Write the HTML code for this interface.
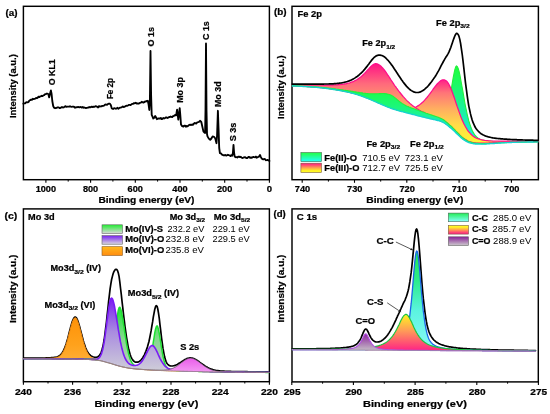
<!DOCTYPE html>
<html><head><meta charset="utf-8"><title>XPS spectra</title>
<style>
html,body{margin:0;padding:0;background:#fff;}
svg{display:block;font-family:"Liberation Sans",Arial,sans-serif;}
text{fill:#000;}
text[font-weight=bold]{stroke:#000;stroke-width:0.22px;}
</style></head>
<body>
<svg width="550" height="414" viewBox="0 0 550 414">
<defs>
<linearGradient id="gbp" x1="0" y1="0" x2="0" y2="1"><stop offset="0" stop-color="#ff1485"/><stop offset="0.25" stop-color="#ff6a7c"/><stop offset="0.5" stop-color="#ffa466"/><stop offset="0.75" stop-color="#ffd44a"/><stop offset="1" stop-color="#fff830"/></linearGradient>
<linearGradient id="gbp2" x1="0" y1="0" x2="0" y2="1"><stop offset="0" stop-color="#ff2088"/><stop offset="0.2" stop-color="#ff7478"/><stop offset="0.45" stop-color="#ffae60"/><stop offset="0.7" stop-color="#ffdc48"/><stop offset="1" stop-color="#fff830"/></linearGradient>
<linearGradient id="gbg" x1="0" y1="0" x2="0" y2="1"><stop offset="0" stop-color="#1cff3c"/><stop offset="0.45" stop-color="#1cf58a"/><stop offset="1" stop-color="#1ce6ee"/></linearGradient>
<linearGradient id="lb1" x1="0" y1="0" x2="0" y2="1"><stop offset="0" stop-color="#22ff44"/><stop offset="1" stop-color="#22ffff"/></linearGradient>
<linearGradient id="lb2" x1="0" y1="0" x2="0" y2="1"><stop offset="0" stop-color="#ff1a80"/><stop offset="0.15" stop-color="#ff3a7a"/><stop offset="0.5" stop-color="#ffa050"/><stop offset="0.8" stop-color="#fff028"/><stop offset="1" stop-color="#ffff20"/></linearGradient>
<linearGradient id="gco" x1="0" y1="0" x2="0" y2="1"><stop offset="0" stop-color="#ff9208"/><stop offset="0.5" stop-color="#ffa21c"/><stop offset="1" stop-color="#ffb648"/></linearGradient>
<linearGradient id="gcg" x1="0" y1="0" x2="0" y2="1"><stop offset="0" stop-color="#1fe636"/><stop offset="0.5" stop-color="#86da8e"/><stop offset="1" stop-color="#c6c6ca"/></linearGradient>
<linearGradient id="gcv" x1="0" y1="0" x2="0" y2="1"><stop offset="0" stop-color="#7a1cf0"/><stop offset="0.45" stop-color="#a98be0"/><stop offset="1" stop-color="#d0d0d8"/></linearGradient>
<linearGradient id="gcs" x1="0" y1="0" x2="0" y2="1"><stop offset="0" stop-color="#ea5cea"/><stop offset="1" stop-color="#f49af4"/></linearGradient>
<linearGradient id="lc1" x1="0" y1="0" x2="0" y2="1"><stop offset="0" stop-color="#22ee33"/><stop offset="1" stop-color="#d8d8d8"/></linearGradient>
<linearGradient id="lc2" x1="0" y1="0" x2="0" y2="1"><stop offset="0" stop-color="#7722ee"/><stop offset="1" stop-color="#d8d8e0"/></linearGradient>
<linearGradient id="lc3" x1="0" y1="0" x2="0" y2="1"><stop offset="0" stop-color="#ffb81c"/><stop offset="1" stop-color="#ff8c10"/></linearGradient>
<linearGradient id="gdc" x1="0" y1="0" x2="0" y2="1"><stop offset="0" stop-color="#1fe652"/><stop offset="0.3" stop-color="#2cec8c"/><stop offset="0.6" stop-color="#5cf4e0"/><stop offset="1" stop-color="#8af8f8"/></linearGradient>
<linearGradient id="gds" x1="0" y1="0" x2="0" y2="1"><stop offset="0" stop-color="#fff420"/><stop offset="0.45" stop-color="#ff9a58"/><stop offset="1" stop-color="#ff1f86"/></linearGradient>
<linearGradient id="gdo" x1="0" y1="0" x2="0" y2="1"><stop offset="0" stop-color="#8a249c"/><stop offset="1" stop-color="#c8c4c8"/></linearGradient>
<linearGradient id="ld1" x1="0" y1="0" x2="0" y2="1"><stop offset="0" stop-color="#22ee55"/><stop offset="1" stop-color="#88ffff"/></linearGradient>
<linearGradient id="ld2" x1="0" y1="0" x2="0" y2="1"><stop offset="0" stop-color="#ffff22"/><stop offset="0.2" stop-color="#fff028"/><stop offset="0.5" stop-color="#ffa050"/><stop offset="0.85" stop-color="#ff3a7a"/><stop offset="1" stop-color="#ff2288"/></linearGradient>
<linearGradient id="ld3" x1="0" y1="0" x2="0" y2="1"><stop offset="0" stop-color="#882299"/><stop offset="1" stop-color="#cccccc"/></linearGradient>
</defs>
<rect x="0" y="0" width="550" height="414" fill="#fff"/>
<rect x="23.4" y="6.3" width="246" height="173.4" fill="none" stroke="#000" stroke-width="1.45"/>
<polyline points="23.4,103.7 24.3,103.4 25.1,103.3 26,102.3 26.8,102.2 27.7,102.4 28.5,102 29.4,100.5 30.2,100.2 31.1,99.6 31.9,99.8 32.8,98.8 33.6,99.1 34.5,98.8 35.3,98.7 36.1,97.9 36.9,98.2 37.7,97.7 38.5,96.6 39.4,97.1 40.2,96.3 41,96.3 41.8,95.8 42.6,96.1 43.4,95.4 44.2,95.2 45.1,94.1 46.1,94.1 47,93.5 48.3,94 49.2,97.4 50.2,93 50.9,90.4 51.6,94 52.3,101 53.2,106 54,107.6 55.1,108.2 56.2,108 57,107.6 57.9,107.3 58.7,107.4 59.5,108.1 60.3,108 61.2,107.4 62,107 62.9,107.5 63.8,107.4 64.7,106.6 65.6,106.2 66.5,106.9 67.4,106.7 68.3,106.6 69.2,106.5 70,106.3 70.9,106.7 71.7,106.8 72.6,106.6 73.4,106.7 74.3,107 75.1,107.7 76,107.2 76.8,107.4 77.7,107 78.5,107 79.3,107.4 80.2,107 81,107.1 81.9,107.6 82.7,107 83.5,107.7 84.4,107.5 85.2,107.8 86,108 86.9,107.9 87.7,107.7 88.5,107.6 89.3,107 90.2,107.4 91,107 91.9,106.7 92.8,107.1 93.7,106.7 94.6,106.8 95.5,106.2 96.4,106.4 97.3,106.8 98.1,107.4 99,106.1 99.8,106.6 100.7,106.4 101.5,106.4 102.3,105.9 103.2,105.9 104,105.6 105,104.7 106,104.5 107,104.9 108,104 108.9,103.6 109.9,103.7 110.8,105 111.8,108.5 113,109 113.9,108.3 114.8,108.2 115.7,108.7 116.6,108.5 117.5,107.8 118.4,108.7 119.3,108 120.2,107.6 121.1,107.6 122,107 122.8,106.4 123.7,107.1 124.5,106.7 125.3,106.3 126.2,105.7 127,105.9 127.9,105.5 128.7,104.9 129.6,104.9 130.5,105.1 131.4,104.4 132.3,103.8 133.2,103.8 134.1,103.1 135,103.3 135.8,102.8 136.7,103.5 137.5,103.5 138.3,103.7 139.2,103.4 140,102.8 140.9,102.7 141.7,101.8 142.6,102.1 143.4,102.6 144.3,102.2 145.1,101.5 146,101.3 146.9,101 147.8,100.8 148.5,104 149.3,110 149.9,100 150.5,50.9 151.1,95 151.7,114.9 152.5,116.7 153.3,118.5 154.4,117.5 155.2,116 156.1,117.5 156.9,119.2 157.9,118.6 159,118.3 160,118.6 160.8,117.9 161.7,119.1 162.5,118.8 163.4,118 164.2,118.5 165,118.2 165.8,117.4 166.6,117.4 167.4,118 168.2,117.6 169,117.2 169.8,117 170.6,116.5 171.4,116.8 172.2,117.1 173,116.1 173.8,116 175,115.1 176.2,115.4 176.7,112 177.1,109.6 177.6,114 178.3,119.7 179,114 179.7,108.2 180.3,115 181,124.5 182,126 183.5,126.5 184.3,125.7 185.1,125.6 185.9,126.8 186.7,126 187.5,126.3 188.3,125.7 189.2,124.9 190.2,124.7 191.1,125.1 192,124.5 192.9,124.8 193.8,123.7 194.7,122.9 195.6,123.3 196.4,123.5 197.2,122.3 198,122.2 199,121.9 200,120.8 201.3,122 202.2,126 203.4,131.4 204.3,132.5 205.1,133 205.5,110 206,43.5 206.5,110 207,134 207.5,136.4 208.8,138.6 210.2,139.8 211.4,138.5 212.6,136.4 214,136.8 215.3,138.5 216.5,143.2 217.1,135 217.9,110.8 218.6,130 219.2,148 219.9,153 220.9,153.3 222,154.6 222.8,155 223.7,155.3 224.5,155.3 225.3,154.9 226.2,155.5 227,155.3 227.9,154.8 228.7,155.2 229.6,155.4 230.5,156.1 231.3,155.1 232.2,155.7 232.9,153 233.5,144.9 234.1,153 234.7,156.5 235.6,157.2 236.5,157.1 237.3,157.5 238.2,156.7 239.1,156.6 240,157.1 240.8,156.8 241.6,157.7 242.4,158 243.3,157.7 244.1,157.4 244.9,157.2 245.7,157.6 246.6,158.1 247.5,158.1 248.3,156.9 249.2,157 250.1,157.9 251,157.4 251.8,157.9 252.6,157.1 253.4,157 254.2,157.2 255.1,157.3 255.9,156.6 256.7,157.7 257.5,157.2 258.4,156.9 259.2,156.4 260,155 260.8,156.8 261.6,158.4 262.8,159.2 264,159.2 264.9,159 265.8,160.3 266.7,160.2 267.6,160 268.5,160.3 269.4,161" fill="none" stroke="#000" stroke-width="1.85" stroke-linejoin="round" stroke-linecap="round"/>
<line x1="45.9" y1="179.8" x2="45.9" y2="182.8" stroke="#000" stroke-width="1.1"/>
<line x1="90.6" y1="179.8" x2="90.6" y2="182.8" stroke="#000" stroke-width="1.1"/>
<line x1="135.3" y1="179.8" x2="135.3" y2="182.8" stroke="#000" stroke-width="1.1"/>
<line x1="180" y1="179.8" x2="180" y2="182.8" stroke="#000" stroke-width="1.1"/>
<line x1="224.7" y1="179.8" x2="224.7" y2="182.8" stroke="#000" stroke-width="1.1"/>
<line x1="269.4" y1="179.8" x2="269.4" y2="182.8" stroke="#000" stroke-width="1.1"/>
<line x1="68.2" y1="179.8" x2="68.2" y2="181.6" stroke="#000" stroke-width="1.0"/>
<line x1="112.9" y1="179.8" x2="112.9" y2="181.6" stroke="#000" stroke-width="1.0"/>
<line x1="157.6" y1="179.8" x2="157.6" y2="181.6" stroke="#000" stroke-width="1.0"/>
<line x1="202.3" y1="179.8" x2="202.3" y2="181.6" stroke="#000" stroke-width="1.0"/>
<line x1="247" y1="179.8" x2="247" y2="181.6" stroke="#000" stroke-width="1.0"/>
<rect x="292" y="6.3" width="246.4" height="173.4" fill="none" stroke="#000" stroke-width="1.45"/>
<polygon points="292.3,85.9 293.1,85.9 293.9,85.9 294.8,86 295.6,86 296.4,86.1 297.2,86.1 298,86.1 298.9,86.2 299.7,86.2 300.5,86.3 301.3,86.3 302.2,86.4 303,86.4 303.8,86.4 304.6,86.5 305.4,86.5 306.3,86.6 307.1,86.6 307.9,86.7 308.7,86.7 309.5,86.8 310.4,86.9 311.2,86.9 312,87 312.8,87 313.6,87.1 314.5,87.2 315.3,87.2 316.1,87.3 316.9,87.4 317.8,87.4 318.6,87.5 319.4,87.6 320.2,87.7 321,87.7 321.9,87.8 322.7,87.9 323.5,88 324.3,88.1 325.1,88.2 326,88.3 326.8,88.4 327.6,88.5 328.4,88.6 329.2,88.7 330.1,88.9 330.9,89 331.7,89.1 332.5,89.2 333.4,89.4 334.2,89.5 335,89.6 335.8,89.8 336.6,89.9 337.5,90 338.3,90.2 339.1,90.3 339.9,90.4 340.7,90.6 341.6,90.7 342.4,90.9 343.2,91.1 344,91.2 344.8,91.4 345.7,91.6 346.5,91.7 347.3,91.9 348.1,92.1 349,92.3 349.8,92.5 350.6,92.7 351.4,92.9 352.2,93.1 353.1,93.3 353.9,93.5 354.7,93.8 355.5,94 356.3,94.2 357.2,94.5 358,94.7 358.8,95 359.6,95.3 360.4,95.6 361.3,95.9 362.1,96.2 362.9,96.5 363.7,96.8 364.6,97.1 365.4,97.4 366.2,97.7 367,98 367.8,98.3 368.7,98.7 369.5,99 370.3,99.3 371.1,99.7 371.9,100 372.8,100.4 373.6,100.7 374.4,101.1 375.2,101.4 376,101.8 376.9,102.2 377.7,102.5 378.5,102.9 379.3,103.2 380.2,103.6 381,104 381.8,104.3 382.6,104.6 383.4,105 384.3,105.3 385.1,105.7 385.9,106 386.7,106.4 387.5,106.7 388.4,107 389.2,107.3 390,107.6 390.8,107.9 391.6,108.2 392.5,108.5 393.3,108.8 394.1,109.1 394.9,109.3 395.8,109.5 396.6,109.8 397.4,110 398.2,110.2 399,110.4 399.9,110.6 400.7,110.8 401.5,111 402.3,111.2 403.1,111.4 404,111.6 404.8,111.8 405.6,112 406.4,112.2 407.2,112.4 408.1,112.6 408.9,112.8 409.7,113 410.5,113.2 411.4,113.4 412.2,113.5 413,113.7 413.8,113.9 414.6,114.1 415.5,114.3 416.3,114.4 417.1,114.6 417.9,114.8 418.7,114.9 419.6,115.1 420.4,115.3 421.2,115.4 422,115.6 422.9,115.7 423.7,115.8 424.5,116 425.3,116.1 426.1,116.2 427,116.4 427.8,116.5 428.6,116.6 429.4,116.7 430.2,116.7 431.1,116.8 431.9,116.8 432.7,116.8 433.5,116.8 434.3,116.8 435.2,116.8 436,116.8 436.8,116.7 437.6,116.6 438.5,116.5 439.3,116.3 440.1,116 440.9,115.7 441.7,115.3 442.6,114.7 443.4,114 444.2,113.1 445,112 445.8,110.5 446.7,108.6 447.5,106.3 448.3,103.5 449.1,100.1 449.9,96.3 450.8,91.9 451.6,87.3 452.4,82.4 453.2,77.6 454.1,73.1 454.9,69.4 455.7,66.9 456.5,65.9 457.3,66.6 458.2,68.4 459,71.1 459.8,74.6 460.6,78.8 461.4,83.3 462.3,88 463.1,92.7 463.9,97.4 464.7,102 465.5,106.3 466.4,110.4 467.2,114.3 468,117.7 468.8,120.9 469.7,123.7 470.5,126.1 471.3,128.3 472.1,130.3 472.9,131.9 473.8,133.4 474.6,134.6 475.4,135.7 476.2,136.5 477,137.2 477.9,137.9 478.7,138.4 479.5,138.9 480.3,139.3 481.1,139.6 482,139.9 482.8,140.2 483.6,140.4 484.4,140.6 485.3,140.7 486.1,140.9 486.9,141 487.7,141.1 488.5,141.1 489.4,141.2 490.2,141.3 491,141.3 491.8,141.4 492.6,141.4 493.5,141.5 494.3,141.5 495.1,141.5 495.9,141.5 496.7,141.5 497.6,141.5 498.4,141.5 499.2,141.5 500,141.5 500.9,141.5 501.7,141.5 502.5,141.5 503.3,141.5 504.1,141.5 505,141.5 505.8,141.5 506.6,141.5 507.4,141.5 508.2,141.5 509.1,141.5 509.9,141.5 510.7,141.5 511.5,141.5 512.3,141.5 513.2,141.5 514,141.5 514.8,141.5 515.6,141.5 516.5,141.5 517.3,141.5 518.1,141.5 518.9,141.5 519.7,141.5 520.6,141.5 521.4,141.5 522.2,141.5 523,141.5 523.8,141.5 524.7,141.5 525.5,141.5 526.3,141.5 527.1,141.5 527.9,141.5 528.8,141.5 529.6,141.5 530.4,141.5 531.2,141.5 532.1,141.5 532.9,141.5 533.7,141.5 534.5,141.5 535.3,141.5 536.2,141.5 537,141.5 537.8,141.5 537.8,141.9 537,141.9 536.2,141.9 535.3,141.9 534.5,141.9 533.7,142 532.9,142 532.1,142 531.2,142 530.4,142 529.6,142 528.8,142 527.9,142 527.1,142.1 526.3,142.1 525.5,142.1 524.7,142.1 523.8,142.1 523,142.1 522.2,142.2 521.4,142.2 520.6,142.2 519.7,142.2 518.9,142.2 518.1,142.2 517.3,142.3 516.5,142.3 515.6,142.3 514.8,142.3 514,142.4 513.2,142.4 512.3,142.4 511.5,142.5 510.7,142.5 509.9,142.5 509.1,142.6 508.2,142.6 507.4,142.6 506.6,142.7 505.8,142.7 505,142.7 504.1,142.8 503.3,142.8 502.5,142.9 501.7,142.9 500.9,143 500,143 499.2,143.1 498.4,143.1 497.6,143.2 496.7,143.3 495.9,143.3 495.1,143.4 494.3,143.5 493.5,143.5 492.6,143.6 491.8,143.6 491,143.7 490.2,143.7 489.4,143.8 488.5,143.8 487.7,143.9 486.9,143.9 486.1,144 485.3,144 484.4,144.1 483.6,144.1 482.8,144.1 482,144.1 481.1,144.1 480.3,144.1 479.5,144.1 478.7,144.1 477.9,144 477,144 476.2,144 475.4,144 474.6,143.9 473.8,143.8 472.9,143.6 472.1,143.4 471.3,143.3 470.5,143 469.7,142.8 468.8,142.6 468,142.2 467.2,141.8 466.4,141.4 465.5,140.9 464.7,140.4 463.9,139.9 463.1,139.4 462.3,138.8 461.4,138.1 460.6,137.4 459.8,136.6 459,135.8 458.2,135 457.3,134.2 456.5,133.5 455.7,132.7 454.9,131.9 454.1,131.1 453.2,130.3 452.4,129.6 451.6,128.8 450.8,128.1 449.9,127.5 449.1,126.8 448.3,126.1 447.5,125.5 446.7,124.8 445.8,124.2 445,123.6 444.2,123 443.4,122.6 442.6,122.1 441.7,121.8 440.9,121.5 440.1,121.2 439.3,120.9 438.5,120.7 437.6,120.5 436.8,120.3 436,120.1 435.2,119.9 434.3,119.7 433.5,119.5 432.7,119.3 431.9,119.2 431.1,119 430.2,118.8 429.4,118.6 428.6,118.4 427.8,118.2 427,118 426.1,117.8 425.3,117.6 424.5,117.4 423.7,117.2 422.9,117 422,116.8 421.2,116.6 420.4,116.4 419.6,116.2 418.7,116 417.9,115.8 417.1,115.6 416.3,115.4 415.5,115.1 414.6,114.9 413.8,114.7 413,114.5 412.2,114.3 411.4,114.1 410.5,113.9 409.7,113.7 408.9,113.5 408.1,113.2 407.2,113 406.4,112.8 405.6,112.6 404.8,112.4 404,112.1 403.1,111.9 402.3,111.7 401.5,111.5 400.7,111.3 399.9,111.1 399,110.8 398.2,110.6 397.4,110.4 396.6,110.2 395.8,109.9 394.9,109.7 394.1,109.4 393.3,109.2 392.5,108.9 391.6,108.6 390.8,108.3 390,108 389.2,107.7 388.4,107.4 387.5,107 386.7,106.7 385.9,106.3 385.1,106 384.3,105.6 383.4,105.3 382.6,104.9 381.8,104.6 381,104.2 380.2,103.9 379.3,103.5 378.5,103.1 377.7,102.8 376.9,102.4 376,102 375.2,101.7 374.4,101.3 373.6,101 372.8,100.6 371.9,100.2 371.1,99.9 370.3,99.5 369.5,99.2 368.7,98.9 367.8,98.5 367,98.2 366.2,97.9 365.4,97.6 364.6,97.2 363.7,96.9 362.9,96.6 362.1,96.3 361.3,96 360.4,95.7 359.6,95.5 358.8,95.2 358,94.9 357.2,94.7 356.3,94.4 355.5,94.2 354.7,93.9 353.9,93.7 353.1,93.5 352.2,93.2 351.4,93 350.6,92.8 349.8,92.6 349,92.4 348.1,92.2 347.3,92 346.5,91.9 345.7,91.7 344.8,91.5 344,91.3 343.2,91.2 342.4,91 341.6,90.9 340.7,90.7 339.9,90.6 339.1,90.4 338.3,90.3 337.5,90.1 336.6,90 335.8,89.9 335,89.7 334.2,89.6 333.4,89.5 332.5,89.3 331.7,89.2 330.9,89.1 330.1,89 329.2,88.8 328.4,88.7 327.6,88.6 326.8,88.5 326,88.4 325.1,88.3 324.3,88.2 323.5,88.1 322.7,88 321.9,87.9 321,87.8 320.2,87.7 319.4,87.7 318.6,87.6 317.8,87.5 316.9,87.4 316.1,87.4 315.3,87.3 314.5,87.2 313.6,87.2 312.8,87.1 312,87 311.2,87 310.4,86.9 309.5,86.9 308.7,86.8 307.9,86.8 307.1,86.7 306.3,86.7 305.4,86.6 304.6,86.6 303.8,86.5 303,86.5 302.2,86.4 301.3,86.4 300.5,86.3 299.7,86.3 298.9,86.2 298,86.2 297.2,86.2 296.4,86.1 295.6,86.1 294.8,86 293.9,86 293.1,86 292.3,85.9" fill="url(#gbg)" stroke="none"/>
<polyline points="292.3,85.9 293.1,85.9 293.9,85.9 294.8,86 295.6,86 296.4,86.1 297.2,86.1 298,86.1 298.9,86.2 299.7,86.2 300.5,86.3 301.3,86.3 302.2,86.4 303,86.4 303.8,86.4 304.6,86.5 305.4,86.5 306.3,86.6 307.1,86.6 307.9,86.7 308.7,86.7 309.5,86.8 310.4,86.9 311.2,86.9 312,87 312.8,87 313.6,87.1 314.5,87.2 315.3,87.2 316.1,87.3 316.9,87.4 317.8,87.4 318.6,87.5 319.4,87.6 320.2,87.7 321,87.7 321.9,87.8 322.7,87.9 323.5,88 324.3,88.1 325.1,88.2 326,88.3 326.8,88.4 327.6,88.5 328.4,88.6 329.2,88.7 330.1,88.9 330.9,89 331.7,89.1 332.5,89.2 333.4,89.4 334.2,89.5 335,89.6 335.8,89.8 336.6,89.9 337.5,90 338.3,90.2 339.1,90.3 339.9,90.4 340.7,90.6 341.6,90.7 342.4,90.9 343.2,91.1 344,91.2 344.8,91.4 345.7,91.6 346.5,91.7 347.3,91.9 348.1,92.1 349,92.3 349.8,92.5 350.6,92.7 351.4,92.9 352.2,93.1 353.1,93.3 353.9,93.5 354.7,93.8 355.5,94 356.3,94.2 357.2,94.5 358,94.7 358.8,95 359.6,95.3 360.4,95.6 361.3,95.9 362.1,96.2 362.9,96.5 363.7,96.8 364.6,97.1 365.4,97.4 366.2,97.7 367,98 367.8,98.3 368.7,98.7 369.5,99 370.3,99.3 371.1,99.7 371.9,100 372.8,100.4 373.6,100.7 374.4,101.1 375.2,101.4 376,101.8 376.9,102.2 377.7,102.5 378.5,102.9 379.3,103.2 380.2,103.6 381,104 381.8,104.3 382.6,104.6 383.4,105 384.3,105.3 385.1,105.7 385.9,106 386.7,106.4 387.5,106.7 388.4,107 389.2,107.3 390,107.6 390.8,107.9 391.6,108.2 392.5,108.5 393.3,108.8 394.1,109.1 394.9,109.3 395.8,109.5 396.6,109.8 397.4,110 398.2,110.2 399,110.4 399.9,110.6 400.7,110.8 401.5,111 402.3,111.2 403.1,111.4 404,111.6 404.8,111.8 405.6,112 406.4,112.2 407.2,112.4 408.1,112.6 408.9,112.8 409.7,113 410.5,113.2 411.4,113.4 412.2,113.5 413,113.7 413.8,113.9 414.6,114.1 415.5,114.3 416.3,114.4 417.1,114.6 417.9,114.8 418.7,114.9 419.6,115.1 420.4,115.3 421.2,115.4 422,115.6 422.9,115.7 423.7,115.8 424.5,116 425.3,116.1 426.1,116.2 427,116.4 427.8,116.5 428.6,116.6 429.4,116.7 430.2,116.7 431.1,116.8 431.9,116.8 432.7,116.8 433.5,116.8 434.3,116.8 435.2,116.8 436,116.8 436.8,116.7 437.6,116.6 438.5,116.5 439.3,116.3 440.1,116 440.9,115.7 441.7,115.3 442.6,114.7 443.4,114 444.2,113.1 445,112 445.8,110.5 446.7,108.6 447.5,106.3 448.3,103.5 449.1,100.1 449.9,96.3 450.8,91.9 451.6,87.3 452.4,82.4 453.2,77.6 454.1,73.1 454.9,69.4 455.7,66.9 456.5,65.9 457.3,66.6 458.2,68.4 459,71.1 459.8,74.6 460.6,78.8 461.4,83.3 462.3,88 463.1,92.7 463.9,97.4 464.7,102 465.5,106.3 466.4,110.4 467.2,114.3 468,117.7 468.8,120.9 469.7,123.7 470.5,126.1 471.3,128.3 472.1,130.3 472.9,131.9 473.8,133.4 474.6,134.6 475.4,135.7 476.2,136.5 477,137.2 477.9,137.9 478.7,138.4 479.5,138.9 480.3,139.3 481.1,139.6 482,139.9 482.8,140.2 483.6,140.4 484.4,140.6 485.3,140.7 486.1,140.9 486.9,141 487.7,141.1 488.5,141.1 489.4,141.2 490.2,141.3 491,141.3 491.8,141.4 492.6,141.4 493.5,141.5 494.3,141.5 495.1,141.5 495.9,141.5 496.7,141.5 497.6,141.5 498.4,141.5 499.2,141.5 500,141.5 500.9,141.5 501.7,141.5 502.5,141.5 503.3,141.5 504.1,141.5 505,141.5 505.8,141.5 506.6,141.5 507.4,141.5 508.2,141.5 509.1,141.5 509.9,141.5 510.7,141.5 511.5,141.5 512.3,141.5 513.2,141.5 514,141.5 514.8,141.5 515.6,141.5 516.5,141.5 517.3,141.5 518.1,141.5 518.9,141.5 519.7,141.5 520.6,141.5 521.4,141.5 522.2,141.5 523,141.5 523.8,141.5 524.7,141.5 525.5,141.5 526.3,141.5 527.1,141.5 527.9,141.5 528.8,141.5 529.6,141.5 530.4,141.5 531.2,141.5 532.1,141.5 532.9,141.5 533.7,141.5 534.5,141.5 535.3,141.5 536.2,141.5 537,141.5 537.8,141.5" fill="none" stroke="#22f03c" stroke-width="1.1" stroke-linejoin="round" stroke-linecap="round"/>
<polygon points="292.3,85.7 293.1,85.8 293.9,85.8 294.8,85.8 295.6,85.9 296.4,85.9 297.2,86 298,86 298.9,86 299.7,86.1 300.5,86.1 301.3,86.2 302.2,86.2 303,86.2 303.8,86.3 304.6,86.3 305.4,86.4 306.3,86.4 307.1,86.5 307.9,86.5 308.7,86.6 309.5,86.6 310.4,86.7 311.2,86.7 312,86.8 312.8,86.9 313.6,86.9 314.5,87 315.3,87 316.1,87.1 316.9,87.2 317.8,87.2 318.6,87.3 319.4,87.4 320.2,87.5 321,87.5 321.9,87.6 322.7,87.7 323.5,87.8 324.3,87.9 325.1,88 326,88.1 326.8,88.2 327.6,88.3 328.4,88.4 329.2,88.5 330.1,88.6 330.9,88.7 331.7,88.9 332.5,89 333.4,89.1 334.2,89.2 335,89.4 335.8,89.5 336.6,89.6 337.5,89.8 338.3,89.9 339.1,90 339.9,90.2 340.7,90.3 341.6,90.5 342.4,90.6 343.2,90.8 344,90.9 344.8,91.1 345.7,91.3 346.5,91.4 347.3,91.6 348.1,91.8 349,92 349.8,92.2 350.6,92.4 351.4,92.6 352.2,92.8 353.1,93 353.9,93.2 354.7,93.4 355.5,93.6 356.3,93.9 357.2,94.1 358,94.4 358.8,94.6 359.6,94.9 360.4,95.2 361.3,95.4 362.1,95.7 362.9,96 363.7,96.3 364.6,96.6 365.4,96.9 366.2,97.2 367,97.5 367.8,97.8 368.7,98.2 369.5,98.5 370.3,98.8 371.1,99.1 371.9,99.5 372.8,99.8 373.6,100.2 374.4,100.5 375.2,100.8 376,101.2 376.9,101.5 377.7,101.9 378.5,102.2 379.3,102.6 380.2,102.9 381,103.2 381.8,103.6 382.6,103.9 383.4,104.2 384.3,104.5 385.1,104.9 385.9,105.2 386.7,105.5 387.5,105.8 388.4,106.1 389.2,106.4 390,106.7 390.8,106.9 391.6,107.2 392.5,107.4 393.3,107.7 394.1,107.9 394.9,108.1 395.8,108.2 396.6,108.4 397.4,108.5 398.2,108.7 399,108.8 399.9,108.9 400.7,109 401.5,109.1 402.3,109.1 403.1,109.2 404,109.2 404.8,109.3 405.6,109.3 406.4,109.3 407.2,109.2 408.1,109.2 408.9,109.1 409.7,109 410.5,108.8 411.4,108.7 412.2,108.4 413,108.2 413.8,107.9 414.6,107.6 415.5,107.2 416.3,106.8 417.1,106.4 417.9,105.9 418.7,105.4 419.6,104.8 420.4,104.1 421.2,103.5 422,102.7 422.9,102 423.7,101.2 424.5,100.3 425.3,99.4 426.1,98.5 427,97.5 427.8,96.5 428.6,95.4 429.4,94.4 430.2,93.3 431.1,92.1 431.9,91 432.7,89.9 433.5,88.7 434.3,87.6 435.2,86.5 436,85.5 436.8,84.5 437.6,83.5 438.5,82.7 439.3,81.9 440.1,81.2 440.9,80.6 441.7,80.2 442.6,79.9 443.4,79.8 444.2,79.9 445,80.2 445.8,80.6 446.7,81.2 447.5,82.1 448.3,83.3 449.1,84.8 449.9,86.4 450.8,88.2 451.6,90.3 452.4,92.5 453.2,94.8 454.1,97.2 454.9,99.6 455.7,102.1 456.5,104.5 457.3,106.9 458.2,109.3 459,111.6 459.8,113.9 460.6,116.1 461.4,118.2 462.3,120.2 463.1,122 463.9,123.7 464.7,125.3 465.5,126.8 466.4,128.3 467.2,129.6 468,130.8 468.8,131.9 469.7,132.8 470.5,133.7 471.3,134.5 472.1,135.3 472.9,136 473.8,136.6 474.6,137.1 475.4,137.6 476.2,138 477,138.3 477.9,138.6 478.7,138.9 479.5,139.2 480.3,139.5 481.1,139.7 482,139.9 482.8,140.1 483.6,140.2 484.4,140.3 485.3,140.5 486.1,140.6 486.9,140.6 487.7,140.7 488.5,140.8 489.4,140.8 490.2,140.9 491,140.9 491.8,141 492.6,141 493.5,141 494.3,141.1 495.1,141.1 495.9,141.1 496.7,141.1 497.6,141.1 498.4,141.1 499.2,141.1 500,141.1 500.9,141.1 501.7,141.1 502.5,141.1 503.3,141.1 504.1,141.1 505,141.1 505.8,141.1 506.6,141.1 507.4,141.1 508.2,141.1 509.1,141.1 509.9,141.1 510.7,141.1 511.5,141.1 512.3,141.1 513.2,141.1 514,141.1 514.8,141.1 515.6,141.1 516.5,141.1 517.3,141.1 518.1,141.1 518.9,141.1 519.7,141.1 520.6,141.1 521.4,141.1 522.2,141.1 523,141.2 523.8,141.2 524.7,141.2 525.5,141.2 526.3,141.2 527.1,141.2 527.9,141.2 528.8,141.2 529.6,141.2 530.4,141.2 531.2,141.2 532.1,141.2 532.9,141.2 533.7,141.2 534.5,141.2 535.3,141.2 536.2,141.2 537,141.2 537.8,141.2 537.8,141.9 537,141.9 536.2,141.9 535.3,141.9 534.5,141.9 533.7,142 532.9,142 532.1,142 531.2,142 530.4,142 529.6,142 528.8,142 527.9,142 527.1,142.1 526.3,142.1 525.5,142.1 524.7,142.1 523.8,142.1 523,142.1 522.2,142.2 521.4,142.2 520.6,142.2 519.7,142.2 518.9,142.2 518.1,142.2 517.3,142.3 516.5,142.3 515.6,142.3 514.8,142.3 514,142.4 513.2,142.4 512.3,142.4 511.5,142.5 510.7,142.5 509.9,142.5 509.1,142.6 508.2,142.6 507.4,142.6 506.6,142.7 505.8,142.7 505,142.7 504.1,142.8 503.3,142.8 502.5,142.9 501.7,142.9 500.9,143 500,143 499.2,143.1 498.4,143.1 497.6,143.2 496.7,143.3 495.9,143.3 495.1,143.4 494.3,143.5 493.5,143.5 492.6,143.6 491.8,143.6 491,143.7 490.2,143.7 489.4,143.8 488.5,143.8 487.7,143.9 486.9,143.9 486.1,144 485.3,144 484.4,144.1 483.6,144.1 482.8,144.1 482,144.1 481.1,144.1 480.3,144.1 479.5,144.1 478.7,144.1 477.9,144 477,144 476.2,144 475.4,144 474.6,143.9 473.8,143.8 472.9,143.6 472.1,143.4 471.3,143.3 470.5,143 469.7,142.8 468.8,142.6 468,142.2 467.2,141.8 466.4,141.4 465.5,140.9 464.7,140.4 463.9,139.9 463.1,139.4 462.3,138.8 461.4,138.1 460.6,137.4 459.8,136.6 459,135.8 458.2,135 457.3,134.2 456.5,133.5 455.7,132.7 454.9,131.9 454.1,131.1 453.2,130.3 452.4,129.6 451.6,128.8 450.8,128.1 449.9,127.5 449.1,126.8 448.3,126.1 447.5,125.5 446.7,124.8 445.8,124.2 445,123.6 444.2,123 443.4,122.6 442.6,122.1 441.7,121.8 440.9,121.5 440.1,121.2 439.3,120.9 438.5,120.7 437.6,120.5 436.8,120.3 436,120.1 435.2,119.9 434.3,119.7 433.5,119.5 432.7,119.3 431.9,119.2 431.1,119 430.2,118.8 429.4,118.6 428.6,118.4 427.8,118.2 427,118 426.1,117.8 425.3,117.6 424.5,117.4 423.7,117.2 422.9,117 422,116.8 421.2,116.6 420.4,116.4 419.6,116.2 418.7,116 417.9,115.8 417.1,115.6 416.3,115.4 415.5,115.1 414.6,114.9 413.8,114.7 413,114.5 412.2,114.3 411.4,114.1 410.5,113.9 409.7,113.7 408.9,113.5 408.1,113.2 407.2,113 406.4,112.8 405.6,112.6 404.8,112.4 404,112.1 403.1,111.9 402.3,111.7 401.5,111.5 400.7,111.3 399.9,111.1 399,110.8 398.2,110.6 397.4,110.4 396.6,110.2 395.8,109.9 394.9,109.7 394.1,109.4 393.3,109.2 392.5,108.9 391.6,108.6 390.8,108.3 390,108 389.2,107.7 388.4,107.4 387.5,107 386.7,106.7 385.9,106.3 385.1,106 384.3,105.6 383.4,105.3 382.6,104.9 381.8,104.6 381,104.2 380.2,103.9 379.3,103.5 378.5,103.1 377.7,102.8 376.9,102.4 376,102 375.2,101.7 374.4,101.3 373.6,101 372.8,100.6 371.9,100.2 371.1,99.9 370.3,99.5 369.5,99.2 368.7,98.9 367.8,98.5 367,98.2 366.2,97.9 365.4,97.6 364.6,97.2 363.7,96.9 362.9,96.6 362.1,96.3 361.3,96 360.4,95.7 359.6,95.5 358.8,95.2 358,94.9 357.2,94.7 356.3,94.4 355.5,94.2 354.7,93.9 353.9,93.7 353.1,93.5 352.2,93.2 351.4,93 350.6,92.8 349.8,92.6 349,92.4 348.1,92.2 347.3,92 346.5,91.9 345.7,91.7 344.8,91.5 344,91.3 343.2,91.2 342.4,91 341.6,90.9 340.7,90.7 339.9,90.6 339.1,90.4 338.3,90.3 337.5,90.1 336.6,90 335.8,89.9 335,89.7 334.2,89.6 333.4,89.5 332.5,89.3 331.7,89.2 330.9,89.1 330.1,89 329.2,88.8 328.4,88.7 327.6,88.6 326.8,88.5 326,88.4 325.1,88.3 324.3,88.2 323.5,88.1 322.7,88 321.9,87.9 321,87.8 320.2,87.7 319.4,87.7 318.6,87.6 317.8,87.5 316.9,87.4 316.1,87.4 315.3,87.3 314.5,87.2 313.6,87.2 312.8,87.1 312,87 311.2,87 310.4,86.9 309.5,86.9 308.7,86.8 307.9,86.8 307.1,86.7 306.3,86.7 305.4,86.6 304.6,86.6 303.8,86.5 303,86.5 302.2,86.4 301.3,86.4 300.5,86.3 299.7,86.3 298.9,86.2 298,86.2 297.2,86.2 296.4,86.1 295.6,86.1 294.8,86 293.9,86 293.1,86 292.3,85.9" fill="url(#gbp2)" stroke="none"/>
<polyline points="292.3,85.7 293.1,85.8 293.9,85.8 294.8,85.8 295.6,85.9 296.4,85.9 297.2,86 298,86 298.9,86 299.7,86.1 300.5,86.1 301.3,86.2 302.2,86.2 303,86.2 303.8,86.3 304.6,86.3 305.4,86.4 306.3,86.4 307.1,86.5 307.9,86.5 308.7,86.6 309.5,86.6 310.4,86.7 311.2,86.7 312,86.8 312.8,86.9 313.6,86.9 314.5,87 315.3,87 316.1,87.1 316.9,87.2 317.8,87.2 318.6,87.3 319.4,87.4 320.2,87.5 321,87.5 321.9,87.6 322.7,87.7 323.5,87.8 324.3,87.9 325.1,88 326,88.1 326.8,88.2 327.6,88.3 328.4,88.4 329.2,88.5 330.1,88.6 330.9,88.7 331.7,88.9 332.5,89 333.4,89.1 334.2,89.2 335,89.4 335.8,89.5 336.6,89.6 337.5,89.8 338.3,89.9 339.1,90 339.9,90.2 340.7,90.3 341.6,90.5 342.4,90.6 343.2,90.8 344,90.9 344.8,91.1 345.7,91.3 346.5,91.4 347.3,91.6 348.1,91.8 349,92 349.8,92.2 350.6,92.4 351.4,92.6 352.2,92.8 353.1,93 353.9,93.2 354.7,93.4 355.5,93.6 356.3,93.9 357.2,94.1 358,94.4 358.8,94.6 359.6,94.9 360.4,95.2 361.3,95.4 362.1,95.7 362.9,96 363.7,96.3 364.6,96.6 365.4,96.9 366.2,97.2 367,97.5 367.8,97.8 368.7,98.2 369.5,98.5 370.3,98.8 371.1,99.1 371.9,99.5 372.8,99.8 373.6,100.2 374.4,100.5 375.2,100.8 376,101.2 376.9,101.5 377.7,101.9 378.5,102.2 379.3,102.6 380.2,102.9 381,103.2 381.8,103.6 382.6,103.9 383.4,104.2 384.3,104.5 385.1,104.9 385.9,105.2 386.7,105.5 387.5,105.8 388.4,106.1 389.2,106.4 390,106.7 390.8,106.9 391.6,107.2 392.5,107.4 393.3,107.7 394.1,107.9 394.9,108.1 395.8,108.2 396.6,108.4 397.4,108.5 398.2,108.7 399,108.8 399.9,108.9 400.7,109 401.5,109.1 402.3,109.1 403.1,109.2 404,109.2 404.8,109.3 405.6,109.3 406.4,109.3 407.2,109.2 408.1,109.2 408.9,109.1 409.7,109 410.5,108.8 411.4,108.7 412.2,108.4 413,108.2 413.8,107.9 414.6,107.6 415.5,107.2 416.3,106.8 417.1,106.4 417.9,105.9 418.7,105.4 419.6,104.8 420.4,104.1 421.2,103.5 422,102.7 422.9,102 423.7,101.2 424.5,100.3 425.3,99.4 426.1,98.5 427,97.5 427.8,96.5 428.6,95.4 429.4,94.4 430.2,93.3 431.1,92.1 431.9,91 432.7,89.9 433.5,88.7 434.3,87.6 435.2,86.5 436,85.5 436.8,84.5 437.6,83.5 438.5,82.7 439.3,81.9 440.1,81.2 440.9,80.6 441.7,80.2 442.6,79.9 443.4,79.8 444.2,79.9 445,80.2 445.8,80.6 446.7,81.2 447.5,82.1 448.3,83.3 449.1,84.8 449.9,86.4 450.8,88.2 451.6,90.3 452.4,92.5 453.2,94.8 454.1,97.2 454.9,99.6 455.7,102.1 456.5,104.5 457.3,106.9 458.2,109.3 459,111.6 459.8,113.9 460.6,116.1 461.4,118.2 462.3,120.2 463.1,122 463.9,123.7 464.7,125.3 465.5,126.8 466.4,128.3 467.2,129.6 468,130.8 468.8,131.9 469.7,132.8 470.5,133.7 471.3,134.5 472.1,135.3 472.9,136 473.8,136.6 474.6,137.1 475.4,137.6 476.2,138 477,138.3 477.9,138.6 478.7,138.9 479.5,139.2 480.3,139.5 481.1,139.7 482,139.9 482.8,140.1 483.6,140.2 484.4,140.3 485.3,140.5 486.1,140.6 486.9,140.6 487.7,140.7 488.5,140.8 489.4,140.8 490.2,140.9 491,140.9 491.8,141 492.6,141 493.5,141 494.3,141.1 495.1,141.1 495.9,141.1 496.7,141.1 497.6,141.1 498.4,141.1 499.2,141.1 500,141.1 500.9,141.1 501.7,141.1 502.5,141.1 503.3,141.1 504.1,141.1 505,141.1 505.8,141.1 506.6,141.1 507.4,141.1 508.2,141.1 509.1,141.1 509.9,141.1 510.7,141.1 511.5,141.1 512.3,141.1 513.2,141.1 514,141.1 514.8,141.1 515.6,141.1 516.5,141.1 517.3,141.1 518.1,141.1 518.9,141.1 519.7,141.1 520.6,141.1 521.4,141.1 522.2,141.1 523,141.2 523.8,141.2 524.7,141.2 525.5,141.2 526.3,141.2 527.1,141.2 527.9,141.2 528.8,141.2 529.6,141.2 530.4,141.2 531.2,141.2 532.1,141.2 532.9,141.2 533.7,141.2 534.5,141.2 535.3,141.2 536.2,141.2 537,141.2 537.8,141.2" fill="none" stroke="#ff0f8a" stroke-width="1.25" stroke-linejoin="round" stroke-linecap="round"/>
<polygon points="292.3,84.6 293.1,84.6 293.9,84.6 294.8,84.6 295.6,84.6 296.4,84.7 297.2,84.7 298,84.7 298.9,84.7 299.7,84.7 300.5,84.7 301.3,84.7 302.2,84.7 303,84.7 303.8,84.8 304.6,84.8 305.4,84.8 306.3,84.8 307.1,84.8 307.9,84.8 308.7,84.8 309.5,84.8 310.4,84.8 311.2,84.8 312,84.9 312.8,84.9 313.6,84.9 314.5,84.9 315.3,84.9 316.1,84.9 316.9,84.9 317.8,84.9 318.6,84.9 319.4,84.9 320.2,84.9 321,84.9 321.9,84.9 322.7,85 323.5,85 324.3,85 325.1,85 326,85 326.8,85 327.6,85 328.4,85 329.2,85 330.1,85 330.9,85 331.7,85 332.5,85 333.4,85 334.2,84.9 335,84.9 335.8,84.9 336.6,84.8 337.5,84.8 338.3,84.7 339.1,84.7 339.9,84.6 340.7,84.5 341.6,84.4 342.4,84.3 343.2,84.2 344,84.1 344.8,83.9 345.7,83.8 346.5,83.6 347.3,83.4 348.1,83.2 349,83 349.8,82.8 350.6,82.5 351.4,82.2 352.2,81.9 353.1,81.6 353.9,81.2 354.7,80.8 355.5,80.4 356.3,80 357.2,79.5 358,78.9 358.8,78.4 359.6,77.8 360.4,77.2 361.3,76.5 362.1,75.8 362.9,75 363.7,74.2 364.6,73.4 365.4,72.5 366.2,71.6 367,70.7 367.8,69.8 368.7,68.9 369.5,68 370.3,67.1 371.1,66.3 371.9,65.6 372.8,64.9 373.6,64.4 374.4,64 375.2,63.7 376,63.7 376.9,63.8 377.7,64.1 378.5,64.5 379.3,65 380.2,65.6 381,66.3 381.8,67.1 382.6,68 383.4,68.9 384.3,70 385.1,71 385.9,72.2 386.7,73.4 387.5,74.6 388.4,75.8 389.2,77 390,78.3 390.8,79.6 391.6,80.8 392.5,82.1 393.3,83.3 394.1,84.6 394.9,85.8 395.8,86.9 396.6,88.1 397.4,89.2 398.2,90.3 399,91.4 399.9,92.5 400.7,93.5 401.5,94.5 402.3,95.5 403.1,96.5 404,97.4 404.8,98.3 405.6,99.2 406.4,100.1 407.2,100.9 408.1,101.7 408.9,102.4 409.7,103.2 410.5,103.9 411.4,104.6 412.2,105.3 413,105.9 413.8,106.5 414.6,107.1 415.5,107.7 416.3,108.2 417.1,108.8 417.9,109.3 418.7,109.8 419.6,110.3 420.4,110.7 421.2,111.2 422,111.6 422.9,112 423.7,112.4 424.5,112.8 425.3,113.2 426.1,113.6 427,113.9 427.8,114.3 428.6,114.6 429.4,115 430.2,115.3 431.1,115.6 431.9,115.8 432.7,116.1 433.5,116.4 434.3,116.7 435.2,116.9 436,117.2 436.8,117.5 437.6,117.8 438.5,118.1 439.3,118.4 440.1,118.7 440.9,119 441.7,119.4 442.6,119.8 443.4,120.3 444.2,120.8 445,121.4 445.8,122.1 446.7,122.8 447.5,123.4 448.3,124.2 449.1,124.9 449.9,125.6 450.8,126.3 451.6,127 452.4,127.8 453.2,128.6 454.1,129.4 454.9,130.2 455.7,131.1 456.5,131.9 457.3,132.7 458.2,133.5 459,134.3 459.8,135.1 460.6,135.9 461.4,136.7 462.3,137.4 463.1,138 463.9,138.5 464.7,139.1 465.5,139.6 466.4,140.1 467.2,140.6 468,141 468.8,141.3 469.7,141.6 470.5,141.9 471.3,142.1 472.1,142.3 472.9,142.5 473.8,142.7 474.6,142.8 475.4,142.9 476.2,143 477,143 477.9,143 478.7,143.1 479.5,143.1 480.3,143.1 481.1,143.1 482,143.2 482.8,143.2 483.6,143.2 484.4,143.1 485.3,143.1 486.1,143.1 486.9,143.1 487.7,143 488.5,143 489.4,142.9 490.2,142.9 491,142.9 491.8,142.8 492.6,142.8 493.5,142.7 494.3,142.7 495.1,142.6 495.9,142.6 496.7,142.5 497.6,142.5 498.4,142.4 499.2,142.4 500,142.3 500.9,142.3 501.7,142.2 502.5,142.2 503.3,142.2 504.1,142.1 505,142.1 505.8,142.1 506.6,142 507.4,142 508.2,142 509.1,141.9 509.9,141.9 510.7,141.9 511.5,141.9 512.3,141.9 513.2,141.8 514,141.8 514.8,141.8 515.6,141.8 516.5,141.7 517.3,141.7 518.1,141.7 518.9,141.7 519.7,141.7 520.6,141.7 521.4,141.7 522.2,141.6 523,141.6 523.8,141.6 524.7,141.6 525.5,141.6 526.3,141.6 527.1,141.6 527.9,141.6 528.8,141.6 529.6,141.6 530.4,141.6 531.2,141.5 532.1,141.5 532.9,141.5 533.7,141.5 534.5,141.5 535.3,141.5 536.2,141.5 537,141.5 537.8,141.5 537.8,141.9 537,141.9 536.2,141.9 535.3,141.9 534.5,141.9 533.7,142 532.9,142 532.1,142 531.2,142 530.4,142 529.6,142 528.8,142 527.9,142 527.1,142.1 526.3,142.1 525.5,142.1 524.7,142.1 523.8,142.1 523,142.1 522.2,142.2 521.4,142.2 520.6,142.2 519.7,142.2 518.9,142.2 518.1,142.2 517.3,142.3 516.5,142.3 515.6,142.3 514.8,142.3 514,142.4 513.2,142.4 512.3,142.4 511.5,142.5 510.7,142.5 509.9,142.5 509.1,142.6 508.2,142.6 507.4,142.6 506.6,142.7 505.8,142.7 505,142.7 504.1,142.8 503.3,142.8 502.5,142.9 501.7,142.9 500.9,143 500,143 499.2,143.1 498.4,143.1 497.6,143.2 496.7,143.3 495.9,143.3 495.1,143.4 494.3,143.5 493.5,143.5 492.6,143.6 491.8,143.6 491,143.7 490.2,143.7 489.4,143.8 488.5,143.8 487.7,143.9 486.9,143.9 486.1,144 485.3,144 484.4,144.1 483.6,144.1 482.8,144.1 482,144.1 481.1,144.1 480.3,144.1 479.5,144.1 478.7,144.1 477.9,144 477,144 476.2,144 475.4,144 474.6,143.9 473.8,143.8 472.9,143.6 472.1,143.4 471.3,143.3 470.5,143 469.7,142.8 468.8,142.6 468,142.2 467.2,141.8 466.4,141.4 465.5,140.9 464.7,140.4 463.9,139.9 463.1,139.4 462.3,138.8 461.4,138.1 460.6,137.4 459.8,136.6 459,135.8 458.2,135 457.3,134.2 456.5,133.5 455.7,132.7 454.9,131.9 454.1,131.1 453.2,130.3 452.4,129.6 451.6,128.8 450.8,128.1 449.9,127.5 449.1,126.8 448.3,126.1 447.5,125.5 446.7,124.8 445.8,124.2 445,123.6 444.2,123 443.4,122.6 442.6,122.1 441.7,121.8 440.9,121.5 440.1,121.2 439.3,120.9 438.5,120.7 437.6,120.5 436.8,120.3 436,120.1 435.2,119.9 434.3,119.7 433.5,119.5 432.7,119.3 431.9,119.2 431.1,119 430.2,118.8 429.4,118.6 428.6,118.4 427.8,118.2 427,118 426.1,117.8 425.3,117.6 424.5,117.4 423.7,117.2 422.9,117 422,116.8 421.2,116.6 420.4,116.4 419.6,116.2 418.7,116 417.9,115.8 417.1,115.6 416.3,115.4 415.5,115.1 414.6,114.9 413.8,114.7 413,114.5 412.2,114.3 411.4,114.1 410.5,113.9 409.7,113.7 408.9,113.5 408.1,113.2 407.2,113 406.4,112.8 405.6,112.6 404.8,112.4 404,112.1 403.1,111.9 402.3,111.7 401.5,111.5 400.7,111.3 399.9,111.1 399,110.8 398.2,110.6 397.4,110.4 396.6,110.2 395.8,109.9 394.9,109.7 394.1,109.4 393.3,109.2 392.5,108.9 391.6,108.6 390.8,108.3 390,108 389.2,107.7 388.4,107.4 387.5,107 386.7,106.7 385.9,106.3 385.1,106 384.3,105.6 383.4,105.3 382.6,104.9 381.8,104.6 381,104.2 380.2,103.9 379.3,103.5 378.5,103.1 377.7,102.8 376.9,102.4 376,102 375.2,101.7 374.4,101.3 373.6,101 372.8,100.6 371.9,100.2 371.1,99.9 370.3,99.5 369.5,99.2 368.7,98.9 367.8,98.5 367,98.2 366.2,97.9 365.4,97.6 364.6,97.2 363.7,96.9 362.9,96.6 362.1,96.3 361.3,96 360.4,95.7 359.6,95.5 358.8,95.2 358,94.9 357.2,94.7 356.3,94.4 355.5,94.2 354.7,93.9 353.9,93.7 353.1,93.5 352.2,93.2 351.4,93 350.6,92.8 349.8,92.6 349,92.4 348.1,92.2 347.3,92 346.5,91.9 345.7,91.7 344.8,91.5 344,91.3 343.2,91.2 342.4,91 341.6,90.9 340.7,90.7 339.9,90.6 339.1,90.4 338.3,90.3 337.5,90.1 336.6,90 335.8,89.9 335,89.7 334.2,89.6 333.4,89.5 332.5,89.3 331.7,89.2 330.9,89.1 330.1,89 329.2,88.8 328.4,88.7 327.6,88.6 326.8,88.5 326,88.4 325.1,88.3 324.3,88.2 323.5,88.1 322.7,88 321.9,87.9 321,87.8 320.2,87.7 319.4,87.7 318.6,87.6 317.8,87.5 316.9,87.4 316.1,87.4 315.3,87.3 314.5,87.2 313.6,87.2 312.8,87.1 312,87 311.2,87 310.4,86.9 309.5,86.9 308.7,86.8 307.9,86.8 307.1,86.7 306.3,86.7 305.4,86.6 304.6,86.6 303.8,86.5 303,86.5 302.2,86.4 301.3,86.4 300.5,86.3 299.7,86.3 298.9,86.2 298,86.2 297.2,86.2 296.4,86.1 295.6,86.1 294.8,86 293.9,86 293.1,86 292.3,85.9" fill="url(#gbp)" stroke="none"/>
<polyline points="292.3,84.6 293.1,84.6 293.9,84.6 294.8,84.6 295.6,84.6 296.4,84.7 297.2,84.7 298,84.7 298.9,84.7 299.7,84.7 300.5,84.7 301.3,84.7 302.2,84.7 303,84.7 303.8,84.8 304.6,84.8 305.4,84.8 306.3,84.8 307.1,84.8 307.9,84.8 308.7,84.8 309.5,84.8 310.4,84.8 311.2,84.8 312,84.9 312.8,84.9 313.6,84.9 314.5,84.9 315.3,84.9 316.1,84.9 316.9,84.9 317.8,84.9 318.6,84.9 319.4,84.9 320.2,84.9 321,84.9 321.9,84.9 322.7,85 323.5,85 324.3,85 325.1,85 326,85 326.8,85 327.6,85 328.4,85 329.2,85 330.1,85 330.9,85 331.7,85 332.5,85 333.4,85 334.2,84.9 335,84.9 335.8,84.9 336.6,84.8 337.5,84.8 338.3,84.7 339.1,84.7 339.9,84.6 340.7,84.5 341.6,84.4 342.4,84.3 343.2,84.2 344,84.1 344.8,83.9 345.7,83.8 346.5,83.6 347.3,83.4 348.1,83.2 349,83 349.8,82.8 350.6,82.5 351.4,82.2 352.2,81.9 353.1,81.6 353.9,81.2 354.7,80.8 355.5,80.4 356.3,80 357.2,79.5 358,78.9 358.8,78.4 359.6,77.8 360.4,77.2 361.3,76.5 362.1,75.8 362.9,75 363.7,74.2 364.6,73.4 365.4,72.5 366.2,71.6 367,70.7 367.8,69.8 368.7,68.9 369.5,68 370.3,67.1 371.1,66.3 371.9,65.6 372.8,64.9 373.6,64.4 374.4,64 375.2,63.7 376,63.7 376.9,63.8 377.7,64.1 378.5,64.5 379.3,65 380.2,65.6 381,66.3 381.8,67.1 382.6,68 383.4,68.9 384.3,70 385.1,71 385.9,72.2 386.7,73.4 387.5,74.6 388.4,75.8 389.2,77 390,78.3 390.8,79.6 391.6,80.8 392.5,82.1 393.3,83.3 394.1,84.6 394.9,85.8 395.8,86.9 396.6,88.1 397.4,89.2 398.2,90.3 399,91.4 399.9,92.5 400.7,93.5 401.5,94.5 402.3,95.5 403.1,96.5 404,97.4 404.8,98.3 405.6,99.2 406.4,100.1 407.2,100.9 408.1,101.7 408.9,102.4 409.7,103.2 410.5,103.9 411.4,104.6 412.2,105.3 413,105.9 413.8,106.5 414.6,107.1 415.5,107.7 416.3,108.2 417.1,108.8 417.9,109.3 418.7,109.8 419.6,110.3 420.4,110.7 421.2,111.2 422,111.6 422.9,112 423.7,112.4 424.5,112.8 425.3,113.2 426.1,113.6 427,113.9 427.8,114.3 428.6,114.6 429.4,115 430.2,115.3 431.1,115.6 431.9,115.8 432.7,116.1 433.5,116.4 434.3,116.7 435.2,116.9 436,117.2 436.8,117.5 437.6,117.8 438.5,118.1 439.3,118.4 440.1,118.7 440.9,119 441.7,119.4 442.6,119.8 443.4,120.3 444.2,120.8 445,121.4 445.8,122.1 446.7,122.8 447.5,123.4 448.3,124.2 449.1,124.9 449.9,125.6 450.8,126.3 451.6,127 452.4,127.8 453.2,128.6 454.1,129.4 454.9,130.2 455.7,131.1 456.5,131.9 457.3,132.7 458.2,133.5 459,134.3 459.8,135.1 460.6,135.9 461.4,136.7 462.3,137.4 463.1,138 463.9,138.5 464.7,139.1 465.5,139.6 466.4,140.1 467.2,140.6 468,141 468.8,141.3 469.7,141.6 470.5,141.9 471.3,142.1 472.1,142.3 472.9,142.5 473.8,142.7 474.6,142.8 475.4,142.9 476.2,143 477,143 477.9,143 478.7,143.1 479.5,143.1 480.3,143.1 481.1,143.1 482,143.2 482.8,143.2 483.6,143.2 484.4,143.1 485.3,143.1 486.1,143.1 486.9,143.1 487.7,143 488.5,143 489.4,142.9 490.2,142.9 491,142.9 491.8,142.8 492.6,142.8 493.5,142.7 494.3,142.7 495.1,142.6 495.9,142.6 496.7,142.5 497.6,142.5 498.4,142.4 499.2,142.4 500,142.3 500.9,142.3 501.7,142.2 502.5,142.2 503.3,142.2 504.1,142.1 505,142.1 505.8,142.1 506.6,142 507.4,142 508.2,142 509.1,141.9 509.9,141.9 510.7,141.9 511.5,141.9 512.3,141.9 513.2,141.8 514,141.8 514.8,141.8 515.6,141.8 516.5,141.7 517.3,141.7 518.1,141.7 518.9,141.7 519.7,141.7 520.6,141.7 521.4,141.7 522.2,141.6 523,141.6 523.8,141.6 524.7,141.6 525.5,141.6 526.3,141.6 527.1,141.6 527.9,141.6 528.8,141.6 529.6,141.6 530.4,141.6 531.2,141.5 532.1,141.5 532.9,141.5 533.7,141.5 534.5,141.5 535.3,141.5 536.2,141.5 537,141.5 537.8,141.5" fill="none" stroke="#ff0f8a" stroke-width="1.25" stroke-linejoin="round" stroke-linecap="round"/>
<polygon points="292.3,85.7 293.1,85.7 293.9,85.7 294.8,85.8 295.6,85.8 296.4,85.8 297.2,85.9 298,85.9 298.9,86 299.7,86 300.5,86 301.3,86.1 302.2,86.1 303,86.2 303.8,86.2 304.6,86.2 305.4,86.3 306.3,86.3 307.1,86.4 307.9,86.4 308.7,86.5 309.5,86.5 310.4,86.6 311.2,86.6 312,86.7 312.8,86.7 313.6,86.8 314.5,86.8 315.3,86.9 316.1,86.9 316.9,87 317.8,87.1 318.6,87.1 319.4,87.2 320.2,87.3 321,87.3 321.9,87.4 322.7,87.5 323.5,87.6 324.3,87.6 325.1,87.7 326,87.8 326.8,87.9 327.6,88 328.4,88.1 329.2,88.2 330.1,88.3 330.9,88.4 331.7,88.5 332.5,88.6 333.4,88.7 334.2,88.8 335,88.9 335.8,89.1 336.6,89.2 337.5,89.3 338.3,89.4 339.1,89.5 339.9,89.6 340.7,89.7 341.6,89.8 342.4,89.9 343.2,90 344,90.2 344.8,90.3 345.7,90.4 346.5,90.5 347.3,90.6 348.1,90.8 349,90.9 349.8,91 350.6,91.1 351.4,91.3 352.2,91.4 353.1,91.5 353.9,91.7 354.7,91.8 355.5,91.9 356.3,92 357.2,92.2 358,92.3 358.8,92.4 359.6,92.6 360.4,92.7 361.3,92.8 362.1,92.9 362.9,93.1 363.7,93.2 364.6,93.3 365.4,93.4 366.2,93.5 367,93.5 367.8,93.6 368.7,93.7 369.5,93.7 370.3,93.8 371.1,93.8 371.9,93.8 372.8,93.8 373.6,93.8 374.4,93.8 375.2,93.8 376,93.8 376.9,93.7 377.7,93.7 378.5,93.7 379.3,93.6 380.2,93.6 381,93.6 381.8,93.5 382.6,93.5 383.4,93.5 384.3,93.6 385.1,93.6 385.9,93.7 386.7,93.9 387.5,94.1 388.4,94.3 389.2,94.5 390,94.8 390.8,95.1 391.6,95.5 392.5,96 393.3,96.5 394.1,97.1 394.9,97.8 395.8,98.4 396.6,99.1 397.4,99.8 398.2,100.5 399,101.2 399.9,101.8 400.7,102.5 401.5,103 402.3,103.6 403.1,104.1 404,104.6 404.8,105.1 405.6,105.5 406.4,105.9 407.2,106.3 408.1,106.6 408.9,107 409.7,107.3 410.5,107.6 411.4,107.9 412.2,108.2 413,108.5 413.8,108.8 414.6,109.1 415.5,109.4 416.3,109.7 417.1,110 417.9,110.3 418.7,110.6 419.6,110.9 420.4,111.1 421.2,111.4 422,111.7 422.9,112 423.7,112.3 424.5,112.6 425.3,112.9 426.1,113.2 427,113.5 427.8,113.8 428.6,114.1 429.4,114.3 430.2,114.6 431.1,114.9 431.9,115.1 432.7,115.4 433.5,115.7 434.3,115.9 435.2,116.2 436,116.5 436.8,116.7 437.6,117 438.5,117.3 439.3,117.7 440.1,118 440.9,118.4 441.7,118.8 442.6,119.2 443.4,119.7 444.2,120.3 445,120.9 445.8,121.6 446.7,122.3 447.5,123 448.3,123.7 449.1,124.5 449.9,125.2 450.8,125.9 451.6,126.7 452.4,127.5 453.2,128.3 454.1,129.2 454.9,130 455.7,130.9 456.5,131.7 457.3,132.5 458.2,133.4 459,134.2 459.8,135.1 460.6,135.9 461.4,136.7 462.3,137.4 463.1,138 463.9,138.6 464.7,139.2 465.5,139.8 466.4,140.3 467.2,140.8 468,141.2 468.8,141.5 469.7,141.8 470.5,142.1 471.3,142.4 472.1,142.6 472.9,142.8 473.8,143 474.6,143.1 475.4,143.2 476.2,143.3 477,143.4 477.9,143.4 478.7,143.5 479.5,143.5 480.3,143.5 481.1,143.6 482,143.6 482.8,143.6 483.6,143.6 484.4,143.6 485.3,143.6 486.1,143.6 486.9,143.5 487.7,143.5 488.5,143.5 489.4,143.4 490.2,143.4 491,143.4 491.8,143.3 492.6,143.3 493.5,143.3 494.3,143.2 495.1,143.2 495.9,143.1 496.7,143.1 497.6,143 498.4,143 499.2,142.9 500,142.9 500.9,142.8 501.7,142.8 502.5,142.7 503.3,142.7 504.1,142.6 505,142.6 505.8,142.6 506.6,142.6 507.4,142.5 508.2,142.5 509.1,142.5 509.9,142.4 510.7,142.4 511.5,142.4 512.3,142.4 513.2,142.3 514,142.3 514.8,142.3 515.6,142.3 516.5,142.2 517.3,142.2 518.1,142.2 518.9,142.2 519.7,142.2 520.6,142.2 521.4,142.1 522.2,142.1 523,142.1 523.8,142.1 524.7,142.1 525.5,142.1 526.3,142.1 527.1,142 527.9,142 528.8,142 529.6,142 530.4,142 531.2,142 532.1,142 532.9,142 533.7,141.9 534.5,141.9 535.3,141.9 536.2,141.9 537,141.9 537.8,141.9 537.8,141.9 537,141.9 536.2,141.9 535.3,141.9 534.5,141.9 533.7,142 532.9,142 532.1,142 531.2,142 530.4,142 529.6,142 528.8,142 527.9,142 527.1,142.1 526.3,142.1 525.5,142.1 524.7,142.1 523.8,142.1 523,142.1 522.2,142.2 521.4,142.2 520.6,142.2 519.7,142.2 518.9,142.2 518.1,142.2 517.3,142.3 516.5,142.3 515.6,142.3 514.8,142.3 514,142.4 513.2,142.4 512.3,142.4 511.5,142.5 510.7,142.5 509.9,142.5 509.1,142.6 508.2,142.6 507.4,142.6 506.6,142.7 505.8,142.7 505,142.7 504.1,142.8 503.3,142.8 502.5,142.9 501.7,142.9 500.9,143 500,143 499.2,143.1 498.4,143.1 497.6,143.2 496.7,143.3 495.9,143.3 495.1,143.4 494.3,143.5 493.5,143.5 492.6,143.6 491.8,143.6 491,143.7 490.2,143.7 489.4,143.8 488.5,143.8 487.7,143.9 486.9,143.9 486.1,144 485.3,144 484.4,144.1 483.6,144.1 482.8,144.1 482,144.1 481.1,144.1 480.3,144.1 479.5,144.1 478.7,144.1 477.9,144 477,144 476.2,144 475.4,144 474.6,143.9 473.8,143.8 472.9,143.6 472.1,143.4 471.3,143.3 470.5,143 469.7,142.8 468.8,142.6 468,142.2 467.2,141.8 466.4,141.4 465.5,140.9 464.7,140.4 463.9,139.9 463.1,139.4 462.3,138.8 461.4,138.1 460.6,137.4 459.8,136.6 459,135.8 458.2,135 457.3,134.2 456.5,133.5 455.7,132.7 454.9,131.9 454.1,131.1 453.2,130.3 452.4,129.6 451.6,128.8 450.8,128.1 449.9,127.5 449.1,126.8 448.3,126.1 447.5,125.5 446.7,124.8 445.8,124.2 445,123.6 444.2,123 443.4,122.6 442.6,122.1 441.7,121.8 440.9,121.5 440.1,121.2 439.3,120.9 438.5,120.7 437.6,120.5 436.8,120.3 436,120.1 435.2,119.9 434.3,119.7 433.5,119.5 432.7,119.3 431.9,119.2 431.1,119 430.2,118.8 429.4,118.6 428.6,118.4 427.8,118.2 427,118 426.1,117.8 425.3,117.6 424.5,117.4 423.7,117.2 422.9,117 422,116.8 421.2,116.6 420.4,116.4 419.6,116.2 418.7,116 417.9,115.8 417.1,115.6 416.3,115.4 415.5,115.1 414.6,114.9 413.8,114.7 413,114.5 412.2,114.3 411.4,114.1 410.5,113.9 409.7,113.7 408.9,113.5 408.1,113.2 407.2,113 406.4,112.8 405.6,112.6 404.8,112.4 404,112.1 403.1,111.9 402.3,111.7 401.5,111.5 400.7,111.3 399.9,111.1 399,110.8 398.2,110.6 397.4,110.4 396.6,110.2 395.8,109.9 394.9,109.7 394.1,109.4 393.3,109.2 392.5,108.9 391.6,108.6 390.8,108.3 390,108 389.2,107.7 388.4,107.4 387.5,107 386.7,106.7 385.9,106.3 385.1,106 384.3,105.6 383.4,105.3 382.6,104.9 381.8,104.6 381,104.2 380.2,103.9 379.3,103.5 378.5,103.1 377.7,102.8 376.9,102.4 376,102 375.2,101.7 374.4,101.3 373.6,101 372.8,100.6 371.9,100.2 371.1,99.9 370.3,99.5 369.5,99.2 368.7,98.9 367.8,98.5 367,98.2 366.2,97.9 365.4,97.6 364.6,97.2 363.7,96.9 362.9,96.6 362.1,96.3 361.3,96 360.4,95.7 359.6,95.5 358.8,95.2 358,94.9 357.2,94.7 356.3,94.4 355.5,94.2 354.7,93.9 353.9,93.7 353.1,93.5 352.2,93.2 351.4,93 350.6,92.8 349.8,92.6 349,92.4 348.1,92.2 347.3,92 346.5,91.9 345.7,91.7 344.8,91.5 344,91.3 343.2,91.2 342.4,91 341.6,90.9 340.7,90.7 339.9,90.6 339.1,90.4 338.3,90.3 337.5,90.1 336.6,90 335.8,89.9 335,89.7 334.2,89.6 333.4,89.5 332.5,89.3 331.7,89.2 330.9,89.1 330.1,89 329.2,88.8 328.4,88.7 327.6,88.6 326.8,88.5 326,88.4 325.1,88.3 324.3,88.2 323.5,88.1 322.7,88 321.9,87.9 321,87.8 320.2,87.7 319.4,87.7 318.6,87.6 317.8,87.5 316.9,87.4 316.1,87.4 315.3,87.3 314.5,87.2 313.6,87.2 312.8,87.1 312,87 311.2,87 310.4,86.9 309.5,86.9 308.7,86.8 307.9,86.8 307.1,86.7 306.3,86.7 305.4,86.6 304.6,86.6 303.8,86.5 303,86.5 302.2,86.4 301.3,86.4 300.5,86.3 299.7,86.3 298.9,86.2 298,86.2 297.2,86.2 296.4,86.1 295.6,86.1 294.8,86 293.9,86 293.1,86 292.3,85.9" fill="url(#gbg)" stroke="none"/>
<polyline points="292.3,85.7 293.1,85.7 293.9,85.7 294.8,85.8 295.6,85.8 296.4,85.8 297.2,85.9 298,85.9 298.9,86 299.7,86 300.5,86 301.3,86.1 302.2,86.1 303,86.2 303.8,86.2 304.6,86.2 305.4,86.3 306.3,86.3 307.1,86.4 307.9,86.4 308.7,86.5 309.5,86.5 310.4,86.6 311.2,86.6 312,86.7 312.8,86.7 313.6,86.8 314.5,86.8 315.3,86.9 316.1,86.9 316.9,87 317.8,87.1 318.6,87.1 319.4,87.2 320.2,87.3 321,87.3 321.9,87.4 322.7,87.5 323.5,87.6 324.3,87.6 325.1,87.7 326,87.8 326.8,87.9 327.6,88 328.4,88.1 329.2,88.2 330.1,88.3 330.9,88.4 331.7,88.5 332.5,88.6 333.4,88.7 334.2,88.8 335,88.9 335.8,89.1 336.6,89.2 337.5,89.3 338.3,89.4 339.1,89.5 339.9,89.6 340.7,89.7 341.6,89.8 342.4,89.9 343.2,90 344,90.2 344.8,90.3 345.7,90.4 346.5,90.5 347.3,90.6 348.1,90.8 349,90.9 349.8,91 350.6,91.1 351.4,91.3 352.2,91.4 353.1,91.5 353.9,91.7 354.7,91.8 355.5,91.9 356.3,92 357.2,92.2 358,92.3 358.8,92.4 359.6,92.6 360.4,92.7 361.3,92.8 362.1,92.9 362.9,93.1 363.7,93.2 364.6,93.3 365.4,93.4 366.2,93.5 367,93.5 367.8,93.6 368.7,93.7 369.5,93.7 370.3,93.8 371.1,93.8 371.9,93.8 372.8,93.8 373.6,93.8 374.4,93.8 375.2,93.8 376,93.8 376.9,93.7 377.7,93.7 378.5,93.7 379.3,93.6 380.2,93.6 381,93.6 381.8,93.5 382.6,93.5 383.4,93.5 384.3,93.6 385.1,93.6 385.9,93.7 386.7,93.9 387.5,94.1 388.4,94.3 389.2,94.5 390,94.8 390.8,95.1 391.6,95.5 392.5,96 393.3,96.5 394.1,97.1 394.9,97.8 395.8,98.4 396.6,99.1 397.4,99.8 398.2,100.5 399,101.2 399.9,101.8 400.7,102.5 401.5,103 402.3,103.6 403.1,104.1 404,104.6 404.8,105.1 405.6,105.5 406.4,105.9 407.2,106.3 408.1,106.6 408.9,107 409.7,107.3 410.5,107.6 411.4,107.9 412.2,108.2 413,108.5 413.8,108.8 414.6,109.1 415.5,109.4 416.3,109.7 417.1,110 417.9,110.3 418.7,110.6 419.6,110.9 420.4,111.1 421.2,111.4 422,111.7 422.9,112 423.7,112.3 424.5,112.6 425.3,112.9 426.1,113.2 427,113.5 427.8,113.8 428.6,114.1 429.4,114.3 430.2,114.6 431.1,114.9 431.9,115.1 432.7,115.4 433.5,115.7 434.3,115.9 435.2,116.2 436,116.5 436.8,116.7 437.6,117 438.5,117.3 439.3,117.7 440.1,118 440.9,118.4 441.7,118.8 442.6,119.2 443.4,119.7 444.2,120.3 445,120.9 445.8,121.6 446.7,122.3 447.5,123 448.3,123.7 449.1,124.5 449.9,125.2 450.8,125.9 451.6,126.7 452.4,127.5 453.2,128.3 454.1,129.2 454.9,130 455.7,130.9 456.5,131.7 457.3,132.5 458.2,133.4 459,134.2 459.8,135.1 460.6,135.9 461.4,136.7 462.3,137.4 463.1,138 463.9,138.6 464.7,139.2 465.5,139.8 466.4,140.3 467.2,140.8 468,141.2 468.8,141.5 469.7,141.8 470.5,142.1 471.3,142.4 472.1,142.6 472.9,142.8 473.8,143 474.6,143.1 475.4,143.2 476.2,143.3 477,143.4 477.9,143.4 478.7,143.5 479.5,143.5 480.3,143.5 481.1,143.6 482,143.6 482.8,143.6 483.6,143.6 484.4,143.6 485.3,143.6 486.1,143.6 486.9,143.5 487.7,143.5 488.5,143.5 489.4,143.4 490.2,143.4 491,143.4 491.8,143.3 492.6,143.3 493.5,143.3 494.3,143.2 495.1,143.2 495.9,143.1 496.7,143.1 497.6,143 498.4,143 499.2,142.9 500,142.9 500.9,142.8 501.7,142.8 502.5,142.7 503.3,142.7 504.1,142.6 505,142.6 505.8,142.6 506.6,142.6 507.4,142.5 508.2,142.5 509.1,142.5 509.9,142.4 510.7,142.4 511.5,142.4 512.3,142.4 513.2,142.3 514,142.3 514.8,142.3 515.6,142.3 516.5,142.2 517.3,142.2 518.1,142.2 518.9,142.2 519.7,142.2 520.6,142.2 521.4,142.1 522.2,142.1 523,142.1 523.8,142.1 524.7,142.1 525.5,142.1 526.3,142.1 527.1,142 527.9,142 528.8,142 529.6,142 530.4,142 531.2,142 532.1,142 532.9,142 533.7,141.9 534.5,141.9 535.3,141.9 536.2,141.9 537,141.9 537.8,141.9" fill="none" stroke="#22f03c" stroke-width="1.1" stroke-linejoin="round" stroke-linecap="round"/>
<polyline points="292.3,85.9 293.1,86 293.9,86 294.8,86 295.6,86.1 296.4,86.1 297.2,86.2 298,86.2 298.9,86.2 299.7,86.3 300.5,86.3 301.3,86.4 302.2,86.4 303,86.5 303.8,86.5 304.6,86.6 305.4,86.6 306.3,86.7 307.1,86.7 307.9,86.8 308.7,86.8 309.5,86.9 310.4,86.9 311.2,87 312,87 312.8,87.1 313.6,87.2 314.5,87.2 315.3,87.3 316.1,87.4 316.9,87.4 317.8,87.5 318.6,87.6 319.4,87.7 320.2,87.7 321,87.8 321.9,87.9 322.7,88 323.5,88.1 324.3,88.2 325.1,88.3 326,88.4 326.8,88.5 327.6,88.6 328.4,88.7 329.2,88.8 330.1,89 330.9,89.1 331.7,89.2 332.5,89.3 333.4,89.5 334.2,89.6 335,89.7 335.8,89.9 336.6,90 337.5,90.1 338.3,90.3 339.1,90.4 339.9,90.6 340.7,90.7 341.6,90.9 342.4,91 343.2,91.2 344,91.3 344.8,91.5 345.7,91.7 346.5,91.9 347.3,92 348.1,92.2 349,92.4 349.8,92.6 350.6,92.8 351.4,93 352.2,93.2 353.1,93.5 353.9,93.7 354.7,93.9 355.5,94.2 356.3,94.4 357.2,94.7 358,94.9 358.8,95.2 359.6,95.5 360.4,95.7 361.3,96 362.1,96.3 362.9,96.6 363.7,96.9 364.6,97.2 365.4,97.6 366.2,97.9 367,98.2 367.8,98.5 368.7,98.9 369.5,99.2 370.3,99.5 371.1,99.9 371.9,100.2 372.8,100.6 373.6,101 374.4,101.3 375.2,101.7 376,102 376.9,102.4 377.7,102.8 378.5,103.1 379.3,103.5 380.2,103.9 381,104.2 381.8,104.6 382.6,104.9 383.4,105.3 384.3,105.6 385.1,106 385.9,106.3 386.7,106.7 387.5,107 388.4,107.4 389.2,107.7 390,108 390.8,108.3 391.6,108.6 392.5,108.9 393.3,109.2 394.1,109.4 394.9,109.7 395.8,109.9 396.6,110.2 397.4,110.4 398.2,110.6 399,110.8 399.9,111.1 400.7,111.3 401.5,111.5 402.3,111.7 403.1,111.9 404,112.1 404.8,112.4 405.6,112.6 406.4,112.8 407.2,113 408.1,113.2 408.9,113.5 409.7,113.7 410.5,113.9 411.4,114.1 412.2,114.3 413,114.5 413.8,114.7 414.6,114.9 415.5,115.1 416.3,115.4 417.1,115.6 417.9,115.8 418.7,116 419.6,116.2 420.4,116.4 421.2,116.6 422,116.8 422.9,117 423.7,117.2 424.5,117.4 425.3,117.6 426.1,117.8 427,118 427.8,118.2 428.6,118.4 429.4,118.6 430.2,118.8 431.1,119 431.9,119.2 432.7,119.3 433.5,119.5 434.3,119.7 435.2,119.9 436,120.1 436.8,120.3 437.6,120.5 438.5,120.7 439.3,120.9 440.1,121.2 440.9,121.5 441.7,121.8 442.6,122.1 443.4,122.6 444.2,123 445,123.6 445.8,124.2 446.7,124.8 447.5,125.5 448.3,126.1 449.1,126.8 449.9,127.5 450.8,128.1 451.6,128.8 452.4,129.6 453.2,130.3 454.1,131.1 454.9,131.9 455.7,132.7 456.5,133.5 457.3,134.2 458.2,135 459,135.8 459.8,136.6 460.6,137.4 461.4,138.1 462.3,138.8 463.1,139.4 463.9,139.9 464.7,140.4 465.5,140.9 466.4,141.4 467.2,141.8 468,142.2 468.8,142.6 469.7,142.8 470.5,143 471.3,143.3 472.1,143.4 472.9,143.6 473.8,143.8 474.6,143.9 475.4,144 476.2,144 477,144 477.9,144 478.7,144.1 479.5,144.1 480.3,144.1 481.1,144.1 482,144.1 482.8,144.1 483.6,144.1 484.4,144.1 485.3,144 486.1,144 486.9,143.9 487.7,143.9 488.5,143.8 489.4,143.8 490.2,143.7 491,143.7 491.8,143.6 492.6,143.6 493.5,143.5 494.3,143.5 495.1,143.4 495.9,143.3 496.7,143.3 497.6,143.2 498.4,143.1 499.2,143.1 500,143 500.9,143 501.7,142.9 502.5,142.9 503.3,142.8 504.1,142.8 505,142.7 505.8,142.7 506.6,142.7 507.4,142.6 508.2,142.6 509.1,142.6 509.9,142.5 510.7,142.5 511.5,142.5 512.3,142.4 513.2,142.4 514,142.4 514.8,142.3 515.6,142.3 516.5,142.3 517.3,142.3 518.1,142.2 518.9,142.2 519.7,142.2 520.6,142.2 521.4,142.2 522.2,142.2 523,142.1 523.8,142.1 524.7,142.1 525.5,142.1 526.3,142.1 527.1,142.1 527.9,142 528.8,142 529.6,142 530.4,142 531.2,142 532.1,142 532.9,142 533.7,142 534.5,141.9 535.3,141.9 536.2,141.9 537,141.9 537.8,141.9" fill="none" stroke="#14d2d2" stroke-width="1.3" stroke-linejoin="round" stroke-linecap="round"/>
<polyline points="292.3,84.1 293.1,84.1 293.9,84.1 294.8,84.1 295.6,84.1 296.4,84.1 297.2,84.1 298,84.1 298.9,84.1 299.7,84.1 300.5,84.2 301.3,84.2 302.2,84.2 303,84.2 303.8,84.2 304.6,84.2 305.4,84.2 306.3,84.2 307.1,84.2 307.9,84.2 308.7,84.2 309.5,84.2 310.4,84.2 311.2,84.2 312,84.2 312.8,84.2 313.6,84.1 314.5,84.1 315.3,84.1 316.1,84.1 316.9,84.1 317.8,84.1 318.6,84.1 319.4,84.1 320.2,84.1 321,84.1 321.9,84.1 322.7,84.1 323.5,84.1 324.3,84 325.1,84 326,84 326.8,84 327.6,84 328.4,84 329.2,83.9 330.1,83.9 330.9,83.9 331.7,83.9 332.5,83.8 333.4,83.8 334.2,83.7 335,83.7 335.8,83.6 336.6,83.5 337.5,83.4 338.3,83.4 339.1,83.2 339.9,83.1 340.7,83 341.6,82.9 342.4,82.7 343.2,82.5 344,82.4 344.8,82.2 345.7,82 346.5,81.7 347.3,81.5 348.1,81.2 349,80.9 349.8,80.6 350.6,80.3 351.4,79.9 352.2,79.5 353.1,79.1 353.9,78.6 354.7,78.1 355.5,77.6 356.3,77 357.2,76.5 358,75.8 358.8,75.2 359.6,74.5 360.4,73.7 361.3,73 362.1,72.1 362.9,71.3 363.7,70.4 364.6,69.4 365.4,68.4 366.2,67.4 367,66.4 367.8,65.3 368.7,64.2 369.5,63.1 370.3,62 371.1,60.9 371.9,59.9 372.8,58.9 373.6,58 374.4,57.2 375.2,56.6 376,56 376.9,55.6 377.7,55.3 378.5,55.2 379.3,55.1 380.2,55.2 381,55.3 381.8,55.5 382.6,55.8 383.4,56.3 384.3,56.8 385.1,57.4 385.9,58.2 386.7,59 387.5,59.8 388.4,60.8 389.2,61.7 390,62.7 390.8,63.8 391.6,64.9 392.5,66 393.3,67.2 394.1,68.5 394.9,69.7 395.8,71 396.6,72.3 397.4,73.5 398.2,74.8 399,76 399.9,77.3 400.7,78.5 401.5,79.7 402.3,80.8 403.1,82 404,83.1 404.8,84.1 405.6,85.1 406.4,86.1 407.2,87 408.1,87.8 408.9,88.6 409.7,89.3 410.5,90 411.4,90.6 412.2,91.1 413,91.5 413.8,91.9 414.6,92.2 415.5,92.4 416.3,92.5 417.1,92.5 417.9,92.5 418.7,92.4 419.6,92.2 420.4,91.9 421.2,91.5 422,91.1 422.9,90.6 423.7,90 424.5,89.4 425.3,88.7 426.1,87.9 427,87.1 427.8,86.3 428.6,85.4 429.4,84.4 430.2,83.4 431.1,82.3 431.9,81.2 432.7,80.1 433.5,78.9 434.3,77.7 435.2,76.5 436,75.2 436.8,73.8 437.6,72.4 438.5,70.9 439.3,69.4 440.1,67.8 440.9,66.2 441.7,64.6 442.6,63 443.4,61.5 444.2,60.1 445,58.7 445.8,57.3 446.7,56 447.5,54.7 448.3,53.3 449.1,51.6 449.9,49.7 450.8,47.5 451.6,45.1 452.4,42.7 453.2,40.3 454.1,37.9 454.9,35.8 455.7,34.2 456.5,33.3 457.3,33.6 458.2,34.5 459,36.4 459.8,39.4 460.6,43.5 461.4,48.8 462.3,55 463.1,61.7 463.9,68.7 464.7,75.9 465.5,82.9 466.4,89.6 467.2,95.7 468,101.2 468.8,106.1 469.7,110.3 470.5,113.9 471.3,117.1 472.1,119.8 472.9,122.2 473.8,124.2 474.6,126 475.4,127.5 476.2,128.7 477,129.8 477.9,130.8 478.7,131.7 479.5,132.4 480.3,133.1 481.1,133.7 482,134.2 482.8,134.7 483.6,135.1 484.4,135.5 485.3,135.9 486.1,136.2 486.9,136.4 487.7,136.7 488.5,136.9 489.4,137.1 490.2,137.3 491,137.5 491.8,137.7 492.6,137.8 493.5,138 494.3,138.1 495.1,138.2 495.9,138.3 496.7,138.4 497.6,138.5 498.4,138.6 499.2,138.7 500,138.7 500.9,138.8 501.7,138.9 502.5,138.9 503.3,139 504.1,139.1 505,139.1 505.8,139.2 506.6,139.2 507.4,139.3 508.2,139.3 509.1,139.4 509.9,139.4 510.7,139.5 511.5,139.5 512.3,139.6 513.2,139.6 514,139.6 514.8,139.7 515.6,139.7 516.5,139.7 517.3,139.8 518.1,139.8 518.9,139.8 519.7,139.9 520.6,139.9 521.4,139.9 522.2,139.9 523,140 523.8,140 524.7,140 525.5,140.1 526.3,140.1 527.1,140.1 527.9,140.1 528.8,140.1 529.6,140.2 530.4,140.2 531.2,140.2 532.1,140.2 532.9,140.2 533.7,140.3 534.5,140.3 535.3,140.3 536.2,140.3 537,140.3 537.8,140.3" fill="none" stroke="#000" stroke-width="1.7" stroke-linejoin="round" stroke-linecap="round"/>
<line x1="302.2" y1="179.8" x2="302.2" y2="182.8" stroke="#000" stroke-width="1.1"/>
<line x1="354.5" y1="179.8" x2="354.5" y2="182.8" stroke="#000" stroke-width="1.1"/>
<line x1="406.8" y1="179.8" x2="406.8" y2="182.8" stroke="#000" stroke-width="1.1"/>
<line x1="459.1" y1="179.8" x2="459.1" y2="182.8" stroke="#000" stroke-width="1.1"/>
<line x1="511.4" y1="179.8" x2="511.4" y2="182.8" stroke="#000" stroke-width="1.1"/>
<line x1="328.4" y1="179.8" x2="328.4" y2="181.6" stroke="#000" stroke-width="1.0"/>
<line x1="380.7" y1="179.8" x2="380.7" y2="181.6" stroke="#000" stroke-width="1.0"/>
<line x1="433" y1="179.8" x2="433" y2="181.6" stroke="#000" stroke-width="1.0"/>
<line x1="485.2" y1="179.8" x2="485.2" y2="181.6" stroke="#000" stroke-width="1.0"/>
<rect x="300.9" y="152.6" width="20.6" height="9" fill="url(#lb1)" stroke="#3a6a4a" stroke-width="0.6"/>
<rect x="300.9" y="163.2" width="20.6" height="9.2" fill="url(#lb2)" stroke="#7a5a3a" stroke-width="0.6"/>
<rect x="23.4" y="208.9" width="246" height="172.8" fill="none" stroke="#000" stroke-width="1.45"/>
<polyline points="23.7,358.1 24.4,358.1 25.2,358.1 25.9,358.1 26.7,358.1 27.4,358.1 28.2,358.1 28.9,358.1 29.7,358.1 30.4,358.1 31.1,358.1 31.9,358.1 32.6,358.1 33.4,358.1 34.1,358.1 34.9,358.1 35.6,358.1 36.4,358.1 37.1,358.1 37.9,358.1 38.6,358.1 39.3,358.1 40.1,358.1 40.8,358 41.6,358 42.3,358 43.1,358 43.8,358 44.6,358 45.3,358 46,357.9 46.8,357.9 47.5,357.9 48.3,357.9 49,357.8 49.8,357.8 50.5,357.8 51.3,357.7 52,357.7 52.8,357.6 53.5,357.5 54.2,357.4 55,357.3 55.7,357.2 56.5,357 57.2,356.8 58,356.5 58.7,356.1 59.5,355.7 60.2,355.1 60.9,354.4 61.7,353.5 62.4,352.5 63.2,351.2 63.9,349.7 64.7,347.9 65.4,346 66.2,343.7 66.9,341.3 67.7,338.7 68.4,335.9 69.1,333 69.9,330.1 70.6,327.2 71.4,324.5 72.1,322.1 72.9,320 73.6,318.5 74.4,317.4 75.1,317 75.8,317.3 76.6,318.1 77.3,319.6 78.1,321.5 78.8,323.9 79.6,326.5 80.3,329.3 81.1,332.2 81.8,335.1 82.6,338 83.3,340.7 84,343.1 84.8,345.4 85.5,347.5 86.3,349.3 87,350.8 87.8,352.2 88.5,353.3 89.3,354.2 90,355 90.7,355.6 91.5,356.1 92.2,356.5 93,356.8 93.7,357 94.5,357.2 95.2,357.3 96,357.3 96.7,357.2 97.5,357 98.2,356.6 98.9,356 99.7,355.2 100.4,354 101.2,352.3 101.9,350.1 102.7,347.3 103.4,343.8 104.2,339.5 104.9,334.4 105.6,328.7 106.4,322.3 107.1,315.5 107.9,308.5 108.6,301.5 109.4,294.9 110.1,288.8 110.9,283.6 111.6,279.5 112.4,276.4 113.1,273.8 113.8,271.9 114.6,270.5 115.3,269.6 116.1,269.3 116.8,269.6 117.6,270.7 118.3,272.9 119.1,276.6 119.8,281.9 120.5,288 121.3,294.5 122,301.2 122.8,307.9 123.5,314.3 124.3,320.6 125,326.5 125.8,332 126.5,337.1 127.3,341.7 128,345.8 128.7,349.3 129.5,352.3 130.2,354.8 131,356.8 131.7,358.4 132.5,359.6 133.2,360.6 134,361.3 134.7,361.8 135.4,362.1 136.2,362.2 136.9,362.2 137.7,362.1 138.4,361.9 139.2,361.5 139.9,361 140.7,360.3 141.4,359.5 142.2,358.6 142.9,357.5 143.6,356.2 144.4,354.8 145.1,353.2 145.9,351.4 146.6,349.4 147.4,347.1 148.1,344.6 148.9,341.8 149.6,338.5 150.3,334.9 151.1,330.9 151.8,326.5 152.6,321.9 153.3,317.2 154.1,312.9 154.8,309.2 155.6,306.6 156.3,305.6 157.1,306.3 157.8,309 158.5,313.2 159.3,318.7 160,324.9 160.8,331.3 161.5,337.6 162.3,343.3 163,348.4 163.8,352.8 164.5,356.3 165.2,359.1 166,361.3 166.7,362.9 167.5,364 168.2,364.8 169,365.4 169.7,365.7 170.5,365.9 171.2,366 172,366 172.7,366 173.4,365.8 174.2,365.6 174.9,365.4 175.7,365.1 176.4,364.8 177.2,364.4 177.9,364 178.7,363.5 179.4,363.1 180.1,362.6 180.9,362.1 181.6,361.6 182.4,361.1 183.1,360.7 183.9,360.2 184.6,359.7 185.4,359.3 186.1,359 186.9,358.6 187.6,358.4 188.3,358.2 189.1,358 189.8,357.9 190.6,357.9 191.3,358 192.1,358.1 192.8,358.3 193.6,358.6 194.3,358.9 195,359.2 195.8,359.6 196.5,360.1 197.3,360.5 198,361 198.8,361.5 199.5,362.1 200.3,362.6 201,363.2 201.8,363.7 202.5,364.2 203.2,364.8 204,365.3 204.7,365.8 205.5,366.3 206.2,366.7 207,367.1 207.7,367.5 208.5,367.9 209.2,368.3 209.9,368.6 210.7,368.9 211.4,369.2 212.2,369.4 212.9,369.7 213.7,369.9 214.4,370 215.2,370.2 215.9,370.4 216.7,370.5 217.4,370.6 218.1,370.7 218.9,370.8 219.6,370.9 220.4,371 221.1,371 221.9,371.1 222.6,371.1 223.4,371.2 224.1,371.2 224.8,371.3 225.6,371.3 226.3,371.3 227.1,371.3 227.8,371.4 228.6,371.4 229.3,371.4 230.1,371.4 230.8,371.4 231.6,371.5 232.3,371.5 233,371.5 233.8,371.5 234.5,371.5 235.3,371.5 236,371.6 236.8,371.6 237.5,371.6 238.3,371.6 239,371.6 239.7,371.6 240.5,371.6 241.2,371.7 242,371.7 242.7,371.7 243.5,371.7 244.2,371.7 245,371.7 245.7,371.7 246.5,371.7 247.2,371.7 247.9,371.8 248.7,371.8 249.4,371.8 250.2,371.8 250.9,371.8 251.7,371.8 252.4,371.8 253.2,371.8 253.9,371.8 254.6,371.8 255.4,371.8 256.1,371.9 256.9,371.9 257.6,371.9 258.4,371.9 259.1,371.9 259.9,371.9 260.6,371.9 261.4,371.9 262.1,371.9 262.8,371.9 263.6,371.9 264.3,371.9 265.1,371.9 265.8,371.9 266.6,371.9 267.3,371.9 268.1,371.9 268.8,371.9" fill="none" stroke="#000" stroke-width="1.7" stroke-linejoin="round" stroke-linecap="round"/>
<polygon points="23.7,358.5 24.4,358.5 25.2,358.5 25.9,358.5 26.7,358.5 27.4,358.5 28.2,358.5 28.9,358.5 29.7,358.5 30.4,358.5 31.1,358.5 31.9,358.5 32.6,358.5 33.4,358.5 34.1,358.5 34.9,358.5 35.6,358.5 36.4,358.5 37.1,358.5 37.9,358.5 38.6,358.5 39.3,358.5 40.1,358.5 40.8,358.5 41.6,358.5 42.3,358.5 43.1,358.4 43.8,358.4 44.6,358.4 45.3,358.4 46,358.4 46.8,358.4 47.5,358.3 48.3,358.3 49,358.3 49.8,358.3 50.5,358.2 51.3,358.2 52,358.1 52.8,358.1 53.5,358 54.2,357.9 55,357.8 55.7,357.7 56.5,357.5 57.2,357.3 58,357 58.7,356.7 59.5,356.2 60.2,355.6 60.9,354.9 61.7,354 62.4,353 63.2,351.7 63.9,350.2 64.7,348.5 65.4,346.5 66.2,344.3 66.9,341.9 67.7,339.2 68.4,336.5 69.1,333.6 69.9,330.7 70.6,327.8 71.4,325.2 72.1,322.7 72.9,320.7 73.6,319.1 74.4,318.1 75.1,317.7 75.8,317.9 76.6,318.8 77.3,320.3 78.1,322.3 78.8,324.6 79.6,327.3 80.3,330.1 81.1,333 81.8,335.9 82.6,338.8 83.3,341.5 84,344 84.8,346.3 85.5,348.4 86.3,350.2 87,351.8 87.8,353.2 88.5,354.3 89.3,355.3 90,356.1 90.7,356.7 91.5,357.3 92.2,357.7 93,358.1 93.7,358.4 94.5,358.7 95.2,358.9 96,359.1 96.7,359.2 97.5,359.4 98.2,359.6 98.9,359.7 99.7,359.9 100.4,360.1 101.2,360.3 101.9,360.5 102.7,360.7 103.4,360.9 104.2,361.2 104.9,361.4 105.6,361.6 106.4,361.9 107.1,362.1 107.9,362.3 108.6,362.5 109.4,362.8 110.1,363 110.9,363.2 111.6,363.4 112.4,363.7 113.1,363.9 113.8,364.2 114.6,364.4 115.3,364.7 116.1,364.9 116.8,365.2 117.6,365.4 118.3,365.6 119.1,365.8 119.8,366 120.5,366.2 121.3,366.4 122,366.6 122.8,366.8 123.5,366.9 124.3,367.1 125,367.3 125.8,367.4 126.5,367.6 127.3,367.7 128,367.9 128.7,368 129.5,368.1 130.2,368.2 131,368.3 131.7,368.4 132.5,368.5 133.2,368.6 134,368.7 134.7,368.7 135.4,368.8 136.2,368.9 136.9,369 137.7,369 138.4,369.1 139.2,369.2 139.9,369.2 140.7,369.3 141.4,369.3 142.2,369.4 142.9,369.5 143.6,369.5 144.4,369.6 145.1,369.6 145.9,369.7 146.6,369.7 147.4,369.8 148.1,369.8 148.9,369.9 149.6,369.9 150.3,370 151.1,370 151.8,370 152.6,370.1 153.3,370.1 154.1,370.2 154.8,370.2 155.6,370.2 156.3,370.3 157.1,370.3 157.8,370.3 158.5,370.4 159.3,370.4 160,370.4 160.8,370.5 161.5,370.5 162.3,370.5 163,370.6 163.8,370.6 164.5,370.6 165.2,370.6 166,370.7 166.7,370.7 167.5,370.7 168.2,370.8 169,370.8 169.7,370.8 170.5,370.8 171.2,370.9 172,370.9 172.7,370.9 173.4,370.9 174.2,370.9 174.9,371 175.7,371 176.4,371 177.2,371 177.9,371.1 178.7,371.1 179.4,371.1 180.1,371.1 180.9,371.1 181.6,371.2 182.4,371.2 183.1,371.2 183.9,371.2 184.6,371.2 185.4,371.2 186.1,371.3 186.9,371.3 187.6,371.3 188.3,371.3 189.1,371.3 189.8,371.4 190.6,371.4 191.3,371.4 192.1,371.4 192.8,371.4 193.6,371.4 194.3,371.5 195,371.5 195.8,371.5 196.5,371.5 197.3,371.5 198,371.5 198.8,371.5 199.5,371.6 200.3,371.6 201,371.6 201.8,371.6 202.5,371.6 203.2,371.6 204,371.7 204.7,371.7 205.5,371.7 206.2,371.7 207,371.7 207.7,371.7 208.5,371.7 209.2,371.8 209.9,371.8 210.7,371.8 211.4,371.8 212.2,371.8 212.9,371.8 213.7,371.8 214.4,371.9 215.2,371.9 215.9,371.9 216.7,371.9 217.4,371.9 218.1,371.9 218.9,371.9 219.6,371.9 220.4,372 221.1,372 221.9,372 222.6,372 223.4,372 224.1,372 224.8,372 225.6,372 226.3,372 227.1,372 227.8,372.1 228.6,372.1 229.3,372.1 230.1,372.1 230.8,372.1 231.6,372.1 232.3,372.1 233,372.1 233.8,372.1 234.5,372.1 235.3,372.1 236,372.1 236.8,372.2 237.5,372.2 238.3,372.2 239,372.2 239.7,372.2 240.5,372.2 241.2,372.2 242,372.2 242.7,372.2 243.5,372.2 244.2,372.2 245,372.2 245.7,372.3 246.5,372.3 247.2,372.3 247.9,372.3 248.7,372.3 249.4,372.3 250.2,372.3 250.9,372.3 251.7,372.3 252.4,372.3 253.2,372.3 253.9,372.3 254.6,372.3 255.4,372.3 256.1,372.3 256.9,372.3 257.6,372.4 258.4,372.4 259.1,372.4 259.9,372.4 260.6,372.4 261.4,372.4 262.1,372.4 262.8,372.4 263.6,372.4 264.3,372.4 265.1,372.4 265.8,372.4 266.6,372.4 267.3,372.4 268.1,372.4 268.8,372.4 268.8,372.4 268.1,372.4 267.3,372.4 266.6,372.4 265.8,372.4 265.1,372.4 264.3,372.4 263.6,372.4 262.8,372.4 262.1,372.4 261.4,372.4 260.6,372.4 259.9,372.4 259.1,372.4 258.4,372.4 257.6,372.4 256.9,372.4 256.1,372.4 255.4,372.3 254.6,372.3 253.9,372.3 253.2,372.3 252.4,372.3 251.7,372.3 250.9,372.3 250.2,372.3 249.4,372.3 248.7,372.3 247.9,372.3 247.2,372.3 246.5,372.3 245.7,372.3 245,372.3 244.2,372.3 243.5,372.2 242.7,372.2 242,372.2 241.2,372.2 240.5,372.2 239.7,372.2 239,372.2 238.3,372.2 237.5,372.2 236.8,372.2 236,372.2 235.3,372.2 234.5,372.1 233.8,372.1 233,372.1 232.3,372.1 231.6,372.1 230.8,372.1 230.1,372.1 229.3,372.1 228.6,372.1 227.8,372.1 227.1,372.1 226.3,372.1 225.6,372 224.8,372 224.1,372 223.4,372 222.6,372 221.9,372 221.1,372 220.4,372 219.6,372 218.9,371.9 218.1,371.9 217.4,371.9 216.7,371.9 215.9,371.9 215.2,371.9 214.4,371.9 213.7,371.9 212.9,371.8 212.2,371.8 211.4,371.8 210.7,371.8 209.9,371.8 209.2,371.8 208.5,371.8 207.7,371.7 207,371.7 206.2,371.7 205.5,371.7 204.7,371.7 204,371.7 203.2,371.7 202.5,371.6 201.8,371.6 201,371.6 200.3,371.6 199.5,371.6 198.8,371.6 198,371.6 197.3,371.5 196.5,371.5 195.8,371.5 195,371.5 194.3,371.5 193.6,371.5 192.8,371.5 192.1,371.4 191.3,371.4 190.6,371.4 189.8,371.4 189.1,371.4 188.3,371.4 187.6,371.3 186.9,371.3 186.1,371.3 185.4,371.3 184.6,371.3 183.9,371.2 183.1,371.2 182.4,371.2 181.6,371.2 180.9,371.2 180.1,371.2 179.4,371.1 178.7,371.1 177.9,371.1 177.2,371.1 176.4,371.1 175.7,371 174.9,371 174.2,371 173.4,371 172.7,370.9 172,370.9 171.2,370.9 170.5,370.9 169.7,370.9 169,370.8 168.2,370.8 167.5,370.8 166.7,370.8 166,370.7 165.2,370.7 164.5,370.7 163.8,370.6 163,370.6 162.3,370.6 161.5,370.6 160.8,370.5 160,370.5 159.3,370.5 158.5,370.4 157.8,370.4 157.1,370.4 156.3,370.3 155.6,370.3 154.8,370.3 154.1,370.2 153.3,370.2 152.6,370.2 151.8,370.1 151.1,370.1 150.3,370 149.6,370 148.9,369.9 148.1,369.9 147.4,369.9 146.6,369.8 145.9,369.8 145.1,369.7 144.4,369.7 143.6,369.6 142.9,369.6 142.2,369.5 141.4,369.4 140.7,369.4 139.9,369.3 139.2,369.3 138.4,369.2 137.7,369.1 136.9,369.1 136.2,369 135.4,368.9 134.7,368.9 134,368.8 133.2,368.7 132.5,368.6 131.7,368.5 131,368.4 130.2,368.4 129.5,368.2 128.7,368.1 128,368 127.3,367.9 126.5,367.7 125.8,367.6 125,367.4 124.3,367.3 123.5,367.1 122.8,367 122,366.8 121.3,366.6 120.5,366.4 119.8,366.3 119.1,366.1 118.3,365.9 117.6,365.6 116.8,365.4 116.1,365.2 115.3,364.9 114.6,364.7 113.8,364.5 113.1,364.2 112.4,364 111.6,363.8 110.9,363.5 110.1,363.3 109.4,363.1 108.6,362.9 107.9,362.7 107.1,362.5 106.4,362.3 105.6,362.1 104.9,361.9 104.2,361.7 103.4,361.5 102.7,361.3 101.9,361.1 101.2,360.9 100.4,360.7 99.7,360.6 98.9,360.5 98.2,360.3 97.5,360.3 96.7,360.2 96,360.1 95.2,360 94.5,360 93.7,359.9 93,359.8 92.2,359.8 91.5,359.7 90.7,359.7 90,359.6 89.3,359.6 88.5,359.5 87.8,359.5 87,359.5 86.3,359.4 85.5,359.4 84.8,359.4 84,359.4 83.3,359.4 82.6,359.3 81.8,359.3 81.1,359.3 80.3,359.3 79.6,359.3 78.8,359.3 78.1,359.2 77.3,359.2 76.6,359.2 75.8,359.2 75.1,359.2 74.4,359.2 73.6,359.2 72.9,359.2 72.1,359.1 71.4,359.1 70.6,359.1 69.9,359.1 69.1,359.1 68.4,359.1 67.7,359.1 66.9,359.1 66.2,359.1 65.4,359.1 64.7,359.1 63.9,359 63.2,359 62.4,359 61.7,359 60.9,359 60.2,359 59.5,359 58.7,359 58,359 57.2,359 56.5,359 55.7,359 55,358.9 54.2,358.9 53.5,358.9 52.8,358.9 52,358.9 51.3,358.9 50.5,358.9 49.8,358.9 49,358.9 48.3,358.9 47.5,358.9 46.8,358.9 46,358.9 45.3,358.9 44.6,358.9 43.8,358.9 43.1,358.9 42.3,358.8 41.6,358.8 40.8,358.8 40.1,358.8 39.3,358.8 38.6,358.8 37.9,358.8 37.1,358.8 36.4,358.8 35.6,358.8 34.9,358.8 34.1,358.8 33.4,358.8 32.6,358.8 31.9,358.8 31.1,358.8 30.4,358.8 29.7,358.8 28.9,358.8 28.2,358.7 27.4,358.7 26.7,358.7 25.9,358.7 25.2,358.7 24.4,358.7 23.7,358.7" fill="url(#gco)" stroke="none"/>
<polyline points="23.7,358.5 24.4,358.5 25.2,358.5 25.9,358.5 26.7,358.5 27.4,358.5 28.2,358.5 28.9,358.5 29.7,358.5 30.4,358.5 31.1,358.5 31.9,358.5 32.6,358.5 33.4,358.5 34.1,358.5 34.9,358.5 35.6,358.5 36.4,358.5 37.1,358.5 37.9,358.5 38.6,358.5 39.3,358.5 40.1,358.5 40.8,358.5 41.6,358.5 42.3,358.5 43.1,358.4 43.8,358.4 44.6,358.4 45.3,358.4 46,358.4 46.8,358.4 47.5,358.3 48.3,358.3 49,358.3 49.8,358.3 50.5,358.2 51.3,358.2 52,358.1 52.8,358.1 53.5,358 54.2,357.9 55,357.8 55.7,357.7 56.5,357.5 57.2,357.3 58,357 58.7,356.7 59.5,356.2 60.2,355.6 60.9,354.9 61.7,354 62.4,353 63.2,351.7 63.9,350.2 64.7,348.5 65.4,346.5 66.2,344.3 66.9,341.9 67.7,339.2 68.4,336.5 69.1,333.6 69.9,330.7 70.6,327.8 71.4,325.2 72.1,322.7 72.9,320.7 73.6,319.1 74.4,318.1 75.1,317.7 75.8,317.9 76.6,318.8 77.3,320.3 78.1,322.3 78.8,324.6 79.6,327.3 80.3,330.1 81.1,333 81.8,335.9 82.6,338.8 83.3,341.5 84,344 84.8,346.3 85.5,348.4 86.3,350.2 87,351.8 87.8,353.2 88.5,354.3 89.3,355.3 90,356.1 90.7,356.7 91.5,357.3 92.2,357.7 93,358.1 93.7,358.4 94.5,358.7 95.2,358.9 96,359.1 96.7,359.2 97.5,359.4 98.2,359.6 98.9,359.7 99.7,359.9 100.4,360.1 101.2,360.3 101.9,360.5 102.7,360.7 103.4,360.9 104.2,361.2 104.9,361.4 105.6,361.6 106.4,361.9 107.1,362.1 107.9,362.3 108.6,362.5 109.4,362.8 110.1,363 110.9,363.2 111.6,363.4 112.4,363.7 113.1,363.9 113.8,364.2 114.6,364.4 115.3,364.7 116.1,364.9 116.8,365.2 117.6,365.4 118.3,365.6 119.1,365.8 119.8,366 120.5,366.2 121.3,366.4 122,366.6 122.8,366.8 123.5,366.9 124.3,367.1 125,367.3 125.8,367.4 126.5,367.6 127.3,367.7 128,367.9 128.7,368 129.5,368.1 130.2,368.2 131,368.3 131.7,368.4 132.5,368.5 133.2,368.6 134,368.7 134.7,368.7 135.4,368.8 136.2,368.9 136.9,369 137.7,369 138.4,369.1 139.2,369.2 139.9,369.2 140.7,369.3 141.4,369.3 142.2,369.4 142.9,369.5 143.6,369.5 144.4,369.6 145.1,369.6 145.9,369.7 146.6,369.7 147.4,369.8 148.1,369.8 148.9,369.9 149.6,369.9 150.3,370 151.1,370 151.8,370 152.6,370.1 153.3,370.1 154.1,370.2 154.8,370.2 155.6,370.2 156.3,370.3 157.1,370.3 157.8,370.3 158.5,370.4 159.3,370.4 160,370.4 160.8,370.5 161.5,370.5 162.3,370.5 163,370.6 163.8,370.6 164.5,370.6 165.2,370.6 166,370.7 166.7,370.7 167.5,370.7 168.2,370.8 169,370.8 169.7,370.8 170.5,370.8 171.2,370.9 172,370.9 172.7,370.9 173.4,370.9 174.2,370.9 174.9,371 175.7,371 176.4,371 177.2,371 177.9,371.1 178.7,371.1 179.4,371.1 180.1,371.1 180.9,371.1 181.6,371.2 182.4,371.2 183.1,371.2 183.9,371.2 184.6,371.2 185.4,371.2 186.1,371.3 186.9,371.3 187.6,371.3 188.3,371.3 189.1,371.3 189.8,371.4 190.6,371.4 191.3,371.4 192.1,371.4 192.8,371.4 193.6,371.4 194.3,371.5 195,371.5 195.8,371.5 196.5,371.5 197.3,371.5 198,371.5 198.8,371.5 199.5,371.6 200.3,371.6 201,371.6 201.8,371.6 202.5,371.6 203.2,371.6 204,371.7 204.7,371.7 205.5,371.7 206.2,371.7 207,371.7 207.7,371.7 208.5,371.7 209.2,371.8 209.9,371.8 210.7,371.8 211.4,371.8 212.2,371.8 212.9,371.8 213.7,371.8 214.4,371.9 215.2,371.9 215.9,371.9 216.7,371.9 217.4,371.9 218.1,371.9 218.9,371.9 219.6,371.9 220.4,372 221.1,372 221.9,372 222.6,372 223.4,372 224.1,372 224.8,372 225.6,372 226.3,372 227.1,372 227.8,372.1 228.6,372.1 229.3,372.1 230.1,372.1 230.8,372.1 231.6,372.1 232.3,372.1 233,372.1 233.8,372.1 234.5,372.1 235.3,372.1 236,372.1 236.8,372.2 237.5,372.2 238.3,372.2 239,372.2 239.7,372.2 240.5,372.2 241.2,372.2 242,372.2 242.7,372.2 243.5,372.2 244.2,372.2 245,372.2 245.7,372.3 246.5,372.3 247.2,372.3 247.9,372.3 248.7,372.3 249.4,372.3 250.2,372.3 250.9,372.3 251.7,372.3 252.4,372.3 253.2,372.3 253.9,372.3 254.6,372.3 255.4,372.3 256.1,372.3 256.9,372.3 257.6,372.4 258.4,372.4 259.1,372.4 259.9,372.4 260.6,372.4 261.4,372.4 262.1,372.4 262.8,372.4 263.6,372.4 264.3,372.4 265.1,372.4 265.8,372.4 266.6,372.4 267.3,372.4 268.1,372.4 268.8,372.4" fill="none" stroke="#ee8a14" stroke-width="1.0" stroke-linejoin="round" stroke-linecap="round"/>
<polygon points="23.7,358.7 24.4,358.7 25.2,358.7 25.9,358.7 26.7,358.7 27.4,358.7 28.2,358.7 28.9,358.7 29.7,358.7 30.4,358.7 31.1,358.7 31.9,358.7 32.6,358.7 33.4,358.7 34.1,358.7 34.9,358.7 35.6,358.7 36.4,358.7 37.1,358.7 37.9,358.8 38.6,358.8 39.3,358.8 40.1,358.8 40.8,358.8 41.6,358.8 42.3,358.8 43.1,358.8 43.8,358.8 44.6,358.8 45.3,358.8 46,358.8 46.8,358.8 47.5,358.8 48.3,358.8 49,358.8 49.8,358.8 50.5,358.8 51.3,358.8 52,358.8 52.8,358.8 53.5,358.8 54.2,358.8 55,358.8 55.7,358.8 56.5,358.9 57.2,358.9 58,358.9 58.7,358.9 59.5,358.9 60.2,358.9 60.9,358.9 61.7,358.9 62.4,358.9 63.2,358.9 63.9,358.9 64.7,358.9 65.4,358.9 66.2,358.9 66.9,358.9 67.7,358.9 68.4,358.9 69.1,358.9 69.9,358.9 70.6,358.9 71.4,358.9 72.1,359 72.9,359 73.6,359 74.4,359 75.1,359 75.8,359 76.6,359 77.3,359 78.1,359 78.8,359 79.6,359 80.3,359 81.1,359 81.8,359 82.6,359 83.3,359 84,359 84.8,359.1 85.5,359.1 86.3,359.1 87,359.1 87.8,359.1 88.5,359.1 89.3,359.1 90,359.2 90.7,359.2 91.5,359.2 92.2,359.2 93,359.3 93.7,359.3 94.5,359.3 95.2,359.4 96,359.4 96.7,359.4 97.5,359.5 98.2,359.5 98.9,359.6 99.7,359.6 100.4,359.7 101.2,359.8 101.9,359.9 102.7,360 103.4,360.1 104.2,360.1 104.9,360.2 105.6,360.2 106.4,360.2 107.1,360.1 107.9,359.8 108.6,359.4 109.4,358.7 110.1,357.7 110.9,356.2 111.6,354.2 112.4,351.4 113.1,347.9 113.8,343.5 114.6,338.4 115.3,332.6 116.1,326.4 116.8,320.3 117.6,314.6 118.3,310.2 119.1,307.6 119.8,307.2 120.5,308.4 121.3,311 122,314.6 122.8,319 123.5,323.9 124.3,329 125,334.1 125.8,338.9 126.5,343.5 127.3,347.6 128,351.2 128.7,354.3 129.5,357 130.2,359.2 131,360.9 131.7,362.3 132.5,363.5 133.2,364.4 134,365.1 134.7,365.6 135.4,366 136.2,366.4 136.9,366.6 137.7,366.9 138.4,367 139.2,367.2 139.9,367.3 140.7,367.4 141.4,367.5 142.2,367.6 142.9,367.6 143.6,367.6 144.4,367.5 145.1,367.4 145.9,367.1 146.6,366.7 147.4,366 148.1,365 148.9,363.5 149.6,361.5 150.3,358.9 151.1,355.6 151.8,351.6 152.6,347.1 153.3,342.2 154.1,337.3 154.8,332.7 155.6,329 156.3,326.7 157.1,325.9 157.8,327 158.5,329.6 159.3,333.4 160,337.9 160.8,342.8 161.5,347.7 162.3,352.3 163,356.3 163.8,359.7 164.5,362.4 165.2,364.5 166,366.1 166.7,367.3 167.5,368.1 168.2,368.7 169,369.1 169.7,369.4 170.5,369.6 171.2,369.8 172,369.9 172.7,370 173.4,370.1 174.2,370.2 174.9,370.3 175.7,370.3 176.4,370.4 177.2,370.4 177.9,370.5 178.7,370.6 179.4,370.6 180.1,370.6 180.9,370.7 181.6,370.7 182.4,370.8 183.1,370.8 183.9,370.8 184.6,370.9 185.4,370.9 186.1,370.9 186.9,371 187.6,371 188.3,371 189.1,371.1 189.8,371.1 190.6,371.1 191.3,371.1 192.1,371.2 192.8,371.2 193.6,371.2 194.3,371.2 195,371.3 195.8,371.3 196.5,371.3 197.3,371.3 198,371.3 198.8,371.4 199.5,371.4 200.3,371.4 201,371.4 201.8,371.4 202.5,371.5 203.2,371.5 204,371.5 204.7,371.5 205.5,371.5 206.2,371.6 207,371.6 207.7,371.6 208.5,371.6 209.2,371.6 209.9,371.6 210.7,371.7 211.4,371.7 212.2,371.7 212.9,371.7 213.7,371.7 214.4,371.7 215.2,371.8 215.9,371.8 216.7,371.8 217.4,371.8 218.1,371.8 218.9,371.8 219.6,371.8 220.4,371.9 221.1,371.9 221.9,371.9 222.6,371.9 223.4,371.9 224.1,371.9 224.8,371.9 225.6,372 226.3,372 227.1,372 227.8,372 228.6,372 229.3,372 230.1,372 230.8,372 231.6,372 232.3,372 233,372.1 233.8,372.1 234.5,372.1 235.3,372.1 236,372.1 236.8,372.1 237.5,372.1 238.3,372.1 239,372.1 239.7,372.1 240.5,372.1 241.2,372.2 242,372.2 242.7,372.2 243.5,372.2 244.2,372.2 245,372.2 245.7,372.2 246.5,372.2 247.2,372.2 247.9,372.2 248.7,372.2 249.4,372.2 250.2,372.2 250.9,372.3 251.7,372.3 252.4,372.3 253.2,372.3 253.9,372.3 254.6,372.3 255.4,372.3 256.1,372.3 256.9,372.3 257.6,372.3 258.4,372.3 259.1,372.3 259.9,372.3 260.6,372.3 261.4,372.3 262.1,372.3 262.8,372.3 263.6,372.3 264.3,372.3 265.1,372.3 265.8,372.4 266.6,372.4 267.3,372.4 268.1,372.4 268.8,372.4 268.8,372.4 268.1,372.4 267.3,372.4 266.6,372.4 265.8,372.4 265.1,372.4 264.3,372.4 263.6,372.4 262.8,372.4 262.1,372.4 261.4,372.4 260.6,372.4 259.9,372.4 259.1,372.4 258.4,372.4 257.6,372.4 256.9,372.4 256.1,372.4 255.4,372.3 254.6,372.3 253.9,372.3 253.2,372.3 252.4,372.3 251.7,372.3 250.9,372.3 250.2,372.3 249.4,372.3 248.7,372.3 247.9,372.3 247.2,372.3 246.5,372.3 245.7,372.3 245,372.3 244.2,372.3 243.5,372.2 242.7,372.2 242,372.2 241.2,372.2 240.5,372.2 239.7,372.2 239,372.2 238.3,372.2 237.5,372.2 236.8,372.2 236,372.2 235.3,372.2 234.5,372.1 233.8,372.1 233,372.1 232.3,372.1 231.6,372.1 230.8,372.1 230.1,372.1 229.3,372.1 228.6,372.1 227.8,372.1 227.1,372.1 226.3,372.1 225.6,372 224.8,372 224.1,372 223.4,372 222.6,372 221.9,372 221.1,372 220.4,372 219.6,372 218.9,371.9 218.1,371.9 217.4,371.9 216.7,371.9 215.9,371.9 215.2,371.9 214.4,371.9 213.7,371.9 212.9,371.8 212.2,371.8 211.4,371.8 210.7,371.8 209.9,371.8 209.2,371.8 208.5,371.8 207.7,371.7 207,371.7 206.2,371.7 205.5,371.7 204.7,371.7 204,371.7 203.2,371.7 202.5,371.6 201.8,371.6 201,371.6 200.3,371.6 199.5,371.6 198.8,371.6 198,371.6 197.3,371.5 196.5,371.5 195.8,371.5 195,371.5 194.3,371.5 193.6,371.5 192.8,371.5 192.1,371.4 191.3,371.4 190.6,371.4 189.8,371.4 189.1,371.4 188.3,371.4 187.6,371.3 186.9,371.3 186.1,371.3 185.4,371.3 184.6,371.3 183.9,371.2 183.1,371.2 182.4,371.2 181.6,371.2 180.9,371.2 180.1,371.2 179.4,371.1 178.7,371.1 177.9,371.1 177.2,371.1 176.4,371.1 175.7,371 174.9,371 174.2,371 173.4,371 172.7,370.9 172,370.9 171.2,370.9 170.5,370.9 169.7,370.9 169,370.8 168.2,370.8 167.5,370.8 166.7,370.8 166,370.7 165.2,370.7 164.5,370.7 163.8,370.6 163,370.6 162.3,370.6 161.5,370.6 160.8,370.5 160,370.5 159.3,370.5 158.5,370.4 157.8,370.4 157.1,370.4 156.3,370.3 155.6,370.3 154.8,370.3 154.1,370.2 153.3,370.2 152.6,370.2 151.8,370.1 151.1,370.1 150.3,370 149.6,370 148.9,369.9 148.1,369.9 147.4,369.9 146.6,369.8 145.9,369.8 145.1,369.7 144.4,369.7 143.6,369.6 142.9,369.6 142.2,369.5 141.4,369.4 140.7,369.4 139.9,369.3 139.2,369.3 138.4,369.2 137.7,369.1 136.9,369.1 136.2,369 135.4,368.9 134.7,368.9 134,368.8 133.2,368.7 132.5,368.6 131.7,368.5 131,368.4 130.2,368.4 129.5,368.2 128.7,368.1 128,368 127.3,367.9 126.5,367.7 125.8,367.6 125,367.4 124.3,367.3 123.5,367.1 122.8,367 122,366.8 121.3,366.6 120.5,366.4 119.8,366.3 119.1,366.1 118.3,365.9 117.6,365.6 116.8,365.4 116.1,365.2 115.3,364.9 114.6,364.7 113.8,364.5 113.1,364.2 112.4,364 111.6,363.8 110.9,363.5 110.1,363.3 109.4,363.1 108.6,362.9 107.9,362.7 107.1,362.5 106.4,362.3 105.6,362.1 104.9,361.9 104.2,361.7 103.4,361.5 102.7,361.3 101.9,361.1 101.2,360.9 100.4,360.7 99.7,360.6 98.9,360.5 98.2,360.3 97.5,360.3 96.7,360.2 96,360.1 95.2,360 94.5,360 93.7,359.9 93,359.8 92.2,359.8 91.5,359.7 90.7,359.7 90,359.6 89.3,359.6 88.5,359.5 87.8,359.5 87,359.5 86.3,359.4 85.5,359.4 84.8,359.4 84,359.4 83.3,359.4 82.6,359.3 81.8,359.3 81.1,359.3 80.3,359.3 79.6,359.3 78.8,359.3 78.1,359.2 77.3,359.2 76.6,359.2 75.8,359.2 75.1,359.2 74.4,359.2 73.6,359.2 72.9,359.2 72.1,359.1 71.4,359.1 70.6,359.1 69.9,359.1 69.1,359.1 68.4,359.1 67.7,359.1 66.9,359.1 66.2,359.1 65.4,359.1 64.7,359.1 63.9,359 63.2,359 62.4,359 61.7,359 60.9,359 60.2,359 59.5,359 58.7,359 58,359 57.2,359 56.5,359 55.7,359 55,358.9 54.2,358.9 53.5,358.9 52.8,358.9 52,358.9 51.3,358.9 50.5,358.9 49.8,358.9 49,358.9 48.3,358.9 47.5,358.9 46.8,358.9 46,358.9 45.3,358.9 44.6,358.9 43.8,358.9 43.1,358.9 42.3,358.8 41.6,358.8 40.8,358.8 40.1,358.8 39.3,358.8 38.6,358.8 37.9,358.8 37.1,358.8 36.4,358.8 35.6,358.8 34.9,358.8 34.1,358.8 33.4,358.8 32.6,358.8 31.9,358.8 31.1,358.8 30.4,358.8 29.7,358.8 28.9,358.8 28.2,358.7 27.4,358.7 26.7,358.7 25.9,358.7 25.2,358.7 24.4,358.7 23.7,358.7" fill="url(#gcg)" stroke="none"/>
<polyline points="23.7,358.7 24.4,358.7 25.2,358.7 25.9,358.7 26.7,358.7 27.4,358.7 28.2,358.7 28.9,358.7 29.7,358.7 30.4,358.7 31.1,358.7 31.9,358.7 32.6,358.7 33.4,358.7 34.1,358.7 34.9,358.7 35.6,358.7 36.4,358.7 37.1,358.7 37.9,358.8 38.6,358.8 39.3,358.8 40.1,358.8 40.8,358.8 41.6,358.8 42.3,358.8 43.1,358.8 43.8,358.8 44.6,358.8 45.3,358.8 46,358.8 46.8,358.8 47.5,358.8 48.3,358.8 49,358.8 49.8,358.8 50.5,358.8 51.3,358.8 52,358.8 52.8,358.8 53.5,358.8 54.2,358.8 55,358.8 55.7,358.8 56.5,358.9 57.2,358.9 58,358.9 58.7,358.9 59.5,358.9 60.2,358.9 60.9,358.9 61.7,358.9 62.4,358.9 63.2,358.9 63.9,358.9 64.7,358.9 65.4,358.9 66.2,358.9 66.9,358.9 67.7,358.9 68.4,358.9 69.1,358.9 69.9,358.9 70.6,358.9 71.4,358.9 72.1,359 72.9,359 73.6,359 74.4,359 75.1,359 75.8,359 76.6,359 77.3,359 78.1,359 78.8,359 79.6,359 80.3,359 81.1,359 81.8,359 82.6,359 83.3,359 84,359 84.8,359.1 85.5,359.1 86.3,359.1 87,359.1 87.8,359.1 88.5,359.1 89.3,359.1 90,359.2 90.7,359.2 91.5,359.2 92.2,359.2 93,359.3 93.7,359.3 94.5,359.3 95.2,359.4 96,359.4 96.7,359.4 97.5,359.5 98.2,359.5 98.9,359.6 99.7,359.6 100.4,359.7 101.2,359.8 101.9,359.9 102.7,360 103.4,360.1 104.2,360.1 104.9,360.2 105.6,360.2 106.4,360.2 107.1,360.1 107.9,359.8 108.6,359.4 109.4,358.7 110.1,357.7 110.9,356.2 111.6,354.2 112.4,351.4 113.1,347.9 113.8,343.5 114.6,338.4 115.3,332.6 116.1,326.4 116.8,320.3 117.6,314.6 118.3,310.2 119.1,307.6 119.8,307.2 120.5,308.4 121.3,311 122,314.6 122.8,319 123.5,323.9 124.3,329 125,334.1 125.8,338.9 126.5,343.5 127.3,347.6 128,351.2 128.7,354.3 129.5,357 130.2,359.2 131,360.9 131.7,362.3 132.5,363.5 133.2,364.4 134,365.1 134.7,365.6 135.4,366 136.2,366.4 136.9,366.6 137.7,366.9 138.4,367 139.2,367.2 139.9,367.3 140.7,367.4 141.4,367.5 142.2,367.6 142.9,367.6 143.6,367.6 144.4,367.5 145.1,367.4 145.9,367.1 146.6,366.7 147.4,366 148.1,365 148.9,363.5 149.6,361.5 150.3,358.9 151.1,355.6 151.8,351.6 152.6,347.1 153.3,342.2 154.1,337.3 154.8,332.7 155.6,329 156.3,326.7 157.1,325.9 157.8,327 158.5,329.6 159.3,333.4 160,337.9 160.8,342.8 161.5,347.7 162.3,352.3 163,356.3 163.8,359.7 164.5,362.4 165.2,364.5 166,366.1 166.7,367.3 167.5,368.1 168.2,368.7 169,369.1 169.7,369.4 170.5,369.6 171.2,369.8 172,369.9 172.7,370 173.4,370.1 174.2,370.2 174.9,370.3 175.7,370.3 176.4,370.4 177.2,370.4 177.9,370.5 178.7,370.6 179.4,370.6 180.1,370.6 180.9,370.7 181.6,370.7 182.4,370.8 183.1,370.8 183.9,370.8 184.6,370.9 185.4,370.9 186.1,370.9 186.9,371 187.6,371 188.3,371 189.1,371.1 189.8,371.1 190.6,371.1 191.3,371.1 192.1,371.2 192.8,371.2 193.6,371.2 194.3,371.2 195,371.3 195.8,371.3 196.5,371.3 197.3,371.3 198,371.3 198.8,371.4 199.5,371.4 200.3,371.4 201,371.4 201.8,371.4 202.5,371.5 203.2,371.5 204,371.5 204.7,371.5 205.5,371.5 206.2,371.6 207,371.6 207.7,371.6 208.5,371.6 209.2,371.6 209.9,371.6 210.7,371.7 211.4,371.7 212.2,371.7 212.9,371.7 213.7,371.7 214.4,371.7 215.2,371.8 215.9,371.8 216.7,371.8 217.4,371.8 218.1,371.8 218.9,371.8 219.6,371.8 220.4,371.9 221.1,371.9 221.9,371.9 222.6,371.9 223.4,371.9 224.1,371.9 224.8,371.9 225.6,372 226.3,372 227.1,372 227.8,372 228.6,372 229.3,372 230.1,372 230.8,372 231.6,372 232.3,372 233,372.1 233.8,372.1 234.5,372.1 235.3,372.1 236,372.1 236.8,372.1 237.5,372.1 238.3,372.1 239,372.1 239.7,372.1 240.5,372.1 241.2,372.2 242,372.2 242.7,372.2 243.5,372.2 244.2,372.2 245,372.2 245.7,372.2 246.5,372.2 247.2,372.2 247.9,372.2 248.7,372.2 249.4,372.2 250.2,372.2 250.9,372.3 251.7,372.3 252.4,372.3 253.2,372.3 253.9,372.3 254.6,372.3 255.4,372.3 256.1,372.3 256.9,372.3 257.6,372.3 258.4,372.3 259.1,372.3 259.9,372.3 260.6,372.3 261.4,372.3 262.1,372.3 262.8,372.3 263.6,372.3 264.3,372.3 265.1,372.3 265.8,372.4 266.6,372.4 267.3,372.4 268.1,372.4 268.8,372.4" fill="none" stroke="#1fe032" stroke-width="1.5" stroke-linejoin="round" stroke-linecap="round"/>
<polygon points="23.7,358.7 24.4,358.7 25.2,358.7 25.9,358.7 26.7,358.7 27.4,358.7 28.2,358.7 28.9,358.7 29.7,358.7 30.4,358.7 31.1,358.7 31.9,358.7 32.6,358.7 33.4,358.7 34.1,358.7 34.9,358.7 35.6,358.8 36.4,358.8 37.1,358.8 37.9,358.8 38.6,358.8 39.3,358.8 40.1,358.8 40.8,358.8 41.6,358.8 42.3,358.8 43.1,358.8 43.8,358.8 44.6,358.8 45.3,358.8 46,358.8 46.8,358.8 47.5,358.8 48.3,358.8 49,358.8 49.8,358.8 50.5,358.8 51.3,358.8 52,358.9 52.8,358.9 53.5,358.9 54.2,358.9 55,358.9 55.7,358.9 56.5,358.9 57.2,358.9 58,358.9 58.7,358.9 59.5,358.9 60.2,358.9 60.9,358.9 61.7,358.9 62.4,358.9 63.2,358.9 63.9,358.9 64.7,359 65.4,359 66.2,359 66.9,359 67.7,359 68.4,359 69.1,359 69.9,359 70.6,359 71.4,359 72.1,359 72.9,359 73.6,359 74.4,359 75.1,359 75.8,359.1 76.6,359.1 77.3,359.1 78.1,359.1 78.8,359.1 79.6,359.1 80.3,359.1 81.1,359.1 81.8,359.1 82.6,359.1 83.3,359.1 84,359.2 84.8,359.2 85.5,359.2 86.3,359.2 87,359.2 87.8,359.2 88.5,359.3 89.3,359.3 90,359.3 90.7,359.3 91.5,359.4 92.2,359.4 93,359.4 93.7,359.4 94.5,359.4 95.2,359.4 96,359.3 96.7,359.2 97.5,358.9 98.2,358.5 98.9,358 99.7,357.2 100.4,356 101.2,354.4 101.9,352.2 102.7,349.5 103.4,346.1 104.2,342 104.9,337.2 105.6,331.9 106.4,326.2 107.1,320.2 107.9,314.4 108.6,309 109.4,304.3 110.1,300.8 110.9,298.6 111.6,298 112.4,298.8 113.1,300.6 113.8,303.3 114.6,306.8 115.3,310.8 116.1,315.3 116.8,319.9 117.6,324.7 118.3,329.4 119.1,333.8 119.8,338.1 120.5,342 121.3,345.6 122,348.8 122.8,351.6 123.5,354.1 124.3,356.2 125,358 125.8,359.5 126.5,360.8 127.3,361.9 128,362.7 128.7,363.4 129.5,364 130.2,364.4 131,364.8 131.7,365 132.5,365.3 133.2,365.4 134,365.5 134.7,365.5 135.4,365.5 136.2,365.3 136.9,365.2 137.7,364.9 138.4,364.5 139.2,364.1 139.9,363.5 140.7,362.8 141.4,361.9 142.2,361 142.9,359.9 143.6,358.7 144.4,357.4 145.1,355.9 145.9,354.5 146.6,353 147.4,351.5 148.1,350 148.9,348.7 149.6,347.5 150.3,346.6 151.1,345.9 151.8,345.6 152.6,345.6 153.3,345.9 154.1,346.7 154.8,347.7 155.6,348.9 156.3,350.3 157.1,351.9 157.8,353.5 158.5,355.1 159.3,356.8 160,358.3 160.8,359.8 161.5,361.2 162.3,362.4 163,363.6 163.8,364.6 164.5,365.5 165.2,366.3 166,366.9 166.7,367.5 167.5,368 168.2,368.4 169,368.7 169.7,369 170.5,369.2 171.2,369.4 172,369.5 172.7,369.7 173.4,369.8 174.2,369.9 174.9,370 175.7,370.1 176.4,370.1 177.2,370.2 177.9,370.3 178.7,370.3 179.4,370.4 180.1,370.4 180.9,370.5 181.6,370.5 182.4,370.6 183.1,370.6 183.9,370.7 184.6,370.7 185.4,370.7 186.1,370.8 186.9,370.8 187.6,370.8 188.3,370.9 189.1,370.9 189.8,370.9 190.6,371 191.3,371 192.1,371 192.8,371.1 193.6,371.1 194.3,371.1 195,371.1 195.8,371.2 196.5,371.2 197.3,371.2 198,371.2 198.8,371.3 199.5,371.3 200.3,371.3 201,371.3 201.8,371.3 202.5,371.4 203.2,371.4 204,371.4 204.7,371.4 205.5,371.4 206.2,371.5 207,371.5 207.7,371.5 208.5,371.5 209.2,371.5 209.9,371.6 210.7,371.6 211.4,371.6 212.2,371.6 212.9,371.6 213.7,371.7 214.4,371.7 215.2,371.7 215.9,371.7 216.7,371.7 217.4,371.7 218.1,371.8 218.9,371.8 219.6,371.8 220.4,371.8 221.1,371.8 221.9,371.8 222.6,371.8 223.4,371.9 224.1,371.9 224.8,371.9 225.6,371.9 226.3,371.9 227.1,371.9 227.8,371.9 228.6,371.9 229.3,371.9 230.1,372 230.8,372 231.6,372 232.3,372 233,372 233.8,372 234.5,372 235.3,372 236,372 236.8,372 237.5,372.1 238.3,372.1 239,372.1 239.7,372.1 240.5,372.1 241.2,372.1 242,372.1 242.7,372.1 243.5,372.1 244.2,372.1 245,372.2 245.7,372.2 246.5,372.2 247.2,372.2 247.9,372.2 248.7,372.2 249.4,372.2 250.2,372.2 250.9,372.2 251.7,372.2 252.4,372.2 253.2,372.2 253.9,372.2 254.6,372.3 255.4,372.3 256.1,372.3 256.9,372.3 257.6,372.3 258.4,372.3 259.1,372.3 259.9,372.3 260.6,372.3 261.4,372.3 262.1,372.3 262.8,372.3 263.6,372.3 264.3,372.3 265.1,372.3 265.8,372.3 266.6,372.3 267.3,372.3 268.1,372.3 268.8,372.3 268.8,372.4 268.1,372.4 267.3,372.4 266.6,372.4 265.8,372.4 265.1,372.4 264.3,372.4 263.6,372.4 262.8,372.4 262.1,372.4 261.4,372.4 260.6,372.4 259.9,372.4 259.1,372.4 258.4,372.4 257.6,372.4 256.9,372.4 256.1,372.4 255.4,372.3 254.6,372.3 253.9,372.3 253.2,372.3 252.4,372.3 251.7,372.3 250.9,372.3 250.2,372.3 249.4,372.3 248.7,372.3 247.9,372.3 247.2,372.3 246.5,372.3 245.7,372.3 245,372.3 244.2,372.3 243.5,372.2 242.7,372.2 242,372.2 241.2,372.2 240.5,372.2 239.7,372.2 239,372.2 238.3,372.2 237.5,372.2 236.8,372.2 236,372.2 235.3,372.2 234.5,372.1 233.8,372.1 233,372.1 232.3,372.1 231.6,372.1 230.8,372.1 230.1,372.1 229.3,372.1 228.6,372.1 227.8,372.1 227.1,372.1 226.3,372.1 225.6,372 224.8,372 224.1,372 223.4,372 222.6,372 221.9,372 221.1,372 220.4,372 219.6,372 218.9,371.9 218.1,371.9 217.4,371.9 216.7,371.9 215.9,371.9 215.2,371.9 214.4,371.9 213.7,371.9 212.9,371.8 212.2,371.8 211.4,371.8 210.7,371.8 209.9,371.8 209.2,371.8 208.5,371.8 207.7,371.7 207,371.7 206.2,371.7 205.5,371.7 204.7,371.7 204,371.7 203.2,371.7 202.5,371.6 201.8,371.6 201,371.6 200.3,371.6 199.5,371.6 198.8,371.6 198,371.6 197.3,371.5 196.5,371.5 195.8,371.5 195,371.5 194.3,371.5 193.6,371.5 192.8,371.5 192.1,371.4 191.3,371.4 190.6,371.4 189.8,371.4 189.1,371.4 188.3,371.4 187.6,371.3 186.9,371.3 186.1,371.3 185.4,371.3 184.6,371.3 183.9,371.2 183.1,371.2 182.4,371.2 181.6,371.2 180.9,371.2 180.1,371.2 179.4,371.1 178.7,371.1 177.9,371.1 177.2,371.1 176.4,371.1 175.7,371 174.9,371 174.2,371 173.4,371 172.7,370.9 172,370.9 171.2,370.9 170.5,370.9 169.7,370.9 169,370.8 168.2,370.8 167.5,370.8 166.7,370.8 166,370.7 165.2,370.7 164.5,370.7 163.8,370.6 163,370.6 162.3,370.6 161.5,370.6 160.8,370.5 160,370.5 159.3,370.5 158.5,370.4 157.8,370.4 157.1,370.4 156.3,370.3 155.6,370.3 154.8,370.3 154.1,370.2 153.3,370.2 152.6,370.2 151.8,370.1 151.1,370.1 150.3,370 149.6,370 148.9,369.9 148.1,369.9 147.4,369.9 146.6,369.8 145.9,369.8 145.1,369.7 144.4,369.7 143.6,369.6 142.9,369.6 142.2,369.5 141.4,369.4 140.7,369.4 139.9,369.3 139.2,369.3 138.4,369.2 137.7,369.1 136.9,369.1 136.2,369 135.4,368.9 134.7,368.9 134,368.8 133.2,368.7 132.5,368.6 131.7,368.5 131,368.4 130.2,368.4 129.5,368.2 128.7,368.1 128,368 127.3,367.9 126.5,367.7 125.8,367.6 125,367.4 124.3,367.3 123.5,367.1 122.8,367 122,366.8 121.3,366.6 120.5,366.4 119.8,366.3 119.1,366.1 118.3,365.9 117.6,365.6 116.8,365.4 116.1,365.2 115.3,364.9 114.6,364.7 113.8,364.5 113.1,364.2 112.4,364 111.6,363.8 110.9,363.5 110.1,363.3 109.4,363.1 108.6,362.9 107.9,362.7 107.1,362.5 106.4,362.3 105.6,362.1 104.9,361.9 104.2,361.7 103.4,361.5 102.7,361.3 101.9,361.1 101.2,360.9 100.4,360.7 99.7,360.6 98.9,360.5 98.2,360.3 97.5,360.3 96.7,360.2 96,360.1 95.2,360 94.5,360 93.7,359.9 93,359.8 92.2,359.8 91.5,359.7 90.7,359.7 90,359.6 89.3,359.6 88.5,359.5 87.8,359.5 87,359.5 86.3,359.4 85.5,359.4 84.8,359.4 84,359.4 83.3,359.4 82.6,359.3 81.8,359.3 81.1,359.3 80.3,359.3 79.6,359.3 78.8,359.3 78.1,359.2 77.3,359.2 76.6,359.2 75.8,359.2 75.1,359.2 74.4,359.2 73.6,359.2 72.9,359.2 72.1,359.1 71.4,359.1 70.6,359.1 69.9,359.1 69.1,359.1 68.4,359.1 67.7,359.1 66.9,359.1 66.2,359.1 65.4,359.1 64.7,359.1 63.9,359 63.2,359 62.4,359 61.7,359 60.9,359 60.2,359 59.5,359 58.7,359 58,359 57.2,359 56.5,359 55.7,359 55,358.9 54.2,358.9 53.5,358.9 52.8,358.9 52,358.9 51.3,358.9 50.5,358.9 49.8,358.9 49,358.9 48.3,358.9 47.5,358.9 46.8,358.9 46,358.9 45.3,358.9 44.6,358.9 43.8,358.9 43.1,358.9 42.3,358.8 41.6,358.8 40.8,358.8 40.1,358.8 39.3,358.8 38.6,358.8 37.9,358.8 37.1,358.8 36.4,358.8 35.6,358.8 34.9,358.8 34.1,358.8 33.4,358.8 32.6,358.8 31.9,358.8 31.1,358.8 30.4,358.8 29.7,358.8 28.9,358.8 28.2,358.7 27.4,358.7 26.7,358.7 25.9,358.7 25.2,358.7 24.4,358.7 23.7,358.7" fill="url(#gcv)" stroke="none"/>
<polyline points="23.7,358.7 24.4,358.7 25.2,358.7 25.9,358.7 26.7,358.7 27.4,358.7 28.2,358.7 28.9,358.7 29.7,358.7 30.4,358.7 31.1,358.7 31.9,358.7 32.6,358.7 33.4,358.7 34.1,358.7 34.9,358.7 35.6,358.8 36.4,358.8 37.1,358.8 37.9,358.8 38.6,358.8 39.3,358.8 40.1,358.8 40.8,358.8 41.6,358.8 42.3,358.8 43.1,358.8 43.8,358.8 44.6,358.8 45.3,358.8 46,358.8 46.8,358.8 47.5,358.8 48.3,358.8 49,358.8 49.8,358.8 50.5,358.8 51.3,358.8 52,358.9 52.8,358.9 53.5,358.9 54.2,358.9 55,358.9 55.7,358.9 56.5,358.9 57.2,358.9 58,358.9 58.7,358.9 59.5,358.9 60.2,358.9 60.9,358.9 61.7,358.9 62.4,358.9 63.2,358.9 63.9,358.9 64.7,359 65.4,359 66.2,359 66.9,359 67.7,359 68.4,359 69.1,359 69.9,359 70.6,359 71.4,359 72.1,359 72.9,359 73.6,359 74.4,359 75.1,359 75.8,359.1 76.6,359.1 77.3,359.1 78.1,359.1 78.8,359.1 79.6,359.1 80.3,359.1 81.1,359.1 81.8,359.1 82.6,359.1 83.3,359.1 84,359.2 84.8,359.2 85.5,359.2 86.3,359.2 87,359.2 87.8,359.2 88.5,359.3 89.3,359.3 90,359.3 90.7,359.3 91.5,359.4 92.2,359.4 93,359.4 93.7,359.4 94.5,359.4 95.2,359.4 96,359.3 96.7,359.2 97.5,358.9 98.2,358.5 98.9,358 99.7,357.2 100.4,356 101.2,354.4 101.9,352.2 102.7,349.5 103.4,346.1 104.2,342 104.9,337.2 105.6,331.9 106.4,326.2 107.1,320.2 107.9,314.4 108.6,309 109.4,304.3 110.1,300.8 110.9,298.6 111.6,298 112.4,298.8 113.1,300.6 113.8,303.3 114.6,306.8 115.3,310.8 116.1,315.3 116.8,319.9 117.6,324.7 118.3,329.4 119.1,333.8 119.8,338.1 120.5,342 121.3,345.6 122,348.8 122.8,351.6 123.5,354.1 124.3,356.2 125,358 125.8,359.5 126.5,360.8 127.3,361.9 128,362.7 128.7,363.4 129.5,364 130.2,364.4 131,364.8 131.7,365 132.5,365.3 133.2,365.4 134,365.5 134.7,365.5 135.4,365.5 136.2,365.3 136.9,365.2 137.7,364.9 138.4,364.5 139.2,364.1 139.9,363.5 140.7,362.8 141.4,361.9 142.2,361 142.9,359.9 143.6,358.7 144.4,357.4 145.1,355.9 145.9,354.5 146.6,353 147.4,351.5 148.1,350 148.9,348.7 149.6,347.5 150.3,346.6 151.1,345.9 151.8,345.6 152.6,345.6 153.3,345.9 154.1,346.7 154.8,347.7 155.6,348.9 156.3,350.3 157.1,351.9 157.8,353.5 158.5,355.1 159.3,356.8 160,358.3 160.8,359.8 161.5,361.2 162.3,362.4 163,363.6 163.8,364.6 164.5,365.5 165.2,366.3 166,366.9 166.7,367.5 167.5,368 168.2,368.4 169,368.7 169.7,369 170.5,369.2 171.2,369.4 172,369.5 172.7,369.7 173.4,369.8 174.2,369.9 174.9,370 175.7,370.1 176.4,370.1 177.2,370.2 177.9,370.3 178.7,370.3 179.4,370.4 180.1,370.4 180.9,370.5 181.6,370.5 182.4,370.6 183.1,370.6 183.9,370.7 184.6,370.7 185.4,370.7 186.1,370.8 186.9,370.8 187.6,370.8 188.3,370.9 189.1,370.9 189.8,370.9 190.6,371 191.3,371 192.1,371 192.8,371.1 193.6,371.1 194.3,371.1 195,371.1 195.8,371.2 196.5,371.2 197.3,371.2 198,371.2 198.8,371.3 199.5,371.3 200.3,371.3 201,371.3 201.8,371.3 202.5,371.4 203.2,371.4 204,371.4 204.7,371.4 205.5,371.4 206.2,371.5 207,371.5 207.7,371.5 208.5,371.5 209.2,371.5 209.9,371.6 210.7,371.6 211.4,371.6 212.2,371.6 212.9,371.6 213.7,371.7 214.4,371.7 215.2,371.7 215.9,371.7 216.7,371.7 217.4,371.7 218.1,371.8 218.9,371.8 219.6,371.8 220.4,371.8 221.1,371.8 221.9,371.8 222.6,371.8 223.4,371.9 224.1,371.9 224.8,371.9 225.6,371.9 226.3,371.9 227.1,371.9 227.8,371.9 228.6,371.9 229.3,371.9 230.1,372 230.8,372 231.6,372 232.3,372 233,372 233.8,372 234.5,372 235.3,372 236,372 236.8,372 237.5,372.1 238.3,372.1 239,372.1 239.7,372.1 240.5,372.1 241.2,372.1 242,372.1 242.7,372.1 243.5,372.1 244.2,372.1 245,372.2 245.7,372.2 246.5,372.2 247.2,372.2 247.9,372.2 248.7,372.2 249.4,372.2 250.2,372.2 250.9,372.2 251.7,372.2 252.4,372.2 253.2,372.2 253.9,372.2 254.6,372.3 255.4,372.3 256.1,372.3 256.9,372.3 257.6,372.3 258.4,372.3 259.1,372.3 259.9,372.3 260.6,372.3 261.4,372.3 262.1,372.3 262.8,372.3 263.6,372.3 264.3,372.3 265.1,372.3 265.8,372.3 266.6,372.3 267.3,372.3 268.1,372.3 268.8,372.3" fill="none" stroke="#7a1cf5" stroke-width="1.6" stroke-linejoin="round" stroke-linecap="round"/>
<polygon points="23.7,358.7 24.4,358.7 25.2,358.7 25.9,358.7 26.7,358.7 27.4,358.7 28.2,358.7 28.9,358.7 29.7,358.8 30.4,358.8 31.1,358.8 31.9,358.8 32.6,358.8 33.4,358.8 34.1,358.8 34.9,358.8 35.6,358.8 36.4,358.8 37.1,358.8 37.9,358.8 38.6,358.8 39.3,358.8 40.1,358.8 40.8,358.8 41.6,358.8 42.3,358.8 43.1,358.8 43.8,358.9 44.6,358.9 45.3,358.9 46,358.9 46.8,358.9 47.5,358.9 48.3,358.9 49,358.9 49.8,358.9 50.5,358.9 51.3,358.9 52,358.9 52.8,358.9 53.5,358.9 54.2,358.9 55,358.9 55.7,358.9 56.5,359 57.2,359 58,359 58.7,359 59.5,359 60.2,359 60.9,359 61.7,359 62.4,359 63.2,359 63.9,359 64.7,359 65.4,359 66.2,359.1 66.9,359.1 67.7,359.1 68.4,359.1 69.1,359.1 69.9,359.1 70.6,359.1 71.4,359.1 72.1,359.1 72.9,359.1 73.6,359.2 74.4,359.2 75.1,359.2 75.8,359.2 76.6,359.2 77.3,359.2 78.1,359.2 78.8,359.2 79.6,359.3 80.3,359.3 81.1,359.3 81.8,359.3 82.6,359.3 83.3,359.3 84,359.4 84.8,359.4 85.5,359.4 86.3,359.4 87,359.5 87.8,359.5 88.5,359.5 89.3,359.6 90,359.6 90.7,359.7 91.5,359.7 92.2,359.8 93,359.8 93.7,359.9 94.5,359.9 95.2,360 96,360.1 96.7,360.2 97.5,360.2 98.2,360.3 98.9,360.4 99.7,360.6 100.4,360.7 101.2,360.9 101.9,361.1 102.7,361.2 103.4,361.4 104.2,361.6 104.9,361.8 105.6,362.1 106.4,362.3 107.1,362.5 107.9,362.7 108.6,362.9 109.4,363.1 110.1,363.3 110.9,363.5 111.6,363.7 112.4,364 113.1,364.2 113.8,364.4 114.6,364.7 115.3,364.9 116.1,365.1 116.8,365.4 117.6,365.6 118.3,365.8 119.1,366 119.8,366.2 120.5,366.4 121.3,366.6 122,366.7 122.8,366.9 123.5,367.1 124.3,367.2 125,367.4 125.8,367.6 126.5,367.7 127.3,367.8 128,368 128.7,368.1 129.5,368.2 130.2,368.3 131,368.4 131.7,368.5 132.5,368.6 133.2,368.7 134,368.7 134.7,368.8 135.4,368.9 136.2,369 136.9,369 137.7,369.1 138.4,369.1 139.2,369.2 139.9,369.3 140.7,369.3 141.4,369.4 142.2,369.4 142.9,369.5 143.6,369.5 144.4,369.6 145.1,369.6 145.9,369.7 146.6,369.7 147.4,369.8 148.1,369.8 148.9,369.8 149.6,369.9 150.3,369.9 151.1,370 151.8,370 152.6,370 153.3,370.1 154.1,370.1 154.8,370.1 155.6,370.2 156.3,370.2 157.1,370.2 157.8,370.2 158.5,370.2 159.3,370.2 160,370.2 160.8,370.2 161.5,370.2 162.3,370.2 163,370.2 163.8,370.2 164.5,370.1 165.2,370.1 166,370 166.7,369.9 167.5,369.8 168.2,369.7 169,369.5 169.7,369.3 170.5,369.1 171.2,368.9 172,368.6 172.7,368.3 173.4,368 174.2,367.6 174.9,367.2 175.7,366.8 176.4,366.4 177.2,365.9 177.9,365.4 178.7,364.8 179.4,364.3 180.1,363.7 180.9,363.1 181.6,362.5 182.4,362 183.1,361.4 183.9,360.8 184.6,360.3 185.4,359.8 186.1,359.4 186.9,359 187.6,358.7 188.3,358.4 189.1,358.3 189.8,358.2 190.6,358.1 191.3,358.2 192.1,358.3 192.8,358.5 193.6,358.7 194.3,359 195,359.4 195.8,359.8 196.5,360.2 197.3,360.7 198,361.2 198.8,361.8 199.5,362.3 200.3,362.9 201,363.5 201.8,364 202.5,364.6 203.2,365.1 204,365.7 204.7,366.2 205.5,366.7 206.2,367.2 207,367.6 207.7,368 208.5,368.4 209.2,368.8 209.9,369.1 210.7,369.4 211.4,369.7 212.2,370 212.9,370.2 213.7,370.4 214.4,370.6 215.2,370.8 215.9,370.9 216.7,371.1 217.4,371.2 218.1,371.3 218.9,371.4 219.6,371.5 220.4,371.5 221.1,371.6 221.9,371.7 222.6,371.7 223.4,371.7 224.1,371.8 224.8,371.8 225.6,371.8 226.3,371.9 227.1,371.9 227.8,371.9 228.6,371.9 229.3,372 230.1,372 230.8,372 231.6,372 232.3,372 233,372 233.8,372 234.5,372 235.3,372.1 236,372.1 236.8,372.1 237.5,372.1 238.3,372.1 239,372.1 239.7,372.1 240.5,372.1 241.2,372.1 242,372.2 242.7,372.2 243.5,372.2 244.2,372.2 245,372.2 245.7,372.2 246.5,372.2 247.2,372.2 247.9,372.2 248.7,372.2 249.4,372.2 250.2,372.3 250.9,372.3 251.7,372.3 252.4,372.3 253.2,372.3 253.9,372.3 254.6,372.3 255.4,372.3 256.1,372.3 256.9,372.3 257.6,372.3 258.4,372.3 259.1,372.3 259.9,372.3 260.6,372.3 261.4,372.3 262.1,372.3 262.8,372.4 263.6,372.4 264.3,372.4 265.1,372.4 265.8,372.4 266.6,372.4 267.3,372.4 268.1,372.4 268.8,372.4 268.8,372.4 268.1,372.4 267.3,372.4 266.6,372.4 265.8,372.4 265.1,372.4 264.3,372.4 263.6,372.4 262.8,372.4 262.1,372.4 261.4,372.4 260.6,372.4 259.9,372.4 259.1,372.4 258.4,372.4 257.6,372.4 256.9,372.4 256.1,372.4 255.4,372.3 254.6,372.3 253.9,372.3 253.2,372.3 252.4,372.3 251.7,372.3 250.9,372.3 250.2,372.3 249.4,372.3 248.7,372.3 247.9,372.3 247.2,372.3 246.5,372.3 245.7,372.3 245,372.3 244.2,372.3 243.5,372.2 242.7,372.2 242,372.2 241.2,372.2 240.5,372.2 239.7,372.2 239,372.2 238.3,372.2 237.5,372.2 236.8,372.2 236,372.2 235.3,372.2 234.5,372.1 233.8,372.1 233,372.1 232.3,372.1 231.6,372.1 230.8,372.1 230.1,372.1 229.3,372.1 228.6,372.1 227.8,372.1 227.1,372.1 226.3,372.1 225.6,372 224.8,372 224.1,372 223.4,372 222.6,372 221.9,372 221.1,372 220.4,372 219.6,372 218.9,371.9 218.1,371.9 217.4,371.9 216.7,371.9 215.9,371.9 215.2,371.9 214.4,371.9 213.7,371.9 212.9,371.8 212.2,371.8 211.4,371.8 210.7,371.8 209.9,371.8 209.2,371.8 208.5,371.8 207.7,371.7 207,371.7 206.2,371.7 205.5,371.7 204.7,371.7 204,371.7 203.2,371.7 202.5,371.6 201.8,371.6 201,371.6 200.3,371.6 199.5,371.6 198.8,371.6 198,371.6 197.3,371.5 196.5,371.5 195.8,371.5 195,371.5 194.3,371.5 193.6,371.5 192.8,371.5 192.1,371.4 191.3,371.4 190.6,371.4 189.8,371.4 189.1,371.4 188.3,371.4 187.6,371.3 186.9,371.3 186.1,371.3 185.4,371.3 184.6,371.3 183.9,371.2 183.1,371.2 182.4,371.2 181.6,371.2 180.9,371.2 180.1,371.2 179.4,371.1 178.7,371.1 177.9,371.1 177.2,371.1 176.4,371.1 175.7,371 174.9,371 174.2,371 173.4,371 172.7,370.9 172,370.9 171.2,370.9 170.5,370.9 169.7,370.9 169,370.8 168.2,370.8 167.5,370.8 166.7,370.8 166,370.7 165.2,370.7 164.5,370.7 163.8,370.6 163,370.6 162.3,370.6 161.5,370.6 160.8,370.5 160,370.5 159.3,370.5 158.5,370.4 157.8,370.4 157.1,370.4 156.3,370.3 155.6,370.3 154.8,370.3 154.1,370.2 153.3,370.2 152.6,370.2 151.8,370.1 151.1,370.1 150.3,370 149.6,370 148.9,369.9 148.1,369.9 147.4,369.9 146.6,369.8 145.9,369.8 145.1,369.7 144.4,369.7 143.6,369.6 142.9,369.6 142.2,369.5 141.4,369.4 140.7,369.4 139.9,369.3 139.2,369.3 138.4,369.2 137.7,369.1 136.9,369.1 136.2,369 135.4,368.9 134.7,368.9 134,368.8 133.2,368.7 132.5,368.6 131.7,368.5 131,368.4 130.2,368.4 129.5,368.2 128.7,368.1 128,368 127.3,367.9 126.5,367.7 125.8,367.6 125,367.4 124.3,367.3 123.5,367.1 122.8,367 122,366.8 121.3,366.6 120.5,366.4 119.8,366.3 119.1,366.1 118.3,365.9 117.6,365.6 116.8,365.4 116.1,365.2 115.3,364.9 114.6,364.7 113.8,364.5 113.1,364.2 112.4,364 111.6,363.8 110.9,363.5 110.1,363.3 109.4,363.1 108.6,362.9 107.9,362.7 107.1,362.5 106.4,362.3 105.6,362.1 104.9,361.9 104.2,361.7 103.4,361.5 102.7,361.3 101.9,361.1 101.2,360.9 100.4,360.7 99.7,360.6 98.9,360.5 98.2,360.3 97.5,360.3 96.7,360.2 96,360.1 95.2,360 94.5,360 93.7,359.9 93,359.8 92.2,359.8 91.5,359.7 90.7,359.7 90,359.6 89.3,359.6 88.5,359.5 87.8,359.5 87,359.5 86.3,359.4 85.5,359.4 84.8,359.4 84,359.4 83.3,359.4 82.6,359.3 81.8,359.3 81.1,359.3 80.3,359.3 79.6,359.3 78.8,359.3 78.1,359.2 77.3,359.2 76.6,359.2 75.8,359.2 75.1,359.2 74.4,359.2 73.6,359.2 72.9,359.2 72.1,359.1 71.4,359.1 70.6,359.1 69.9,359.1 69.1,359.1 68.4,359.1 67.7,359.1 66.9,359.1 66.2,359.1 65.4,359.1 64.7,359.1 63.9,359 63.2,359 62.4,359 61.7,359 60.9,359 60.2,359 59.5,359 58.7,359 58,359 57.2,359 56.5,359 55.7,359 55,358.9 54.2,358.9 53.5,358.9 52.8,358.9 52,358.9 51.3,358.9 50.5,358.9 49.8,358.9 49,358.9 48.3,358.9 47.5,358.9 46.8,358.9 46,358.9 45.3,358.9 44.6,358.9 43.8,358.9 43.1,358.9 42.3,358.8 41.6,358.8 40.8,358.8 40.1,358.8 39.3,358.8 38.6,358.8 37.9,358.8 37.1,358.8 36.4,358.8 35.6,358.8 34.9,358.8 34.1,358.8 33.4,358.8 32.6,358.8 31.9,358.8 31.1,358.8 30.4,358.8 29.7,358.8 28.9,358.8 28.2,358.7 27.4,358.7 26.7,358.7 25.9,358.7 25.2,358.7 24.4,358.7 23.7,358.7" fill="url(#gcs)" stroke="none"/>
<polyline points="23.7,358.7 24.4,358.7 25.2,358.7 25.9,358.7 26.7,358.7 27.4,358.7 28.2,358.7 28.9,358.7 29.7,358.8 30.4,358.8 31.1,358.8 31.9,358.8 32.6,358.8 33.4,358.8 34.1,358.8 34.9,358.8 35.6,358.8 36.4,358.8 37.1,358.8 37.9,358.8 38.6,358.8 39.3,358.8 40.1,358.8 40.8,358.8 41.6,358.8 42.3,358.8 43.1,358.8 43.8,358.9 44.6,358.9 45.3,358.9 46,358.9 46.8,358.9 47.5,358.9 48.3,358.9 49,358.9 49.8,358.9 50.5,358.9 51.3,358.9 52,358.9 52.8,358.9 53.5,358.9 54.2,358.9 55,358.9 55.7,358.9 56.5,359 57.2,359 58,359 58.7,359 59.5,359 60.2,359 60.9,359 61.7,359 62.4,359 63.2,359 63.9,359 64.7,359 65.4,359 66.2,359.1 66.9,359.1 67.7,359.1 68.4,359.1 69.1,359.1 69.9,359.1 70.6,359.1 71.4,359.1 72.1,359.1 72.9,359.1 73.6,359.2 74.4,359.2 75.1,359.2 75.8,359.2 76.6,359.2 77.3,359.2 78.1,359.2 78.8,359.2 79.6,359.3 80.3,359.3 81.1,359.3 81.8,359.3 82.6,359.3 83.3,359.3 84,359.4 84.8,359.4 85.5,359.4 86.3,359.4 87,359.5 87.8,359.5 88.5,359.5 89.3,359.6 90,359.6 90.7,359.7 91.5,359.7 92.2,359.8 93,359.8 93.7,359.9 94.5,359.9 95.2,360 96,360.1 96.7,360.2 97.5,360.2 98.2,360.3 98.9,360.4 99.7,360.6 100.4,360.7 101.2,360.9 101.9,361.1 102.7,361.2 103.4,361.4 104.2,361.6 104.9,361.8 105.6,362.1 106.4,362.3 107.1,362.5 107.9,362.7 108.6,362.9 109.4,363.1 110.1,363.3 110.9,363.5 111.6,363.7 112.4,364 113.1,364.2 113.8,364.4 114.6,364.7 115.3,364.9 116.1,365.1 116.8,365.4 117.6,365.6 118.3,365.8 119.1,366 119.8,366.2 120.5,366.4 121.3,366.6 122,366.7 122.8,366.9 123.5,367.1 124.3,367.2 125,367.4 125.8,367.6 126.5,367.7 127.3,367.8 128,368 128.7,368.1 129.5,368.2 130.2,368.3 131,368.4 131.7,368.5 132.5,368.6 133.2,368.7 134,368.7 134.7,368.8 135.4,368.9 136.2,369 136.9,369 137.7,369.1 138.4,369.1 139.2,369.2 139.9,369.3 140.7,369.3 141.4,369.4 142.2,369.4 142.9,369.5 143.6,369.5 144.4,369.6 145.1,369.6 145.9,369.7 146.6,369.7 147.4,369.8 148.1,369.8 148.9,369.8 149.6,369.9 150.3,369.9 151.1,370 151.8,370 152.6,370 153.3,370.1 154.1,370.1 154.8,370.1 155.6,370.2 156.3,370.2 157.1,370.2 157.8,370.2 158.5,370.2 159.3,370.2 160,370.2 160.8,370.2 161.5,370.2 162.3,370.2 163,370.2 163.8,370.2 164.5,370.1 165.2,370.1 166,370 166.7,369.9 167.5,369.8 168.2,369.7 169,369.5 169.7,369.3 170.5,369.1 171.2,368.9 172,368.6 172.7,368.3 173.4,368 174.2,367.6 174.9,367.2 175.7,366.8 176.4,366.4 177.2,365.9 177.9,365.4 178.7,364.8 179.4,364.3 180.1,363.7 180.9,363.1 181.6,362.5 182.4,362 183.1,361.4 183.9,360.8 184.6,360.3 185.4,359.8 186.1,359.4 186.9,359 187.6,358.7 188.3,358.4 189.1,358.3 189.8,358.2 190.6,358.1 191.3,358.2 192.1,358.3 192.8,358.5 193.6,358.7 194.3,359 195,359.4 195.8,359.8 196.5,360.2 197.3,360.7 198,361.2 198.8,361.8 199.5,362.3 200.3,362.9 201,363.5 201.8,364 202.5,364.6 203.2,365.1 204,365.7 204.7,366.2 205.5,366.7 206.2,367.2 207,367.6 207.7,368 208.5,368.4 209.2,368.8 209.9,369.1 210.7,369.4 211.4,369.7 212.2,370 212.9,370.2 213.7,370.4 214.4,370.6 215.2,370.8 215.9,370.9 216.7,371.1 217.4,371.2 218.1,371.3 218.9,371.4 219.6,371.5 220.4,371.5 221.1,371.6 221.9,371.7 222.6,371.7 223.4,371.7 224.1,371.8 224.8,371.8 225.6,371.8 226.3,371.9 227.1,371.9 227.8,371.9 228.6,371.9 229.3,372 230.1,372 230.8,372 231.6,372 232.3,372 233,372 233.8,372 234.5,372 235.3,372.1 236,372.1 236.8,372.1 237.5,372.1 238.3,372.1 239,372.1 239.7,372.1 240.5,372.1 241.2,372.1 242,372.2 242.7,372.2 243.5,372.2 244.2,372.2 245,372.2 245.7,372.2 246.5,372.2 247.2,372.2 247.9,372.2 248.7,372.2 249.4,372.2 250.2,372.3 250.9,372.3 251.7,372.3 252.4,372.3 253.2,372.3 253.9,372.3 254.6,372.3 255.4,372.3 256.1,372.3 256.9,372.3 257.6,372.3 258.4,372.3 259.1,372.3 259.9,372.3 260.6,372.3 261.4,372.3 262.1,372.3 262.8,372.4 263.6,372.4 264.3,372.4 265.1,372.4 265.8,372.4 266.6,372.4 267.3,372.4 268.1,372.4 268.8,372.4" fill="none" stroke="#5a4a5a" stroke-width="0.8" stroke-linejoin="round" stroke-linecap="round"/>
<polyline points="23.7,358.7 24.4,358.7 25.2,358.7 25.9,358.7 26.7,358.7 27.4,358.7 28.2,358.7 28.9,358.8 29.7,358.8 30.4,358.8 31.1,358.8 31.9,358.8 32.6,358.8 33.4,358.8 34.1,358.8 34.9,358.8 35.6,358.8 36.4,358.8 37.1,358.8 37.9,358.8 38.6,358.8 39.3,358.8 40.1,358.8 40.8,358.8 41.6,358.8 42.3,358.8 43.1,358.9 43.8,358.9 44.6,358.9 45.3,358.9 46,358.9 46.8,358.9 47.5,358.9 48.3,358.9 49,358.9 49.8,358.9 50.5,358.9 51.3,358.9 52,358.9 52.8,358.9 53.5,358.9 54.2,358.9 55,358.9 55.7,359 56.5,359 57.2,359 58,359 58.7,359 59.5,359 60.2,359 60.9,359 61.7,359 62.4,359 63.2,359 63.9,359 64.7,359.1 65.4,359.1 66.2,359.1 66.9,359.1 67.7,359.1 68.4,359.1 69.1,359.1 69.9,359.1 70.6,359.1 71.4,359.1 72.1,359.1 72.9,359.2 73.6,359.2 74.4,359.2 75.1,359.2 75.8,359.2 76.6,359.2 77.3,359.2 78.1,359.2 78.8,359.3 79.6,359.3 80.3,359.3 81.1,359.3 81.8,359.3 82.6,359.3 83.3,359.4 84,359.4 84.8,359.4 85.5,359.4 86.3,359.4 87,359.5 87.8,359.5 88.5,359.5 89.3,359.6 90,359.6 90.7,359.7 91.5,359.7 92.2,359.8 93,359.8 93.7,359.9 94.5,360 95.2,360 96,360.1 96.7,360.2 97.5,360.3 98.2,360.3 98.9,360.5 99.7,360.6 100.4,360.7 101.2,360.9 101.9,361.1 102.7,361.3 103.4,361.5 104.2,361.7 104.9,361.9 105.6,362.1 106.4,362.3 107.1,362.5 107.9,362.7 108.6,362.9 109.4,363.1 110.1,363.3 110.9,363.5 111.6,363.8 112.4,364 113.1,364.2 113.8,364.5 114.6,364.7 115.3,364.9 116.1,365.2 116.8,365.4 117.6,365.6 118.3,365.9 119.1,366.1 119.8,366.3 120.5,366.4 121.3,366.6 122,366.8 122.8,367 123.5,367.1 124.3,367.3 125,367.4 125.8,367.6 126.5,367.7 127.3,367.9 128,368 128.7,368.1 129.5,368.2 130.2,368.4 131,368.4 131.7,368.5 132.5,368.6 133.2,368.7 134,368.8 134.7,368.9 135.4,368.9 136.2,369 136.9,369.1 137.7,369.1 138.4,369.2 139.2,369.3 139.9,369.3 140.7,369.4 141.4,369.4 142.2,369.5 142.9,369.6 143.6,369.6 144.4,369.7 145.1,369.7 145.9,369.8 146.6,369.8 147.4,369.9 148.1,369.9 148.9,369.9 149.6,370 150.3,370 151.1,370.1 151.8,370.1 152.6,370.2 153.3,370.2 154.1,370.2 154.8,370.3 155.6,370.3 156.3,370.3 157.1,370.4 157.8,370.4 158.5,370.4 159.3,370.5 160,370.5 160.8,370.5 161.5,370.6 162.3,370.6 163,370.6 163.8,370.6 164.5,370.7 165.2,370.7 166,370.7 166.7,370.8 167.5,370.8 168.2,370.8 169,370.8 169.7,370.9 170.5,370.9 171.2,370.9 172,370.9 172.7,370.9 173.4,371 174.2,371 174.9,371 175.7,371 176.4,371.1 177.2,371.1 177.9,371.1 178.7,371.1 179.4,371.1 180.1,371.2 180.9,371.2 181.6,371.2 182.4,371.2 183.1,371.2 183.9,371.2 184.6,371.3 185.4,371.3 186.1,371.3 186.9,371.3 187.6,371.3 188.3,371.4 189.1,371.4 189.8,371.4 190.6,371.4 191.3,371.4 192.1,371.4 192.8,371.5 193.6,371.5 194.3,371.5 195,371.5 195.8,371.5 196.5,371.5 197.3,371.5 198,371.6 198.8,371.6 199.5,371.6 200.3,371.6 201,371.6 201.8,371.6 202.5,371.6 203.2,371.7 204,371.7 204.7,371.7 205.5,371.7 206.2,371.7 207,371.7 207.7,371.7 208.5,371.8 209.2,371.8 209.9,371.8 210.7,371.8 211.4,371.8 212.2,371.8 212.9,371.8 213.7,371.9 214.4,371.9 215.2,371.9 215.9,371.9 216.7,371.9 217.4,371.9 218.1,371.9 218.9,371.9 219.6,372 220.4,372 221.1,372 221.9,372 222.6,372 223.4,372 224.1,372 224.8,372 225.6,372 226.3,372.1 227.1,372.1 227.8,372.1 228.6,372.1 229.3,372.1 230.1,372.1 230.8,372.1 231.6,372.1 232.3,372.1 233,372.1 233.8,372.1 234.5,372.1 235.3,372.2 236,372.2 236.8,372.2 237.5,372.2 238.3,372.2 239,372.2 239.7,372.2 240.5,372.2 241.2,372.2 242,372.2 242.7,372.2 243.5,372.2 244.2,372.3 245,372.3 245.7,372.3 246.5,372.3 247.2,372.3 247.9,372.3 248.7,372.3 249.4,372.3 250.2,372.3 250.9,372.3 251.7,372.3 252.4,372.3 253.2,372.3 253.9,372.3 254.6,372.3 255.4,372.3 256.1,372.4 256.9,372.4 257.6,372.4 258.4,372.4 259.1,372.4 259.9,372.4 260.6,372.4 261.4,372.4 262.1,372.4 262.8,372.4 263.6,372.4 264.3,372.4 265.1,372.4 265.8,372.4 266.6,372.4 267.3,372.4 268.1,372.4 268.8,372.4" fill="none" stroke="#a08a88" stroke-width="1.0" stroke-linejoin="round" stroke-linecap="round"/>
<line x1="23.4" y1="381.7" x2="23.4" y2="384.7" stroke="#000" stroke-width="1.1"/>
<line x1="72.6" y1="381.7" x2="72.6" y2="384.7" stroke="#000" stroke-width="1.1"/>
<line x1="121.8" y1="381.7" x2="121.8" y2="384.7" stroke="#000" stroke-width="1.1"/>
<line x1="171" y1="381.7" x2="171" y2="384.7" stroke="#000" stroke-width="1.1"/>
<line x1="220.2" y1="381.7" x2="220.2" y2="384.7" stroke="#000" stroke-width="1.1"/>
<line x1="269.4" y1="381.7" x2="269.4" y2="384.7" stroke="#000" stroke-width="1.1"/>
<line x1="48" y1="381.7" x2="48" y2="383.5" stroke="#000" stroke-width="1.0"/>
<line x1="97.2" y1="381.7" x2="97.2" y2="383.5" stroke="#000" stroke-width="1.0"/>
<line x1="146.4" y1="381.7" x2="146.4" y2="383.5" stroke="#000" stroke-width="1.0"/>
<line x1="195.6" y1="381.7" x2="195.6" y2="383.5" stroke="#000" stroke-width="1.0"/>
<line x1="244.8" y1="381.7" x2="244.8" y2="383.5" stroke="#000" stroke-width="1.0"/>
<rect x="102" y="224.8" width="20.5" height="8.6" fill="url(#lc1)" stroke="#666" stroke-width="0.6"/>
<rect x="102" y="235.6" width="20.5" height="8.6" fill="url(#lc2)" stroke="#666" stroke-width="0.6"/>
<rect x="102" y="246.7" width="20.5" height="8.8" fill="url(#lc3)" stroke="#8a5a20" stroke-width="0.6"/>
<rect x="292" y="208.9" width="246.3" height="173" fill="none" stroke="#000" stroke-width="1.45"/>
<polyline points="292.3,348.9 292.9,348.9 293.5,348.9 294.1,348.9 294.7,348.9 295.3,348.9 296,348.9 296.6,348.9 297.2,348.9 297.8,348.9 298.4,348.9 299,348.9 299.6,348.9 300.2,348.9 300.8,348.9 301.4,348.9 302.1,348.9 302.7,348.9 303.3,348.9 303.9,348.9 304.5,348.9 305.1,348.9 305.7,348.9 306.3,348.9 306.9,348.8 307.5,348.8 308.1,348.8 308.8,348.8 309.4,348.8 310,348.8 310.6,348.8 311.2,348.8 311.8,348.8 312.4,348.8 313,348.8 313.6,348.8 314.2,348.8 314.9,348.8 315.5,348.8 316.1,348.8 316.7,348.7 317.3,348.7 317.9,348.7 318.5,348.7 319.1,348.7 319.7,348.7 320.3,348.7 320.9,348.7 321.6,348.7 322.2,348.7 322.8,348.6 323.4,348.6 324,348.6 324.6,348.6 325.2,348.6 325.8,348.6 326.4,348.6 327,348.5 327.7,348.5 328.3,348.5 328.9,348.5 329.5,348.5 330.1,348.5 330.7,348.4 331.3,348.4 331.9,348.4 332.5,348.4 333.1,348.4 333.7,348.3 334.4,348.3 335,348.3 335.6,348.2 336.2,348.2 336.8,348.2 337.4,348.2 338,348.1 338.6,348.1 339.2,348.1 339.8,348 340.5,348 341.1,347.9 341.7,347.9 342.3,347.8 342.9,347.8 343.5,347.7 344.1,347.7 344.7,347.6 345.3,347.5 345.9,347.5 346.5,347.4 347.2,347.3 347.8,347.2 348.4,347.1 349,347 349.6,346.9 350.2,346.8 350.8,346.7 351.4,346.5 352,346.3 352.6,346.2 353.3,346 353.9,345.7 354.5,345.4 355.1,345.1 355.7,344.8 356.3,344.3 356.9,343.8 357.5,343.3 358.1,342.6 358.7,341.8 359.3,340.9 360,339.9 360.6,338.8 361.2,337.5 361.8,336.1 362.4,334.7 363,333.2 363.6,331.8 364.2,330.6 364.8,329.6 365.4,329.1 366.1,329.1 366.7,329.5 367.3,330.4 367.9,331.5 368.5,332.7 369.1,334.1 369.7,335.3 370.3,336.5 370.9,337.6 371.5,338.6 372.1,339.4 372.8,340.1 373.4,340.6 374,341.1 374.6,341.4 375.2,341.7 375.8,341.9 376.4,342 377,342 377.6,342 378.2,341.9 378.9,341.8 379.5,341.7 380.1,341.4 380.7,341.2 381.3,340.9 381.9,340.5 382.5,340.1 383.1,339.7 383.7,339.2 384.3,338.7 384.9,338.1 385.6,337.4 386.2,336.7 386.8,336 387.4,335.2 388,334.4 388.6,333.5 389.2,332.6 389.8,331.6 390.4,330.6 391,329.5 391.7,328.4 392.3,327.3 392.9,326.1 393.5,324.9 394.1,323.7 394.7,322.4 395.3,321.1 395.9,319.8 396.5,318.4 397.1,317.1 397.7,315.7 398.4,314.3 399,313 399.6,311.6 400.2,310.3 400.8,309 401.4,307.6 402,306.3 402.6,305 403.2,303.7 403.8,302.4 404.5,301.1 405.1,299.8 405.7,298.3 406.3,296.8 406.9,295 407.5,293.1 408.1,290.8 408.7,288.2 409.3,285 409.9,281.4 410.5,277.2 411.2,272.4 411.8,267 412.4,261.2 413,254.9 413.6,248.6 414.2,242.4 414.8,236.9 415.4,232.5 416,229.7 416.6,228.9 417.3,230.4 417.9,234 418.5,239.3 419.1,246 419.7,253.5 420.3,261.5 420.9,269.6 421.5,277.5 422.1,285 422.7,292 423.3,298.4 424,304.2 424.6,309.4 425.2,314 425.8,318 426.4,321.5 427,324.5 427.6,327.1 428.2,329.3 428.8,331.3 429.4,332.9 430.1,334.3 430.7,335.5 431.3,336.6 431.9,337.5 432.5,338.4 433.1,339.1 433.7,339.8 434.3,340.4 434.9,340.9 435.5,341.4 436.1,341.9 436.8,342.3 437.4,342.7 438,343 438.6,343.4 439.2,343.7 439.8,344 440.4,344.2 441,344.5 441.6,344.7 442.2,344.9 442.9,345.1 443.5,345.3 444.1,345.5 444.7,345.7 445.3,345.9 445.9,346 446.5,346.2 447.1,346.3 447.7,346.5 448.3,346.6 448.9,346.7 449.6,346.8 450.2,346.9 450.8,347 451.4,347.1 452,347.2 452.6,347.3 453.2,347.4 453.8,347.5 454.4,347.6 455,347.7 455.7,347.7 456.3,347.8 456.9,347.9 457.5,348 458.1,348 458.7,348.1 459.3,348.1 459.9,348.2 460.5,348.3 461.1,348.3 461.7,348.4 462.4,348.4 463,348.5 463.6,348.5 464.2,348.6 464.8,348.6 465.4,348.7 466,348.7 466.6,348.7 467.2,348.8 467.8,348.8 468.5,348.9 469.1,348.9 469.7,348.9 470.3,349 470.9,349 471.5,349 472.1,349.1 472.7,349.1 473.3,349.1 473.9,349.2 474.5,349.2 475.2,349.2 475.8,349.2 476.4,349.3 477,349.3 477.6,349.3 478.2,349.3 478.8,349.4 479.4,349.4 480,349.4 480.6,349.4 481.3,349.5 481.9,349.5 482.5,349.5 483.1,349.5 483.7,349.6 484.3,349.6 484.9,349.6 485.5,349.6 486.1,349.6 486.7,349.7 487.3,349.7 488,349.7 488.6,349.7 489.2,349.7 489.8,349.7 490.4,349.8 491,349.8 491.6,349.8 492.2,349.8 492.8,349.8 493.4,349.8 494.1,349.9 494.7,349.9 495.3,349.9 495.9,349.9 496.5,349.9 497.1,349.9 497.7,349.9 498.3,350 498.9,350 499.5,350 500.1,350 500.8,350 501.4,350 502,350 502.6,350 503.2,350.1 503.8,350.1 504.4,350.1 505,350.1 505.6,350.1 506.2,350.1 506.9,350.1 507.5,350.1 508.1,350.1 508.7,350.2 509.3,350.2 509.9,350.2 510.5,350.2 511.1,350.2 511.7,350.2 512.3,350.2 512.9,350.2 513.6,350.2 514.2,350.3 514.8,350.3 515.4,350.3 516,350.3 516.6,350.3 517.2,350.3 517.8,350.3 518.4,350.3 519,350.3 519.7,350.3 520.3,350.3 520.9,350.4 521.5,350.4 522.1,350.4 522.7,350.4 523.3,350.4 523.9,350.4 524.5,350.4 525.1,350.4 525.7,350.4 526.4,350.4 527,350.4 527.6,350.4 528.2,350.5 528.8,350.5 529.4,350.5 530,350.5 530.6,350.5 531.2,350.5 531.8,350.5 532.5,350.5 533.1,350.5 533.7,350.5 534.3,350.5 534.9,350.5 535.5,350.5" fill="none" stroke="#000" stroke-width="1.7" stroke-linejoin="round" stroke-linecap="round"/>
<polygon points="292.3,349.6 292.9,349.6 293.5,349.6 294.1,349.6 294.7,349.6 295.3,349.6 296,349.6 296.6,349.6 297.2,349.6 297.8,349.6 298.4,349.6 299,349.6 299.6,349.6 300.2,349.6 300.8,349.6 301.4,349.6 302.1,349.6 302.7,349.6 303.3,349.6 303.9,349.6 304.5,349.6 305.1,349.6 305.7,349.6 306.3,349.6 306.9,349.6 307.5,349.7 308.1,349.7 308.8,349.7 309.4,349.7 310,349.7 310.6,349.7 311.2,349.7 311.8,349.7 312.4,349.7 313,349.7 313.6,349.7 314.2,349.7 314.9,349.7 315.5,349.7 316.1,349.7 316.7,349.7 317.3,349.7 317.9,349.7 318.5,349.7 319.1,349.7 319.7,349.7 320.3,349.7 320.9,349.7 321.6,349.7 322.2,349.7 322.8,349.7 323.4,349.7 324,349.7 324.6,349.7 325.2,349.7 325.8,349.7 326.4,349.7 327,349.7 327.7,349.7 328.3,349.7 328.9,349.7 329.5,349.7 330.1,349.7 330.7,349.7 331.3,349.7 331.9,349.7 332.5,349.7 333.1,349.7 333.7,349.7 334.4,349.7 335,349.7 335.6,349.7 336.2,349.7 336.8,349.7 337.4,349.7 338,349.7 338.6,349.7 339.2,349.7 339.8,349.7 340.5,349.7 341.1,349.7 341.7,349.7 342.3,349.7 342.9,349.7 343.5,349.7 344.1,349.7 344.7,349.7 345.3,349.7 345.9,349.7 346.5,349.7 347.2,349.7 347.8,349.7 348.4,349.7 349,349.7 349.6,349.7 350.2,349.7 350.8,349.7 351.4,349.7 352,349.7 352.6,349.7 353.3,349.7 353.9,349.6 354.5,349.6 355.1,349.6 355.7,349.6 356.3,349.6 356.9,349.6 357.5,349.6 358.1,349.6 358.7,349.6 359.3,349.6 360,349.6 360.6,349.6 361.2,349.6 361.8,349.6 362.4,349.6 363,349.5 363.6,349.5 364.2,349.5 364.8,349.5 365.4,349.5 366.1,349.5 366.7,349.5 367.3,349.5 367.9,349.4 368.5,349.4 369.1,349.4 369.7,349.4 370.3,349.4 370.9,349.4 371.5,349.4 372.1,349.3 372.8,349.3 373.4,349.3 374,349.3 374.6,349.2 375.2,349.2 375.8,349.2 376.4,349.2 377,349.1 377.6,349.1 378.2,349.1 378.9,349.1 379.5,349 380.1,349 380.7,348.9 381.3,348.9 381.9,348.9 382.5,348.8 383.1,348.8 383.7,348.7 384.3,348.7 384.9,348.6 385.6,348.5 386.2,348.5 386.8,348.4 387.4,348.3 388,348.3 388.6,348.2 389.2,348.1 389.8,348 390.4,347.9 391,347.8 391.7,347.7 392.3,347.6 392.9,347.4 393.5,347.3 394.1,347.1 394.7,347 395.3,346.8 395.9,346.6 396.5,346.4 397.1,346.2 397.7,345.9 398.4,345.6 399,345.3 399.6,345 400.2,344.6 400.8,344.2 401.4,343.7 402,343.1 402.6,342.5 403.2,341.7 403.8,340.8 404.5,339.7 405.1,338.5 405.7,336.9 406.3,335.1 406.9,332.9 407.5,330.3 408.1,327.2 408.7,323.6 409.3,319.4 409.9,314.6 410.5,309.2 411.2,303.2 411.8,296.7 412.4,289.7 413,282.5 413.6,275.1 414.2,268 414.8,261.6 415.4,256.4 416,252.7 416.6,251 417.3,251.6 417.9,254.1 418.5,258.5 419.1,264.2 419.7,270.8 420.3,277.9 420.9,285.2 421.5,292.2 422.1,298.9 422.7,305.2 423.3,310.9 424,316 424.6,320.6 425.2,324.6 425.8,328 426.4,330.9 427,333.4 427.6,335.5 428.2,337.3 428.8,338.8 429.4,340 430.1,341.1 430.7,341.9 431.3,342.7 431.9,343.3 432.5,343.9 433.1,344.4 433.7,344.8 434.3,345.2 434.9,345.5 435.5,345.8 436.1,346.1 436.8,346.4 437.4,346.6 438,346.8 438.6,347 439.2,347.2 439.8,347.4 440.4,347.5 441,347.7 441.6,347.8 442.2,348 442.9,348.1 443.5,348.2 444.1,348.3 444.7,348.4 445.3,348.5 445.9,348.6 446.5,348.7 447.1,348.8 447.7,348.8 448.3,348.9 448.9,349 449.6,349 450.2,349.1 450.8,349.2 451.4,349.2 452,349.3 452.6,349.3 453.2,349.4 453.8,349.4 454.4,349.5 455,349.5 455.7,349.5 456.3,349.6 456.9,349.6 457.5,349.6 458.1,349.7 458.7,349.7 459.3,349.7 459.9,349.8 460.5,349.8 461.1,349.8 461.7,349.9 462.4,349.9 463,349.9 463.6,349.9 464.2,350 464.8,350 465.4,350 466,350 466.6,350.1 467.2,350.1 467.8,350.1 468.5,350.1 469.1,350.1 469.7,350.2 470.3,350.2 470.9,350.2 471.5,350.2 472.1,350.2 472.7,350.2 473.3,350.3 473.9,350.3 474.5,350.3 475.2,350.3 475.8,350.3 476.4,350.3 477,350.3 477.6,350.4 478.2,350.4 478.8,350.4 479.4,350.4 480,350.4 480.6,350.4 481.3,350.4 481.9,350.4 482.5,350.5 483.1,350.5 483.7,350.5 484.3,350.5 484.9,350.5 485.5,350.5 486.1,350.5 486.7,350.5 487.3,350.5 488,350.6 488.6,350.6 489.2,350.6 489.8,350.6 490.4,350.6 491,350.6 491.6,350.6 492.2,350.6 492.8,350.6 493.4,350.6 494.1,350.6 494.7,350.7 495.3,350.7 495.9,350.7 496.5,350.7 497.1,350.7 497.7,350.7 498.3,350.7 498.9,350.7 499.5,350.7 500.1,350.7 500.8,350.7 501.4,350.7 502,350.7 502.6,350.8 503.2,350.8 503.8,350.8 504.4,350.8 505,350.8 505.6,350.8 506.2,350.8 506.9,350.8 507.5,350.8 508.1,350.8 508.7,350.8 509.3,350.8 509.9,350.8 510.5,350.8 511.1,350.9 511.7,350.9 512.3,350.9 512.9,350.9 513.6,350.9 514.2,350.9 514.8,350.9 515.4,350.9 516,350.9 516.6,350.9 517.2,350.9 517.8,350.9 518.4,350.9 519,350.9 519.7,350.9 520.3,350.9 520.9,350.9 521.5,351 522.1,351 522.7,351 523.3,351 523.9,351 524.5,351 525.1,351 525.7,351 526.4,351 527,351 527.6,351 528.2,351 528.8,351 529.4,351 530,351 530.6,351 531.2,351 531.8,351 532.5,351 533.1,351.1 533.7,351.1 534.3,351.1 534.9,351.1 535.5,351.1 535.5,351.2 534.9,351.2 534.3,351.2 533.7,351.2 533.1,351.2 532.5,351.2 531.8,351.2 531.2,351.2 530.6,351.2 530,351.2 529.4,351.2 528.8,351.2 528.2,351.2 527.6,351.2 527,351.2 526.4,351.1 525.7,351.1 525.1,351.1 524.5,351.1 523.9,351.1 523.3,351.1 522.7,351.1 522.1,351.1 521.5,351.1 520.9,351.1 520.3,351.1 519.7,351.1 519,351.1 518.4,351.1 517.8,351.1 517.2,351.1 516.6,351.1 516,351.1 515.4,351.1 514.8,351.1 514.2,351.1 513.6,351.1 512.9,351.1 512.3,351.1 511.7,351.1 511.1,351.1 510.5,351 509.9,351 509.3,351 508.7,351 508.1,351 507.5,351 506.9,351 506.2,351 505.6,351 505,351 504.4,351 503.8,351 503.2,351 502.6,351 502,351 501.4,351 500.8,351 500.1,351 499.5,351 498.9,351 498.3,351 497.7,351 497.1,351 496.5,351 495.9,351 495.3,351 494.7,351 494.1,350.9 493.4,350.9 492.8,350.9 492.2,350.9 491.6,350.9 491,350.9 490.4,350.9 489.8,350.9 489.2,350.9 488.6,350.9 488,350.9 487.3,350.9 486.7,350.9 486.1,350.9 485.5,350.9 484.9,350.9 484.3,350.9 483.7,350.9 483.1,350.9 482.5,350.9 481.9,350.9 481.3,350.9 480.6,350.9 480,350.9 479.4,350.9 478.8,350.9 478.2,350.8 477.6,350.8 477,350.8 476.4,350.8 475.8,350.8 475.2,350.8 474.5,350.8 473.9,350.8 473.3,350.8 472.7,350.8 472.1,350.8 471.5,350.8 470.9,350.8 470.3,350.8 469.7,350.8 469.1,350.8 468.5,350.8 467.8,350.8 467.2,350.8 466.6,350.8 466,350.8 465.4,350.8 464.8,350.8 464.2,350.8 463.6,350.8 463,350.8 462.4,350.8 461.7,350.7 461.1,350.7 460.5,350.7 459.9,350.7 459.3,350.7 458.7,350.7 458.1,350.7 457.5,350.7 456.9,350.7 456.3,350.7 455.7,350.7 455,350.7 454.4,350.7 453.8,350.7 453.2,350.7 452.6,350.7 452,350.7 451.4,350.7 450.8,350.7 450.2,350.7 449.6,350.7 448.9,350.7 448.3,350.7 447.7,350.7 447.1,350.7 446.5,350.7 445.9,350.6 445.3,350.6 444.7,350.6 444.1,350.6 443.5,350.6 442.9,350.6 442.2,350.6 441.6,350.6 441,350.6 440.4,350.6 439.8,350.6 439.2,350.6 438.6,350.6 438,350.6 437.4,350.6 436.8,350.6 436.1,350.6 435.5,350.6 434.9,350.6 434.3,350.6 433.7,350.6 433.1,350.6 432.5,350.6 431.9,350.6 431.3,350.6 430.7,350.6 430.1,350.6 429.4,350.5 428.8,350.5 428.2,350.5 427.6,350.5 427,350.5 426.4,350.5 425.8,350.5 425.2,350.5 424.6,350.5 424,350.5 423.3,350.5 422.7,350.5 422.1,350.5 421.5,350.5 420.9,350.5 420.3,350.5 419.7,350.5 419.1,350.5 418.5,350.5 417.9,350.5 417.3,350.5 416.6,350.5 416,350.5 415.4,350.5 414.8,350.5 414.2,350.5 413.6,350.5 413,350.4 412.4,350.4 411.8,350.4 411.2,350.4 410.5,350.4 409.9,350.4 409.3,350.4 408.7,350.4 408.1,350.4 407.5,350.4 406.9,350.4 406.3,350.4 405.7,350.4 405.1,350.4 404.5,350.4 403.8,350.4 403.2,350.4 402.6,350.4 402,350.4 401.4,350.4 400.8,350.4 400.2,350.4 399.6,350.4 399,350.4 398.4,350.4 397.7,350.4 397.1,350.3 396.5,350.3 395.9,350.3 395.3,350.3 394.7,350.3 394.1,350.3 393.5,350.3 392.9,350.3 392.3,350.3 391.7,350.3 391,350.3 390.4,350.3 389.8,350.3 389.2,350.3 388.6,350.3 388,350.3 387.4,350.3 386.8,350.3 386.2,350.3 385.6,350.3 384.9,350.3 384.3,350.3 383.7,350.3 383.1,350.3 382.5,350.3 381.9,350.3 381.3,350.3 380.7,350.2 380.1,350.2 379.5,350.2 378.9,350.2 378.2,350.2 377.6,350.2 377,350.2 376.4,350.2 375.8,350.2 375.2,350.2 374.6,350.2 374,350.2 373.4,350.2 372.8,350.2 372.1,350.2 371.5,350.2 370.9,350.2 370.3,350.2 369.7,350.2 369.1,350.2 368.5,350.2 367.9,350.2 367.3,350.2 366.7,350.2 366.1,350.2 365.4,350.2 364.8,350.1 364.2,350.1 363.6,350.1 363,350.1 362.4,350.1 361.8,350.1 361.2,350.1 360.6,350.1 360,350.1 359.3,350.1 358.7,350.1 358.1,350.1 357.5,350.1 356.9,350.1 356.3,350.1 355.7,350.1 355.1,350.1 354.5,350.1 353.9,350.1 353.3,350.1 352.6,350.1 352,350.1 351.4,350.1 350.8,350.1 350.2,350.1 349.6,350.1 349,350.1 348.4,350 347.8,350 347.2,350 346.5,350 345.9,350 345.3,350 344.7,350 344.1,350 343.5,350 342.9,350 342.3,350 341.7,350 341.1,350 340.5,350 339.8,350 339.2,350 338.6,350 338,350 337.4,350 336.8,350 336.2,350 335.6,350 335,350 334.4,350 333.7,350 333.1,350 332.5,350 331.9,349.9 331.3,349.9 330.7,349.9 330.1,349.9 329.5,349.9 328.9,349.9 328.3,349.9 327.7,349.9 327,349.9 326.4,349.9 325.8,349.9 325.2,349.9 324.6,349.9 324,349.9 323.4,349.9 322.8,349.9 322.2,349.9 321.6,349.9 320.9,349.9 320.3,349.9 319.7,349.9 319.1,349.9 318.5,349.9 317.9,349.9 317.3,349.9 316.7,349.9 316.1,349.8 315.5,349.8 314.9,349.8 314.2,349.8 313.6,349.8 313,349.8 312.4,349.8 311.8,349.8 311.2,349.8 310.6,349.8 310,349.8 309.4,349.8 308.8,349.8 308.1,349.8 307.5,349.8 306.9,349.8 306.3,349.8 305.7,349.8 305.1,349.8 304.5,349.8 303.9,349.8 303.3,349.8 302.7,349.8 302.1,349.8 301.4,349.8 300.8,349.8 300.2,349.8 299.6,349.7 299,349.7 298.4,349.7 297.8,349.7 297.2,349.7 296.6,349.7 296,349.7 295.3,349.7 294.7,349.7 294.1,349.7 293.5,349.7 292.9,349.7 292.3,349.7" fill="url(#gdc)" stroke="none"/>
<polyline points="292.3,349.6 292.9,349.6 293.5,349.6 294.1,349.6 294.7,349.6 295.3,349.6 296,349.6 296.6,349.6 297.2,349.6 297.8,349.6 298.4,349.6 299,349.6 299.6,349.6 300.2,349.6 300.8,349.6 301.4,349.6 302.1,349.6 302.7,349.6 303.3,349.6 303.9,349.6 304.5,349.6 305.1,349.6 305.7,349.6 306.3,349.6 306.9,349.6 307.5,349.7 308.1,349.7 308.8,349.7 309.4,349.7 310,349.7 310.6,349.7 311.2,349.7 311.8,349.7 312.4,349.7 313,349.7 313.6,349.7 314.2,349.7 314.9,349.7 315.5,349.7 316.1,349.7 316.7,349.7 317.3,349.7 317.9,349.7 318.5,349.7 319.1,349.7 319.7,349.7 320.3,349.7 320.9,349.7 321.6,349.7 322.2,349.7 322.8,349.7 323.4,349.7 324,349.7 324.6,349.7 325.2,349.7 325.8,349.7 326.4,349.7 327,349.7 327.7,349.7 328.3,349.7 328.9,349.7 329.5,349.7 330.1,349.7 330.7,349.7 331.3,349.7 331.9,349.7 332.5,349.7 333.1,349.7 333.7,349.7 334.4,349.7 335,349.7 335.6,349.7 336.2,349.7 336.8,349.7 337.4,349.7 338,349.7 338.6,349.7 339.2,349.7 339.8,349.7 340.5,349.7 341.1,349.7 341.7,349.7 342.3,349.7 342.9,349.7 343.5,349.7 344.1,349.7 344.7,349.7 345.3,349.7 345.9,349.7 346.5,349.7 347.2,349.7 347.8,349.7 348.4,349.7 349,349.7 349.6,349.7 350.2,349.7 350.8,349.7 351.4,349.7 352,349.7 352.6,349.7 353.3,349.7 353.9,349.6 354.5,349.6 355.1,349.6 355.7,349.6 356.3,349.6 356.9,349.6 357.5,349.6 358.1,349.6 358.7,349.6 359.3,349.6 360,349.6 360.6,349.6 361.2,349.6 361.8,349.6 362.4,349.6 363,349.5 363.6,349.5 364.2,349.5 364.8,349.5 365.4,349.5 366.1,349.5 366.7,349.5 367.3,349.5 367.9,349.4 368.5,349.4 369.1,349.4 369.7,349.4 370.3,349.4 370.9,349.4 371.5,349.4 372.1,349.3 372.8,349.3 373.4,349.3 374,349.3 374.6,349.2 375.2,349.2 375.8,349.2 376.4,349.2 377,349.1 377.6,349.1 378.2,349.1 378.9,349.1 379.5,349 380.1,349 380.7,348.9 381.3,348.9 381.9,348.9 382.5,348.8 383.1,348.8 383.7,348.7 384.3,348.7 384.9,348.6 385.6,348.5 386.2,348.5 386.8,348.4 387.4,348.3 388,348.3 388.6,348.2 389.2,348.1 389.8,348 390.4,347.9 391,347.8 391.7,347.7 392.3,347.6 392.9,347.4 393.5,347.3 394.1,347.1 394.7,347 395.3,346.8 395.9,346.6 396.5,346.4 397.1,346.2 397.7,345.9 398.4,345.6 399,345.3 399.6,345 400.2,344.6 400.8,344.2 401.4,343.7 402,343.1 402.6,342.5 403.2,341.7 403.8,340.8 404.5,339.7 405.1,338.5 405.7,336.9 406.3,335.1 406.9,332.9 407.5,330.3 408.1,327.2 408.7,323.6 409.3,319.4 409.9,314.6 410.5,309.2 411.2,303.2 411.8,296.7 412.4,289.7 413,282.5 413.6,275.1 414.2,268 414.8,261.6 415.4,256.4 416,252.7 416.6,251 417.3,251.6 417.9,254.1 418.5,258.5 419.1,264.2 419.7,270.8 420.3,277.9 420.9,285.2 421.5,292.2 422.1,298.9 422.7,305.2 423.3,310.9 424,316 424.6,320.6 425.2,324.6 425.8,328 426.4,330.9 427,333.4 427.6,335.5 428.2,337.3 428.8,338.8 429.4,340 430.1,341.1 430.7,341.9 431.3,342.7 431.9,343.3 432.5,343.9 433.1,344.4 433.7,344.8 434.3,345.2 434.9,345.5 435.5,345.8 436.1,346.1 436.8,346.4 437.4,346.6 438,346.8 438.6,347 439.2,347.2 439.8,347.4 440.4,347.5 441,347.7 441.6,347.8 442.2,348 442.9,348.1 443.5,348.2 444.1,348.3 444.7,348.4 445.3,348.5 445.9,348.6 446.5,348.7 447.1,348.8 447.7,348.8 448.3,348.9 448.9,349 449.6,349 450.2,349.1 450.8,349.2 451.4,349.2 452,349.3 452.6,349.3 453.2,349.4 453.8,349.4 454.4,349.5 455,349.5 455.7,349.5 456.3,349.6 456.9,349.6 457.5,349.6 458.1,349.7 458.7,349.7 459.3,349.7 459.9,349.8 460.5,349.8 461.1,349.8 461.7,349.9 462.4,349.9 463,349.9 463.6,349.9 464.2,350 464.8,350 465.4,350 466,350 466.6,350.1 467.2,350.1 467.8,350.1 468.5,350.1 469.1,350.1 469.7,350.2 470.3,350.2 470.9,350.2 471.5,350.2 472.1,350.2 472.7,350.2 473.3,350.3 473.9,350.3 474.5,350.3 475.2,350.3 475.8,350.3 476.4,350.3 477,350.3 477.6,350.4 478.2,350.4 478.8,350.4 479.4,350.4 480,350.4 480.6,350.4 481.3,350.4 481.9,350.4 482.5,350.5 483.1,350.5 483.7,350.5 484.3,350.5 484.9,350.5 485.5,350.5 486.1,350.5 486.7,350.5 487.3,350.5 488,350.6 488.6,350.6 489.2,350.6 489.8,350.6 490.4,350.6 491,350.6 491.6,350.6 492.2,350.6 492.8,350.6 493.4,350.6 494.1,350.6 494.7,350.7 495.3,350.7 495.9,350.7 496.5,350.7 497.1,350.7 497.7,350.7 498.3,350.7 498.9,350.7 499.5,350.7 500.1,350.7 500.8,350.7 501.4,350.7 502,350.7 502.6,350.8 503.2,350.8 503.8,350.8 504.4,350.8 505,350.8 505.6,350.8 506.2,350.8 506.9,350.8 507.5,350.8 508.1,350.8 508.7,350.8 509.3,350.8 509.9,350.8 510.5,350.8 511.1,350.9 511.7,350.9 512.3,350.9 512.9,350.9 513.6,350.9 514.2,350.9 514.8,350.9 515.4,350.9 516,350.9 516.6,350.9 517.2,350.9 517.8,350.9 518.4,350.9 519,350.9 519.7,350.9 520.3,350.9 520.9,350.9 521.5,351 522.1,351 522.7,351 523.3,351 523.9,351 524.5,351 525.1,351 525.7,351 526.4,351 527,351 527.6,351 528.2,351 528.8,351 529.4,351 530,351 530.6,351 531.2,351 531.8,351 532.5,351 533.1,351.1 533.7,351.1 534.3,351.1 534.9,351.1 535.5,351.1" fill="none" stroke="#1a66e6" stroke-width="1.3" stroke-linejoin="round" stroke-linecap="round"/>
<polygon points="292.3,349.4 292.9,349.4 293.5,349.4 294.1,349.4 294.7,349.4 295.3,349.4 296,349.4 296.6,349.4 297.2,349.4 297.8,349.4 298.4,349.4 299,349.4 299.6,349.4 300.2,349.4 300.8,349.4 301.4,349.4 302.1,349.4 302.7,349.4 303.3,349.4 303.9,349.4 304.5,349.4 305.1,349.4 305.7,349.4 306.3,349.4 306.9,349.4 307.5,349.4 308.1,349.4 308.8,349.4 309.4,349.4 310,349.4 310.6,349.4 311.2,349.4 311.8,349.4 312.4,349.4 313,349.4 313.6,349.4 314.2,349.4 314.9,349.4 315.5,349.4 316.1,349.4 316.7,349.4 317.3,349.4 317.9,349.4 318.5,349.4 319.1,349.4 319.7,349.4 320.3,349.3 320.9,349.3 321.6,349.3 322.2,349.3 322.8,349.3 323.4,349.3 324,349.3 324.6,349.3 325.2,349.3 325.8,349.3 326.4,349.3 327,349.3 327.7,349.3 328.3,349.3 328.9,349.3 329.5,349.3 330.1,349.3 330.7,349.3 331.3,349.3 331.9,349.2 332.5,349.2 333.1,349.2 333.7,349.2 334.4,349.2 335,349.2 335.6,349.2 336.2,349.2 336.8,349.2 337.4,349.2 338,349.2 338.6,349.1 339.2,349.1 339.8,349.1 340.5,349.1 341.1,349.1 341.7,349.1 342.3,349.1 342.9,349.1 343.5,349 344.1,349 344.7,349 345.3,349 345.9,349 346.5,349 347.2,348.9 347.8,348.9 348.4,348.9 349,348.9 349.6,348.9 350.2,348.8 350.8,348.8 351.4,348.8 352,348.8 352.6,348.8 353.3,348.7 353.9,348.7 354.5,348.7 355.1,348.6 355.7,348.6 356.3,348.6 356.9,348.6 357.5,348.5 358.1,348.5 358.7,348.4 359.3,348.4 360,348.4 360.6,348.3 361.2,348.3 361.8,348.2 362.4,348.2 363,348.1 363.6,348.1 364.2,348 364.8,348 365.4,347.9 366.1,347.9 366.7,347.8 367.3,347.7 367.9,347.7 368.5,347.6 369.1,347.5 369.7,347.5 370.3,347.4 370.9,347.3 371.5,347.2 372.1,347.1 372.8,347 373.4,346.9 374,346.8 374.6,346.7 375.2,346.5 375.8,346.4 376.4,346.3 377,346.1 377.6,346 378.2,345.8 378.9,345.6 379.5,345.4 380.1,345.2 380.7,345 381.3,344.8 381.9,344.5 382.5,344.3 383.1,344 383.7,343.7 384.3,343.4 384.9,343 385.6,342.7 386.2,342.3 386.8,341.9 387.4,341.4 388,340.9 388.6,340.4 389.2,339.8 389.8,339.3 390.4,338.6 391,337.9 391.7,337.2 392.3,336.4 392.9,335.6 393.5,334.7 394.1,333.8 394.7,332.8 395.3,331.8 395.9,330.7 396.5,329.6 397.1,328.4 397.7,327.2 398.4,325.9 399,324.7 399.6,323.4 400.2,322.1 400.8,320.8 401.4,319.6 402,318.5 402.6,317.4 403.2,316.5 403.8,315.7 404.5,315.1 405.1,314.6 405.7,314.4 406.3,314.4 406.9,314.7 407.5,315.1 408.1,315.8 408.7,316.6 409.3,317.6 409.9,318.8 410.5,320 411.2,321.3 411.8,322.6 412.4,324 413,325.3 413.6,326.7 414.2,328 414.8,329.2 415.4,330.5 416,331.6 416.6,332.7 417.3,333.8 417.9,334.8 418.5,335.7 419.1,336.6 419.7,337.4 420.3,338.1 420.9,338.9 421.5,339.5 422.1,340.2 422.7,340.7 423.3,341.3 424,341.8 424.6,342.3 425.2,342.7 425.8,343.1 426.4,343.5 427,343.8 427.6,344.2 428.2,344.5 428.8,344.8 429.4,345 430.1,345.3 430.7,345.5 431.3,345.7 431.9,345.9 432.5,346.1 433.1,346.3 433.7,346.5 434.3,346.6 434.9,346.8 435.5,346.9 436.1,347.1 436.8,347.2 437.4,347.3 438,347.4 438.6,347.6 439.2,347.7 439.8,347.8 440.4,347.9 441,347.9 441.6,348 442.2,348.1 442.9,348.2 443.5,348.3 444.1,348.3 444.7,348.4 445.3,348.5 445.9,348.6 446.5,348.6 447.1,348.7 447.7,348.7 448.3,348.8 448.9,348.8 449.6,348.9 450.2,348.9 450.8,349 451.4,349 452,349.1 452.6,349.1 453.2,349.2 453.8,349.2 454.4,349.2 455,349.3 455.7,349.3 456.3,349.4 456.9,349.4 457.5,349.4 458.1,349.5 458.7,349.5 459.3,349.5 459.9,349.6 460.5,349.6 461.1,349.6 461.7,349.6 462.4,349.7 463,349.7 463.6,349.7 464.2,349.7 464.8,349.8 465.4,349.8 466,349.8 466.6,349.8 467.2,349.9 467.8,349.9 468.5,349.9 469.1,349.9 469.7,349.9 470.3,350 470.9,350 471.5,350 472.1,350 472.7,350 473.3,350.1 473.9,350.1 474.5,350.1 475.2,350.1 475.8,350.1 476.4,350.1 477,350.1 477.6,350.2 478.2,350.2 478.8,350.2 479.4,350.2 480,350.2 480.6,350.2 481.3,350.2 481.9,350.3 482.5,350.3 483.1,350.3 483.7,350.3 484.3,350.3 484.9,350.3 485.5,350.3 486.1,350.4 486.7,350.4 487.3,350.4 488,350.4 488.6,350.4 489.2,350.4 489.8,350.4 490.4,350.4 491,350.4 491.6,350.5 492.2,350.5 492.8,350.5 493.4,350.5 494.1,350.5 494.7,350.5 495.3,350.5 495.9,350.5 496.5,350.5 497.1,350.5 497.7,350.6 498.3,350.6 498.9,350.6 499.5,350.6 500.1,350.6 500.8,350.6 501.4,350.6 502,350.6 502.6,350.6 503.2,350.6 503.8,350.6 504.4,350.6 505,350.7 505.6,350.7 506.2,350.7 506.9,350.7 507.5,350.7 508.1,350.7 508.7,350.7 509.3,350.7 509.9,350.7 510.5,350.7 511.1,350.7 511.7,350.7 512.3,350.7 512.9,350.8 513.6,350.8 514.2,350.8 514.8,350.8 515.4,350.8 516,350.8 516.6,350.8 517.2,350.8 517.8,350.8 518.4,350.8 519,350.8 519.7,350.8 520.3,350.8 520.9,350.8 521.5,350.9 522.1,350.9 522.7,350.9 523.3,350.9 523.9,350.9 524.5,350.9 525.1,350.9 525.7,350.9 526.4,350.9 527,350.9 527.6,350.9 528.2,350.9 528.8,350.9 529.4,350.9 530,350.9 530.6,350.9 531.2,351 531.8,351 532.5,351 533.1,351 533.7,351 534.3,351 534.9,351 535.5,351 535.5,351.2 534.9,351.2 534.3,351.2 533.7,351.2 533.1,351.2 532.5,351.2 531.8,351.2 531.2,351.2 530.6,351.2 530,351.2 529.4,351.2 528.8,351.2 528.2,351.2 527.6,351.2 527,351.2 526.4,351.1 525.7,351.1 525.1,351.1 524.5,351.1 523.9,351.1 523.3,351.1 522.7,351.1 522.1,351.1 521.5,351.1 520.9,351.1 520.3,351.1 519.7,351.1 519,351.1 518.4,351.1 517.8,351.1 517.2,351.1 516.6,351.1 516,351.1 515.4,351.1 514.8,351.1 514.2,351.1 513.6,351.1 512.9,351.1 512.3,351.1 511.7,351.1 511.1,351.1 510.5,351 509.9,351 509.3,351 508.7,351 508.1,351 507.5,351 506.9,351 506.2,351 505.6,351 505,351 504.4,351 503.8,351 503.2,351 502.6,351 502,351 501.4,351 500.8,351 500.1,351 499.5,351 498.9,351 498.3,351 497.7,351 497.1,351 496.5,351 495.9,351 495.3,351 494.7,351 494.1,350.9 493.4,350.9 492.8,350.9 492.2,350.9 491.6,350.9 491,350.9 490.4,350.9 489.8,350.9 489.2,350.9 488.6,350.9 488,350.9 487.3,350.9 486.7,350.9 486.1,350.9 485.5,350.9 484.9,350.9 484.3,350.9 483.7,350.9 483.1,350.9 482.5,350.9 481.9,350.9 481.3,350.9 480.6,350.9 480,350.9 479.4,350.9 478.8,350.9 478.2,350.8 477.6,350.8 477,350.8 476.4,350.8 475.8,350.8 475.2,350.8 474.5,350.8 473.9,350.8 473.3,350.8 472.7,350.8 472.1,350.8 471.5,350.8 470.9,350.8 470.3,350.8 469.7,350.8 469.1,350.8 468.5,350.8 467.8,350.8 467.2,350.8 466.6,350.8 466,350.8 465.4,350.8 464.8,350.8 464.2,350.8 463.6,350.8 463,350.8 462.4,350.8 461.7,350.7 461.1,350.7 460.5,350.7 459.9,350.7 459.3,350.7 458.7,350.7 458.1,350.7 457.5,350.7 456.9,350.7 456.3,350.7 455.7,350.7 455,350.7 454.4,350.7 453.8,350.7 453.2,350.7 452.6,350.7 452,350.7 451.4,350.7 450.8,350.7 450.2,350.7 449.6,350.7 448.9,350.7 448.3,350.7 447.7,350.7 447.1,350.7 446.5,350.7 445.9,350.6 445.3,350.6 444.7,350.6 444.1,350.6 443.5,350.6 442.9,350.6 442.2,350.6 441.6,350.6 441,350.6 440.4,350.6 439.8,350.6 439.2,350.6 438.6,350.6 438,350.6 437.4,350.6 436.8,350.6 436.1,350.6 435.5,350.6 434.9,350.6 434.3,350.6 433.7,350.6 433.1,350.6 432.5,350.6 431.9,350.6 431.3,350.6 430.7,350.6 430.1,350.6 429.4,350.5 428.8,350.5 428.2,350.5 427.6,350.5 427,350.5 426.4,350.5 425.8,350.5 425.2,350.5 424.6,350.5 424,350.5 423.3,350.5 422.7,350.5 422.1,350.5 421.5,350.5 420.9,350.5 420.3,350.5 419.7,350.5 419.1,350.5 418.5,350.5 417.9,350.5 417.3,350.5 416.6,350.5 416,350.5 415.4,350.5 414.8,350.5 414.2,350.5 413.6,350.5 413,350.4 412.4,350.4 411.8,350.4 411.2,350.4 410.5,350.4 409.9,350.4 409.3,350.4 408.7,350.4 408.1,350.4 407.5,350.4 406.9,350.4 406.3,350.4 405.7,350.4 405.1,350.4 404.5,350.4 403.8,350.4 403.2,350.4 402.6,350.4 402,350.4 401.4,350.4 400.8,350.4 400.2,350.4 399.6,350.4 399,350.4 398.4,350.4 397.7,350.4 397.1,350.3 396.5,350.3 395.9,350.3 395.3,350.3 394.7,350.3 394.1,350.3 393.5,350.3 392.9,350.3 392.3,350.3 391.7,350.3 391,350.3 390.4,350.3 389.8,350.3 389.2,350.3 388.6,350.3 388,350.3 387.4,350.3 386.8,350.3 386.2,350.3 385.6,350.3 384.9,350.3 384.3,350.3 383.7,350.3 383.1,350.3 382.5,350.3 381.9,350.3 381.3,350.3 380.7,350.2 380.1,350.2 379.5,350.2 378.9,350.2 378.2,350.2 377.6,350.2 377,350.2 376.4,350.2 375.8,350.2 375.2,350.2 374.6,350.2 374,350.2 373.4,350.2 372.8,350.2 372.1,350.2 371.5,350.2 370.9,350.2 370.3,350.2 369.7,350.2 369.1,350.2 368.5,350.2 367.9,350.2 367.3,350.2 366.7,350.2 366.1,350.2 365.4,350.2 364.8,350.1 364.2,350.1 363.6,350.1 363,350.1 362.4,350.1 361.8,350.1 361.2,350.1 360.6,350.1 360,350.1 359.3,350.1 358.7,350.1 358.1,350.1 357.5,350.1 356.9,350.1 356.3,350.1 355.7,350.1 355.1,350.1 354.5,350.1 353.9,350.1 353.3,350.1 352.6,350.1 352,350.1 351.4,350.1 350.8,350.1 350.2,350.1 349.6,350.1 349,350.1 348.4,350 347.8,350 347.2,350 346.5,350 345.9,350 345.3,350 344.7,350 344.1,350 343.5,350 342.9,350 342.3,350 341.7,350 341.1,350 340.5,350 339.8,350 339.2,350 338.6,350 338,350 337.4,350 336.8,350 336.2,350 335.6,350 335,350 334.4,350 333.7,350 333.1,350 332.5,350 331.9,349.9 331.3,349.9 330.7,349.9 330.1,349.9 329.5,349.9 328.9,349.9 328.3,349.9 327.7,349.9 327,349.9 326.4,349.9 325.8,349.9 325.2,349.9 324.6,349.9 324,349.9 323.4,349.9 322.8,349.9 322.2,349.9 321.6,349.9 320.9,349.9 320.3,349.9 319.7,349.9 319.1,349.9 318.5,349.9 317.9,349.9 317.3,349.9 316.7,349.9 316.1,349.8 315.5,349.8 314.9,349.8 314.2,349.8 313.6,349.8 313,349.8 312.4,349.8 311.8,349.8 311.2,349.8 310.6,349.8 310,349.8 309.4,349.8 308.8,349.8 308.1,349.8 307.5,349.8 306.9,349.8 306.3,349.8 305.7,349.8 305.1,349.8 304.5,349.8 303.9,349.8 303.3,349.8 302.7,349.8 302.1,349.8 301.4,349.8 300.8,349.8 300.2,349.8 299.6,349.7 299,349.7 298.4,349.7 297.8,349.7 297.2,349.7 296.6,349.7 296,349.7 295.3,349.7 294.7,349.7 294.1,349.7 293.5,349.7 292.9,349.7 292.3,349.7" fill="url(#gds)" stroke="none"/>
<polyline points="292.3,349.4 292.9,349.4 293.5,349.4 294.1,349.4 294.7,349.4 295.3,349.4 296,349.4 296.6,349.4 297.2,349.4 297.8,349.4 298.4,349.4 299,349.4 299.6,349.4 300.2,349.4 300.8,349.4 301.4,349.4 302.1,349.4 302.7,349.4 303.3,349.4 303.9,349.4 304.5,349.4 305.1,349.4 305.7,349.4 306.3,349.4 306.9,349.4 307.5,349.4 308.1,349.4 308.8,349.4 309.4,349.4 310,349.4 310.6,349.4 311.2,349.4 311.8,349.4 312.4,349.4 313,349.4 313.6,349.4 314.2,349.4 314.9,349.4 315.5,349.4 316.1,349.4 316.7,349.4 317.3,349.4 317.9,349.4 318.5,349.4 319.1,349.4 319.7,349.4 320.3,349.3 320.9,349.3 321.6,349.3 322.2,349.3 322.8,349.3 323.4,349.3 324,349.3 324.6,349.3 325.2,349.3 325.8,349.3 326.4,349.3 327,349.3 327.7,349.3 328.3,349.3 328.9,349.3 329.5,349.3 330.1,349.3 330.7,349.3 331.3,349.3 331.9,349.2 332.5,349.2 333.1,349.2 333.7,349.2 334.4,349.2 335,349.2 335.6,349.2 336.2,349.2 336.8,349.2 337.4,349.2 338,349.2 338.6,349.1 339.2,349.1 339.8,349.1 340.5,349.1 341.1,349.1 341.7,349.1 342.3,349.1 342.9,349.1 343.5,349 344.1,349 344.7,349 345.3,349 345.9,349 346.5,349 347.2,348.9 347.8,348.9 348.4,348.9 349,348.9 349.6,348.9 350.2,348.8 350.8,348.8 351.4,348.8 352,348.8 352.6,348.8 353.3,348.7 353.9,348.7 354.5,348.7 355.1,348.6 355.7,348.6 356.3,348.6 356.9,348.6 357.5,348.5 358.1,348.5 358.7,348.4 359.3,348.4 360,348.4 360.6,348.3 361.2,348.3 361.8,348.2 362.4,348.2 363,348.1 363.6,348.1 364.2,348 364.8,348 365.4,347.9 366.1,347.9 366.7,347.8 367.3,347.7 367.9,347.7 368.5,347.6 369.1,347.5 369.7,347.5 370.3,347.4 370.9,347.3 371.5,347.2 372.1,347.1 372.8,347 373.4,346.9 374,346.8 374.6,346.7 375.2,346.5 375.8,346.4 376.4,346.3 377,346.1 377.6,346 378.2,345.8 378.9,345.6 379.5,345.4 380.1,345.2 380.7,345 381.3,344.8 381.9,344.5 382.5,344.3 383.1,344 383.7,343.7 384.3,343.4 384.9,343 385.6,342.7 386.2,342.3 386.8,341.9 387.4,341.4 388,340.9 388.6,340.4 389.2,339.8 389.8,339.3 390.4,338.6 391,337.9 391.7,337.2 392.3,336.4 392.9,335.6 393.5,334.7 394.1,333.8 394.7,332.8 395.3,331.8 395.9,330.7 396.5,329.6 397.1,328.4 397.7,327.2 398.4,325.9 399,324.7 399.6,323.4 400.2,322.1 400.8,320.8 401.4,319.6 402,318.5 402.6,317.4 403.2,316.5 403.8,315.7 404.5,315.1 405.1,314.6 405.7,314.4 406.3,314.4 406.9,314.7 407.5,315.1 408.1,315.8 408.7,316.6 409.3,317.6 409.9,318.8 410.5,320 411.2,321.3 411.8,322.6 412.4,324 413,325.3 413.6,326.7 414.2,328 414.8,329.2 415.4,330.5 416,331.6 416.6,332.7 417.3,333.8 417.9,334.8 418.5,335.7 419.1,336.6 419.7,337.4 420.3,338.1 420.9,338.9 421.5,339.5 422.1,340.2 422.7,340.7 423.3,341.3 424,341.8 424.6,342.3 425.2,342.7 425.8,343.1 426.4,343.5 427,343.8 427.6,344.2 428.2,344.5 428.8,344.8 429.4,345 430.1,345.3 430.7,345.5 431.3,345.7 431.9,345.9 432.5,346.1 433.1,346.3 433.7,346.5 434.3,346.6 434.9,346.8 435.5,346.9 436.1,347.1 436.8,347.2 437.4,347.3 438,347.4 438.6,347.6 439.2,347.7 439.8,347.8 440.4,347.9 441,347.9 441.6,348 442.2,348.1 442.9,348.2 443.5,348.3 444.1,348.3 444.7,348.4 445.3,348.5 445.9,348.6 446.5,348.6 447.1,348.7 447.7,348.7 448.3,348.8 448.9,348.8 449.6,348.9 450.2,348.9 450.8,349 451.4,349 452,349.1 452.6,349.1 453.2,349.2 453.8,349.2 454.4,349.2 455,349.3 455.7,349.3 456.3,349.4 456.9,349.4 457.5,349.4 458.1,349.5 458.7,349.5 459.3,349.5 459.9,349.6 460.5,349.6 461.1,349.6 461.7,349.6 462.4,349.7 463,349.7 463.6,349.7 464.2,349.7 464.8,349.8 465.4,349.8 466,349.8 466.6,349.8 467.2,349.9 467.8,349.9 468.5,349.9 469.1,349.9 469.7,349.9 470.3,350 470.9,350 471.5,350 472.1,350 472.7,350 473.3,350.1 473.9,350.1 474.5,350.1 475.2,350.1 475.8,350.1 476.4,350.1 477,350.1 477.6,350.2 478.2,350.2 478.8,350.2 479.4,350.2 480,350.2 480.6,350.2 481.3,350.2 481.9,350.3 482.5,350.3 483.1,350.3 483.7,350.3 484.3,350.3 484.9,350.3 485.5,350.3 486.1,350.4 486.7,350.4 487.3,350.4 488,350.4 488.6,350.4 489.2,350.4 489.8,350.4 490.4,350.4 491,350.4 491.6,350.5 492.2,350.5 492.8,350.5 493.4,350.5 494.1,350.5 494.7,350.5 495.3,350.5 495.9,350.5 496.5,350.5 497.1,350.5 497.7,350.6 498.3,350.6 498.9,350.6 499.5,350.6 500.1,350.6 500.8,350.6 501.4,350.6 502,350.6 502.6,350.6 503.2,350.6 503.8,350.6 504.4,350.6 505,350.7 505.6,350.7 506.2,350.7 506.9,350.7 507.5,350.7 508.1,350.7 508.7,350.7 509.3,350.7 509.9,350.7 510.5,350.7 511.1,350.7 511.7,350.7 512.3,350.7 512.9,350.8 513.6,350.8 514.2,350.8 514.8,350.8 515.4,350.8 516,350.8 516.6,350.8 517.2,350.8 517.8,350.8 518.4,350.8 519,350.8 519.7,350.8 520.3,350.8 520.9,350.8 521.5,350.9 522.1,350.9 522.7,350.9 523.3,350.9 523.9,350.9 524.5,350.9 525.1,350.9 525.7,350.9 526.4,350.9 527,350.9 527.6,350.9 528.2,350.9 528.8,350.9 529.4,350.9 530,350.9 530.6,350.9 531.2,351 531.8,351 532.5,351 533.1,351 533.7,351 534.3,351 534.9,351 535.5,351" fill="none" stroke="#1fc440" stroke-width="1.2" stroke-linejoin="round" stroke-linecap="round"/>
<polygon points="292.3,349.6 292.9,349.6 293.5,349.6 294.1,349.6 294.7,349.6 295.3,349.7 296,349.7 296.6,349.7 297.2,349.7 297.8,349.7 298.4,349.7 299,349.7 299.6,349.7 300.2,349.7 300.8,349.7 301.4,349.7 302.1,349.7 302.7,349.7 303.3,349.7 303.9,349.7 304.5,349.7 305.1,349.7 305.7,349.7 306.3,349.7 306.9,349.7 307.5,349.7 308.1,349.7 308.8,349.7 309.4,349.7 310,349.7 310.6,349.7 311.2,349.7 311.8,349.7 312.4,349.7 313,349.7 313.6,349.7 314.2,349.7 314.9,349.7 315.5,349.7 316.1,349.7 316.7,349.7 317.3,349.7 317.9,349.7 318.5,349.7 319.1,349.7 319.7,349.7 320.3,349.7 320.9,349.7 321.6,349.7 322.2,349.7 322.8,349.7 323.4,349.7 324,349.7 324.6,349.7 325.2,349.7 325.8,349.7 326.4,349.7 327,349.7 327.7,349.7 328.3,349.7 328.9,349.7 329.5,349.7 330.1,349.7 330.7,349.7 331.3,349.7 331.9,349.6 332.5,349.6 333.1,349.6 333.7,349.6 334.4,349.6 335,349.6 335.6,349.6 336.2,349.6 336.8,349.6 337.4,349.6 338,349.5 338.6,349.5 339.2,349.5 339.8,349.5 340.5,349.5 341.1,349.5 341.7,349.4 342.3,349.4 342.9,349.4 343.5,349.3 344.1,349.3 344.7,349.3 345.3,349.2 345.9,349.2 346.5,349.2 347.2,349.1 347.8,349 348.4,349 349,348.9 349.6,348.8 350.2,348.7 350.8,348.7 351.4,348.5 352,348.4 352.6,348.3 353.3,348.1 353.9,347.9 354.5,347.7 355.1,347.5 355.7,347.2 356.3,346.8 356.9,346.4 357.5,346 358.1,345.4 358.7,344.8 359.3,344 360,343.2 360.6,342.2 361.2,341.1 361.8,339.9 362.4,338.7 363,337.4 363.6,336.2 364.2,335.1 364.8,334.3 365.4,333.9 366.1,333.9 366.7,334.4 367.3,335.3 367.9,336.4 368.5,337.6 369.1,338.9 369.7,340.2 370.3,341.4 370.9,342.4 371.5,343.4 372.1,344.2 372.8,345 373.4,345.6 374,346.1 374.6,346.6 375.2,347 375.8,347.3 376.4,347.6 377,347.9 377.6,348.1 378.2,348.3 378.9,348.5 379.5,348.6 380.1,348.7 380.7,348.9 381.3,349 381.9,349 382.5,349.1 383.1,349.2 383.7,349.3 384.3,349.3 384.9,349.4 385.6,349.5 386.2,349.5 386.8,349.5 387.4,349.6 388,349.6 388.6,349.7 389.2,349.7 389.8,349.7 390.4,349.8 391,349.8 391.7,349.8 392.3,349.8 392.9,349.9 393.5,349.9 394.1,349.9 394.7,349.9 395.3,350 395.9,350 396.5,350 397.1,350 397.7,350 398.4,350 399,350.1 399.6,350.1 400.2,350.1 400.8,350.1 401.4,350.1 402,350.1 402.6,350.1 403.2,350.1 403.8,350.2 404.5,350.2 405.1,350.2 405.7,350.2 406.3,350.2 406.9,350.2 407.5,350.2 408.1,350.2 408.7,350.2 409.3,350.2 409.9,350.3 410.5,350.3 411.2,350.3 411.8,350.3 412.4,350.3 413,350.3 413.6,350.3 414.2,350.3 414.8,350.3 415.4,350.3 416,350.3 416.6,350.3 417.3,350.3 417.9,350.4 418.5,350.4 419.1,350.4 419.7,350.4 420.3,350.4 420.9,350.4 421.5,350.4 422.1,350.4 422.7,350.4 423.3,350.4 424,350.4 424.6,350.4 425.2,350.4 425.8,350.4 426.4,350.4 427,350.4 427.6,350.4 428.2,350.5 428.8,350.5 429.4,350.5 430.1,350.5 430.7,350.5 431.3,350.5 431.9,350.5 432.5,350.5 433.1,350.5 433.7,350.5 434.3,350.5 434.9,350.5 435.5,350.5 436.1,350.5 436.8,350.5 437.4,350.5 438,350.5 438.6,350.5 439.2,350.5 439.8,350.5 440.4,350.6 441,350.6 441.6,350.6 442.2,350.6 442.9,350.6 443.5,350.6 444.1,350.6 444.7,350.6 445.3,350.6 445.9,350.6 446.5,350.6 447.1,350.6 447.7,350.6 448.3,350.6 448.9,350.6 449.6,350.6 450.2,350.6 450.8,350.6 451.4,350.6 452,350.6 452.6,350.6 453.2,350.7 453.8,350.7 454.4,350.7 455,350.7 455.7,350.7 456.3,350.7 456.9,350.7 457.5,350.7 458.1,350.7 458.7,350.7 459.3,350.7 459.9,350.7 460.5,350.7 461.1,350.7 461.7,350.7 462.4,350.7 463,350.7 463.6,350.7 464.2,350.7 464.8,350.7 465.4,350.7 466,350.7 466.6,350.7 467.2,350.7 467.8,350.8 468.5,350.8 469.1,350.8 469.7,350.8 470.3,350.8 470.9,350.8 471.5,350.8 472.1,350.8 472.7,350.8 473.3,350.8 473.9,350.8 474.5,350.8 475.2,350.8 475.8,350.8 476.4,350.8 477,350.8 477.6,350.8 478.2,350.8 478.8,350.8 479.4,350.8 480,350.8 480.6,350.8 481.3,350.8 481.9,350.8 482.5,350.9 483.1,350.9 483.7,350.9 484.3,350.9 484.9,350.9 485.5,350.9 486.1,350.9 486.7,350.9 487.3,350.9 488,350.9 488.6,350.9 489.2,350.9 489.8,350.9 490.4,350.9 491,350.9 491.6,350.9 492.2,350.9 492.8,350.9 493.4,350.9 494.1,350.9 494.7,350.9 495.3,350.9 495.9,350.9 496.5,350.9 497.1,350.9 497.7,350.9 498.3,351 498.9,351 499.5,351 500.1,351 500.8,351 501.4,351 502,351 502.6,351 503.2,351 503.8,351 504.4,351 505,351 505.6,351 506.2,351 506.9,351 507.5,351 508.1,351 508.7,351 509.3,351 509.9,351 510.5,351 511.1,351 511.7,351 512.3,351 512.9,351 513.6,351.1 514.2,351.1 514.8,351.1 515.4,351.1 516,351.1 516.6,351.1 517.2,351.1 517.8,351.1 518.4,351.1 519,351.1 519.7,351.1 520.3,351.1 520.9,351.1 521.5,351.1 522.1,351.1 522.7,351.1 523.3,351.1 523.9,351.1 524.5,351.1 525.1,351.1 525.7,351.1 526.4,351.1 527,351.1 527.6,351.1 528.2,351.1 528.8,351.1 529.4,351.2 530,351.2 530.6,351.2 531.2,351.2 531.8,351.2 532.5,351.2 533.1,351.2 533.7,351.2 534.3,351.2 534.9,351.2 535.5,351.2 535.5,351.2 534.9,351.2 534.3,351.2 533.7,351.2 533.1,351.2 532.5,351.2 531.8,351.2 531.2,351.2 530.6,351.2 530,351.2 529.4,351.2 528.8,351.2 528.2,351.2 527.6,351.2 527,351.2 526.4,351.1 525.7,351.1 525.1,351.1 524.5,351.1 523.9,351.1 523.3,351.1 522.7,351.1 522.1,351.1 521.5,351.1 520.9,351.1 520.3,351.1 519.7,351.1 519,351.1 518.4,351.1 517.8,351.1 517.2,351.1 516.6,351.1 516,351.1 515.4,351.1 514.8,351.1 514.2,351.1 513.6,351.1 512.9,351.1 512.3,351.1 511.7,351.1 511.1,351.1 510.5,351 509.9,351 509.3,351 508.7,351 508.1,351 507.5,351 506.9,351 506.2,351 505.6,351 505,351 504.4,351 503.8,351 503.2,351 502.6,351 502,351 501.4,351 500.8,351 500.1,351 499.5,351 498.9,351 498.3,351 497.7,351 497.1,351 496.5,351 495.9,351 495.3,351 494.7,351 494.1,350.9 493.4,350.9 492.8,350.9 492.2,350.9 491.6,350.9 491,350.9 490.4,350.9 489.8,350.9 489.2,350.9 488.6,350.9 488,350.9 487.3,350.9 486.7,350.9 486.1,350.9 485.5,350.9 484.9,350.9 484.3,350.9 483.7,350.9 483.1,350.9 482.5,350.9 481.9,350.9 481.3,350.9 480.6,350.9 480,350.9 479.4,350.9 478.8,350.9 478.2,350.8 477.6,350.8 477,350.8 476.4,350.8 475.8,350.8 475.2,350.8 474.5,350.8 473.9,350.8 473.3,350.8 472.7,350.8 472.1,350.8 471.5,350.8 470.9,350.8 470.3,350.8 469.7,350.8 469.1,350.8 468.5,350.8 467.8,350.8 467.2,350.8 466.6,350.8 466,350.8 465.4,350.8 464.8,350.8 464.2,350.8 463.6,350.8 463,350.8 462.4,350.8 461.7,350.7 461.1,350.7 460.5,350.7 459.9,350.7 459.3,350.7 458.7,350.7 458.1,350.7 457.5,350.7 456.9,350.7 456.3,350.7 455.7,350.7 455,350.7 454.4,350.7 453.8,350.7 453.2,350.7 452.6,350.7 452,350.7 451.4,350.7 450.8,350.7 450.2,350.7 449.6,350.7 448.9,350.7 448.3,350.7 447.7,350.7 447.1,350.7 446.5,350.7 445.9,350.6 445.3,350.6 444.7,350.6 444.1,350.6 443.5,350.6 442.9,350.6 442.2,350.6 441.6,350.6 441,350.6 440.4,350.6 439.8,350.6 439.2,350.6 438.6,350.6 438,350.6 437.4,350.6 436.8,350.6 436.1,350.6 435.5,350.6 434.9,350.6 434.3,350.6 433.7,350.6 433.1,350.6 432.5,350.6 431.9,350.6 431.3,350.6 430.7,350.6 430.1,350.6 429.4,350.5 428.8,350.5 428.2,350.5 427.6,350.5 427,350.5 426.4,350.5 425.8,350.5 425.2,350.5 424.6,350.5 424,350.5 423.3,350.5 422.7,350.5 422.1,350.5 421.5,350.5 420.9,350.5 420.3,350.5 419.7,350.5 419.1,350.5 418.5,350.5 417.9,350.5 417.3,350.5 416.6,350.5 416,350.5 415.4,350.5 414.8,350.5 414.2,350.5 413.6,350.5 413,350.4 412.4,350.4 411.8,350.4 411.2,350.4 410.5,350.4 409.9,350.4 409.3,350.4 408.7,350.4 408.1,350.4 407.5,350.4 406.9,350.4 406.3,350.4 405.7,350.4 405.1,350.4 404.5,350.4 403.8,350.4 403.2,350.4 402.6,350.4 402,350.4 401.4,350.4 400.8,350.4 400.2,350.4 399.6,350.4 399,350.4 398.4,350.4 397.7,350.4 397.1,350.3 396.5,350.3 395.9,350.3 395.3,350.3 394.7,350.3 394.1,350.3 393.5,350.3 392.9,350.3 392.3,350.3 391.7,350.3 391,350.3 390.4,350.3 389.8,350.3 389.2,350.3 388.6,350.3 388,350.3 387.4,350.3 386.8,350.3 386.2,350.3 385.6,350.3 384.9,350.3 384.3,350.3 383.7,350.3 383.1,350.3 382.5,350.3 381.9,350.3 381.3,350.3 380.7,350.2 380.1,350.2 379.5,350.2 378.9,350.2 378.2,350.2 377.6,350.2 377,350.2 376.4,350.2 375.8,350.2 375.2,350.2 374.6,350.2 374,350.2 373.4,350.2 372.8,350.2 372.1,350.2 371.5,350.2 370.9,350.2 370.3,350.2 369.7,350.2 369.1,350.2 368.5,350.2 367.9,350.2 367.3,350.2 366.7,350.2 366.1,350.2 365.4,350.2 364.8,350.1 364.2,350.1 363.6,350.1 363,350.1 362.4,350.1 361.8,350.1 361.2,350.1 360.6,350.1 360,350.1 359.3,350.1 358.7,350.1 358.1,350.1 357.5,350.1 356.9,350.1 356.3,350.1 355.7,350.1 355.1,350.1 354.5,350.1 353.9,350.1 353.3,350.1 352.6,350.1 352,350.1 351.4,350.1 350.8,350.1 350.2,350.1 349.6,350.1 349,350.1 348.4,350 347.8,350 347.2,350 346.5,350 345.9,350 345.3,350 344.7,350 344.1,350 343.5,350 342.9,350 342.3,350 341.7,350 341.1,350 340.5,350 339.8,350 339.2,350 338.6,350 338,350 337.4,350 336.8,350 336.2,350 335.6,350 335,350 334.4,350 333.7,350 333.1,350 332.5,350 331.9,349.9 331.3,349.9 330.7,349.9 330.1,349.9 329.5,349.9 328.9,349.9 328.3,349.9 327.7,349.9 327,349.9 326.4,349.9 325.8,349.9 325.2,349.9 324.6,349.9 324,349.9 323.4,349.9 322.8,349.9 322.2,349.9 321.6,349.9 320.9,349.9 320.3,349.9 319.7,349.9 319.1,349.9 318.5,349.9 317.9,349.9 317.3,349.9 316.7,349.9 316.1,349.8 315.5,349.8 314.9,349.8 314.2,349.8 313.6,349.8 313,349.8 312.4,349.8 311.8,349.8 311.2,349.8 310.6,349.8 310,349.8 309.4,349.8 308.8,349.8 308.1,349.8 307.5,349.8 306.9,349.8 306.3,349.8 305.7,349.8 305.1,349.8 304.5,349.8 303.9,349.8 303.3,349.8 302.7,349.8 302.1,349.8 301.4,349.8 300.8,349.8 300.2,349.8 299.6,349.7 299,349.7 298.4,349.7 297.8,349.7 297.2,349.7 296.6,349.7 296,349.7 295.3,349.7 294.7,349.7 294.1,349.7 293.5,349.7 292.9,349.7 292.3,349.7" fill="url(#gdo)" stroke="none"/>
<polyline points="292.3,349.6 292.9,349.6 293.5,349.6 294.1,349.6 294.7,349.6 295.3,349.7 296,349.7 296.6,349.7 297.2,349.7 297.8,349.7 298.4,349.7 299,349.7 299.6,349.7 300.2,349.7 300.8,349.7 301.4,349.7 302.1,349.7 302.7,349.7 303.3,349.7 303.9,349.7 304.5,349.7 305.1,349.7 305.7,349.7 306.3,349.7 306.9,349.7 307.5,349.7 308.1,349.7 308.8,349.7 309.4,349.7 310,349.7 310.6,349.7 311.2,349.7 311.8,349.7 312.4,349.7 313,349.7 313.6,349.7 314.2,349.7 314.9,349.7 315.5,349.7 316.1,349.7 316.7,349.7 317.3,349.7 317.9,349.7 318.5,349.7 319.1,349.7 319.7,349.7 320.3,349.7 320.9,349.7 321.6,349.7 322.2,349.7 322.8,349.7 323.4,349.7 324,349.7 324.6,349.7 325.2,349.7 325.8,349.7 326.4,349.7 327,349.7 327.7,349.7 328.3,349.7 328.9,349.7 329.5,349.7 330.1,349.7 330.7,349.7 331.3,349.7 331.9,349.6 332.5,349.6 333.1,349.6 333.7,349.6 334.4,349.6 335,349.6 335.6,349.6 336.2,349.6 336.8,349.6 337.4,349.6 338,349.5 338.6,349.5 339.2,349.5 339.8,349.5 340.5,349.5 341.1,349.5 341.7,349.4 342.3,349.4 342.9,349.4 343.5,349.3 344.1,349.3 344.7,349.3 345.3,349.2 345.9,349.2 346.5,349.2 347.2,349.1 347.8,349 348.4,349 349,348.9 349.6,348.8 350.2,348.7 350.8,348.7 351.4,348.5 352,348.4 352.6,348.3 353.3,348.1 353.9,347.9 354.5,347.7 355.1,347.5 355.7,347.2 356.3,346.8 356.9,346.4 357.5,346 358.1,345.4 358.7,344.8 359.3,344 360,343.2 360.6,342.2 361.2,341.1 361.8,339.9 362.4,338.7 363,337.4 363.6,336.2 364.2,335.1 364.8,334.3 365.4,333.9 366.1,333.9 366.7,334.4 367.3,335.3 367.9,336.4 368.5,337.6 369.1,338.9 369.7,340.2 370.3,341.4 370.9,342.4 371.5,343.4 372.1,344.2 372.8,345 373.4,345.6 374,346.1 374.6,346.6 375.2,347 375.8,347.3 376.4,347.6 377,347.9 377.6,348.1 378.2,348.3 378.9,348.5 379.5,348.6 380.1,348.7 380.7,348.9 381.3,349 381.9,349 382.5,349.1 383.1,349.2 383.7,349.3 384.3,349.3 384.9,349.4 385.6,349.5 386.2,349.5 386.8,349.5 387.4,349.6 388,349.6 388.6,349.7 389.2,349.7 389.8,349.7 390.4,349.8 391,349.8 391.7,349.8 392.3,349.8 392.9,349.9 393.5,349.9 394.1,349.9 394.7,349.9 395.3,350 395.9,350 396.5,350 397.1,350 397.7,350 398.4,350 399,350.1 399.6,350.1 400.2,350.1 400.8,350.1 401.4,350.1 402,350.1 402.6,350.1 403.2,350.1 403.8,350.2 404.5,350.2 405.1,350.2 405.7,350.2 406.3,350.2 406.9,350.2 407.5,350.2 408.1,350.2 408.7,350.2 409.3,350.2 409.9,350.3 410.5,350.3 411.2,350.3 411.8,350.3 412.4,350.3 413,350.3 413.6,350.3 414.2,350.3 414.8,350.3 415.4,350.3 416,350.3 416.6,350.3 417.3,350.3 417.9,350.4 418.5,350.4 419.1,350.4 419.7,350.4 420.3,350.4 420.9,350.4 421.5,350.4 422.1,350.4 422.7,350.4 423.3,350.4 424,350.4 424.6,350.4 425.2,350.4 425.8,350.4 426.4,350.4 427,350.4 427.6,350.4 428.2,350.5 428.8,350.5 429.4,350.5 430.1,350.5 430.7,350.5 431.3,350.5 431.9,350.5 432.5,350.5 433.1,350.5 433.7,350.5 434.3,350.5 434.9,350.5 435.5,350.5 436.1,350.5 436.8,350.5 437.4,350.5 438,350.5 438.6,350.5 439.2,350.5 439.8,350.5 440.4,350.6 441,350.6 441.6,350.6 442.2,350.6 442.9,350.6 443.5,350.6 444.1,350.6 444.7,350.6 445.3,350.6 445.9,350.6 446.5,350.6 447.1,350.6 447.7,350.6 448.3,350.6 448.9,350.6 449.6,350.6 450.2,350.6 450.8,350.6 451.4,350.6 452,350.6 452.6,350.6 453.2,350.7 453.8,350.7 454.4,350.7 455,350.7 455.7,350.7 456.3,350.7 456.9,350.7 457.5,350.7 458.1,350.7 458.7,350.7 459.3,350.7 459.9,350.7 460.5,350.7 461.1,350.7 461.7,350.7 462.4,350.7 463,350.7 463.6,350.7 464.2,350.7 464.8,350.7 465.4,350.7 466,350.7 466.6,350.7 467.2,350.7 467.8,350.8 468.5,350.8 469.1,350.8 469.7,350.8 470.3,350.8 470.9,350.8 471.5,350.8 472.1,350.8 472.7,350.8 473.3,350.8 473.9,350.8 474.5,350.8 475.2,350.8 475.8,350.8 476.4,350.8 477,350.8 477.6,350.8 478.2,350.8 478.8,350.8 479.4,350.8 480,350.8 480.6,350.8 481.3,350.8 481.9,350.8 482.5,350.9 483.1,350.9 483.7,350.9 484.3,350.9 484.9,350.9 485.5,350.9 486.1,350.9 486.7,350.9 487.3,350.9 488,350.9 488.6,350.9 489.2,350.9 489.8,350.9 490.4,350.9 491,350.9 491.6,350.9 492.2,350.9 492.8,350.9 493.4,350.9 494.1,350.9 494.7,350.9 495.3,350.9 495.9,350.9 496.5,350.9 497.1,350.9 497.7,350.9 498.3,351 498.9,351 499.5,351 500.1,351 500.8,351 501.4,351 502,351 502.6,351 503.2,351 503.8,351 504.4,351 505,351 505.6,351 506.2,351 506.9,351 507.5,351 508.1,351 508.7,351 509.3,351 509.9,351 510.5,351 511.1,351 511.7,351 512.3,351 512.9,351 513.6,351.1 514.2,351.1 514.8,351.1 515.4,351.1 516,351.1 516.6,351.1 517.2,351.1 517.8,351.1 518.4,351.1 519,351.1 519.7,351.1 520.3,351.1 520.9,351.1 521.5,351.1 522.1,351.1 522.7,351.1 523.3,351.1 523.9,351.1 524.5,351.1 525.1,351.1 525.7,351.1 526.4,351.1 527,351.1 527.6,351.1 528.2,351.1 528.8,351.1 529.4,351.2 530,351.2 530.6,351.2 531.2,351.2 531.8,351.2 532.5,351.2 533.1,351.2 533.7,351.2 534.3,351.2 534.9,351.2 535.5,351.2" fill="none" stroke="#b050e0" stroke-width="1.1" stroke-linejoin="round" stroke-linecap="round"/>
<polyline points="292.3,349.7 292.9,349.7 293.5,349.7 294.1,349.7 294.7,349.7 295.3,349.7 296,349.7 296.6,349.7 297.2,349.7 297.8,349.7 298.4,349.7 299,349.7 299.6,349.7 300.2,349.8 300.8,349.8 301.4,349.8 302.1,349.8 302.7,349.8 303.3,349.8 303.9,349.8 304.5,349.8 305.1,349.8 305.7,349.8 306.3,349.8 306.9,349.8 307.5,349.8 308.1,349.8 308.8,349.8 309.4,349.8 310,349.8 310.6,349.8 311.2,349.8 311.8,349.8 312.4,349.8 313,349.8 313.6,349.8 314.2,349.8 314.9,349.8 315.5,349.8 316.1,349.8 316.7,349.9 317.3,349.9 317.9,349.9 318.5,349.9 319.1,349.9 319.7,349.9 320.3,349.9 320.9,349.9 321.6,349.9 322.2,349.9 322.8,349.9 323.4,349.9 324,349.9 324.6,349.9 325.2,349.9 325.8,349.9 326.4,349.9 327,349.9 327.7,349.9 328.3,349.9 328.9,349.9 329.5,349.9 330.1,349.9 330.7,349.9 331.3,349.9 331.9,349.9 332.5,350 333.1,350 333.7,350 334.4,350 335,350 335.6,350 336.2,350 336.8,350 337.4,350 338,350 338.6,350 339.2,350 339.8,350 340.5,350 341.1,350 341.7,350 342.3,350 342.9,350 343.5,350 344.1,350 344.7,350 345.3,350 345.9,350 346.5,350 347.2,350 347.8,350 348.4,350 349,350.1 349.6,350.1 350.2,350.1 350.8,350.1 351.4,350.1 352,350.1 352.6,350.1 353.3,350.1 353.9,350.1 354.5,350.1 355.1,350.1 355.7,350.1 356.3,350.1 356.9,350.1 357.5,350.1 358.1,350.1 358.7,350.1 359.3,350.1 360,350.1 360.6,350.1 361.2,350.1 361.8,350.1 362.4,350.1 363,350.1 363.6,350.1 364.2,350.1 364.8,350.1 365.4,350.2 366.1,350.2 366.7,350.2 367.3,350.2 367.9,350.2 368.5,350.2 369.1,350.2 369.7,350.2 370.3,350.2 370.9,350.2 371.5,350.2 372.1,350.2 372.8,350.2 373.4,350.2 374,350.2 374.6,350.2 375.2,350.2 375.8,350.2 376.4,350.2 377,350.2 377.6,350.2 378.2,350.2 378.9,350.2 379.5,350.2 380.1,350.2 380.7,350.2 381.3,350.3 381.9,350.3 382.5,350.3 383.1,350.3 383.7,350.3 384.3,350.3 384.9,350.3 385.6,350.3 386.2,350.3 386.8,350.3 387.4,350.3 388,350.3 388.6,350.3 389.2,350.3 389.8,350.3 390.4,350.3 391,350.3 391.7,350.3 392.3,350.3 392.9,350.3 393.5,350.3 394.1,350.3 394.7,350.3 395.3,350.3 395.9,350.3 396.5,350.3 397.1,350.3 397.7,350.4 398.4,350.4 399,350.4 399.6,350.4 400.2,350.4 400.8,350.4 401.4,350.4 402,350.4 402.6,350.4 403.2,350.4 403.8,350.4 404.5,350.4 405.1,350.4 405.7,350.4 406.3,350.4 406.9,350.4 407.5,350.4 408.1,350.4 408.7,350.4 409.3,350.4 409.9,350.4 410.5,350.4 411.2,350.4 411.8,350.4 412.4,350.4 413,350.4 413.6,350.5 414.2,350.5 414.8,350.5 415.4,350.5 416,350.5 416.6,350.5 417.3,350.5 417.9,350.5 418.5,350.5 419.1,350.5 419.7,350.5 420.3,350.5 420.9,350.5 421.5,350.5 422.1,350.5 422.7,350.5 423.3,350.5 424,350.5 424.6,350.5 425.2,350.5 425.8,350.5 426.4,350.5 427,350.5 427.6,350.5 428.2,350.5 428.8,350.5 429.4,350.5 430.1,350.6 430.7,350.6 431.3,350.6 431.9,350.6 432.5,350.6 433.1,350.6 433.7,350.6 434.3,350.6 434.9,350.6 435.5,350.6 436.1,350.6 436.8,350.6 437.4,350.6 438,350.6 438.6,350.6 439.2,350.6 439.8,350.6 440.4,350.6 441,350.6 441.6,350.6 442.2,350.6 442.9,350.6 443.5,350.6 444.1,350.6 444.7,350.6 445.3,350.6 445.9,350.6 446.5,350.7 447.1,350.7 447.7,350.7 448.3,350.7 448.9,350.7 449.6,350.7 450.2,350.7 450.8,350.7 451.4,350.7 452,350.7 452.6,350.7 453.2,350.7 453.8,350.7 454.4,350.7 455,350.7 455.7,350.7 456.3,350.7 456.9,350.7 457.5,350.7 458.1,350.7 458.7,350.7 459.3,350.7 459.9,350.7 460.5,350.7 461.1,350.7 461.7,350.7 462.4,350.8 463,350.8 463.6,350.8 464.2,350.8 464.8,350.8 465.4,350.8 466,350.8 466.6,350.8 467.2,350.8 467.8,350.8 468.5,350.8 469.1,350.8 469.7,350.8 470.3,350.8 470.9,350.8 471.5,350.8 472.1,350.8 472.7,350.8 473.3,350.8 473.9,350.8 474.5,350.8 475.2,350.8 475.8,350.8 476.4,350.8 477,350.8 477.6,350.8 478.2,350.8 478.8,350.9 479.4,350.9 480,350.9 480.6,350.9 481.3,350.9 481.9,350.9 482.5,350.9 483.1,350.9 483.7,350.9 484.3,350.9 484.9,350.9 485.5,350.9 486.1,350.9 486.7,350.9 487.3,350.9 488,350.9 488.6,350.9 489.2,350.9 489.8,350.9 490.4,350.9 491,350.9 491.6,350.9 492.2,350.9 492.8,350.9 493.4,350.9 494.1,350.9 494.7,351 495.3,351 495.9,351 496.5,351 497.1,351 497.7,351 498.3,351 498.9,351 499.5,351 500.1,351 500.8,351 501.4,351 502,351 502.6,351 503.2,351 503.8,351 504.4,351 505,351 505.6,351 506.2,351 506.9,351 507.5,351 508.1,351 508.7,351 509.3,351 509.9,351 510.5,351 511.1,351.1 511.7,351.1 512.3,351.1 512.9,351.1 513.6,351.1 514.2,351.1 514.8,351.1 515.4,351.1 516,351.1 516.6,351.1 517.2,351.1 517.8,351.1 518.4,351.1 519,351.1 519.7,351.1 520.3,351.1 520.9,351.1 521.5,351.1 522.1,351.1 522.7,351.1 523.3,351.1 523.9,351.1 524.5,351.1 525.1,351.1 525.7,351.1 526.4,351.1 527,351.2 527.6,351.2 528.2,351.2 528.8,351.2 529.4,351.2 530,351.2 530.6,351.2 531.2,351.2 531.8,351.2 532.5,351.2 533.1,351.2 533.7,351.2 534.3,351.2 534.9,351.2 535.5,351.2" fill="none" stroke="#9a8aa6" stroke-width="1.0" stroke-linejoin="round" stroke-linecap="round"/>
<line x1="291.8" y1="381.9" x2="291.8" y2="384.9" stroke="#000" stroke-width="1.1"/>
<line x1="353.4" y1="381.9" x2="353.4" y2="384.9" stroke="#000" stroke-width="1.1"/>
<line x1="415.1" y1="381.9" x2="415.1" y2="384.9" stroke="#000" stroke-width="1.1"/>
<line x1="476.8" y1="381.9" x2="476.8" y2="384.9" stroke="#000" stroke-width="1.1"/>
<line x1="538.4" y1="381.9" x2="538.4" y2="384.9" stroke="#000" stroke-width="1.1"/>
<line x1="322.6" y1="381.9" x2="322.6" y2="383.7" stroke="#000" stroke-width="1.0"/>
<line x1="384.3" y1="381.9" x2="384.3" y2="383.7" stroke="#000" stroke-width="1.0"/>
<line x1="445.9" y1="381.9" x2="445.9" y2="383.7" stroke="#000" stroke-width="1.0"/>
<line x1="507.6" y1="381.9" x2="507.6" y2="383.7" stroke="#000" stroke-width="1.0"/>
<line x1="395.9" y1="242" x2="410.5" y2="248.9" stroke="#222" stroke-width="0.75"/>
<polygon points="413.4,250.3 410,249.9 411,247.9" fill="#222"/>
<line x1="387.2" y1="302.8" x2="398.7" y2="310.5" stroke="#222" stroke-width="0.75"/>
<polygon points="401.4,312.3 398.1,311.4 399.4,309.6" fill="#222"/>
<rect x="448.3" y="213.1" width="20.2" height="8.6" fill="url(#ld1)" stroke="#4a6a5a" stroke-width="0.6"/>
<rect x="448.3" y="225.5" width="20.2" height="8.6" fill="url(#ld2)" stroke="#7a5a3a" stroke-width="0.6"/>
<rect x="448.3" y="236.8" width="20.2" height="8.8" fill="url(#ld3)" stroke="#666" stroke-width="0.6"/>
<text x="98.4" y="203.3" font-size="8.9" font-weight="bold" textLength="96.1" lengthAdjust="spacingAndGlyphs">Binding energy (eV)</text>
<text x="16.4" y="118" font-size="9.3" font-weight="bold" textLength="63.9" lengthAdjust="spacingAndGlyphs" transform="rotate(-90 16.4 118)">Intensity (a.u.)</text>
<text x="5.6" y="15.6" font-size="9.0" font-weight="bold" textLength="12" lengthAdjust="spacingAndGlyphs">(a)</text>
<text x="35.7" y="192.4" font-size="8.2" font-weight="bold" textLength="20.3" lengthAdjust="spacingAndGlyphs">1000</text>
<text x="82.9" y="192.4" font-size="8.2" font-weight="bold" textLength="15.3" lengthAdjust="spacingAndGlyphs">800</text>
<text x="127.6" y="192.4" font-size="8.2" font-weight="bold" textLength="15.3" lengthAdjust="spacingAndGlyphs">600</text>
<text x="172.3" y="192.4" font-size="8.2" font-weight="bold" textLength="15.3" lengthAdjust="spacingAndGlyphs">400</text>
<text x="217" y="192.4" font-size="8.2" font-weight="bold" textLength="15.3" lengthAdjust="spacingAndGlyphs">200</text>
<text x="266.7" y="192.4" font-size="8.2" font-weight="bold" textLength="5.3" lengthAdjust="spacingAndGlyphs">0</text>
<text x="54.9" y="85.2" font-size="8.3" font-weight="bold" textLength="25.9" lengthAdjust="spacingAndGlyphs" transform="rotate(-90 54.9 85.2)">O KL1</text>
<text x="113.3" y="99.1" font-size="8.3" font-weight="bold" textLength="21.1" lengthAdjust="spacingAndGlyphs" transform="rotate(-90 113.3 99.1)">Fe 2p</text>
<text x="154.5" y="46.4" font-size="8.3" font-weight="bold" textLength="19.3" lengthAdjust="spacingAndGlyphs" transform="rotate(-90 154.5 46.4)">O 1s</text>
<text x="183.5" y="102.8" font-size="8.3" font-weight="bold" textLength="25.7" lengthAdjust="spacingAndGlyphs" transform="rotate(-90 183.5 102.8)">Mo 3p</text>
<text x="209" y="39.9" font-size="8.3" font-weight="bold" textLength="18.7" lengthAdjust="spacingAndGlyphs" transform="rotate(-90 209 39.9)">C 1s</text>
<text x="221" y="107.1" font-size="8.3" font-weight="bold" textLength="25.7" lengthAdjust="spacingAndGlyphs" transform="rotate(-90 221 107.1)">Mo 3d</text>
<text x="236.2" y="141.3" font-size="8.3" font-weight="bold" textLength="18.6" lengthAdjust="spacingAndGlyphs" transform="rotate(-90 236.2 141.3)">S 3s</text>
<text x="366.3" y="203.4" font-size="8.9" font-weight="bold" textLength="97" lengthAdjust="spacingAndGlyphs">Binding energy (eV)</text>
<text x="283.7" y="118.9" font-size="9.1" font-weight="bold" textLength="63.6" lengthAdjust="spacingAndGlyphs" transform="rotate(-90 283.7 118.9)">Intensity (a.u.)</text>
<text x="273.9" y="15.4" font-size="9.0" font-weight="bold" textLength="12.6" lengthAdjust="spacingAndGlyphs">(b)</text>
<text x="294.8" y="192.3" font-size="8.2" font-weight="bold" textLength="15.4" lengthAdjust="spacingAndGlyphs">740</text>
<text x="347.1" y="192.3" font-size="8.2" font-weight="bold" textLength="15.4" lengthAdjust="spacingAndGlyphs">730</text>
<text x="399.4" y="192.3" font-size="8.2" font-weight="bold" textLength="15.4" lengthAdjust="spacingAndGlyphs">720</text>
<text x="451.7" y="192.3" font-size="8.2" font-weight="bold" textLength="15.4" lengthAdjust="spacingAndGlyphs">710</text>
<text x="504" y="192.3" font-size="8.2" font-weight="bold" textLength="15.4" lengthAdjust="spacingAndGlyphs">700</text>
<text x="297.5" y="17" font-size="8.6" font-weight="bold" textLength="24.4" lengthAdjust="spacingAndGlyphs">Fe 2p</text>
<text x="362.3" y="46.2" font-size="8.7" font-weight="bold" textLength="32.9" lengthAdjust="spacingAndGlyphs">Fe 2p<tspan font-size="6.2" dy="2.3">1/2</tspan><tspan dy="-2.3">&#8203;</tspan></text>
<text x="436.1" y="25.6" font-size="8.7" font-weight="bold" textLength="33.5" lengthAdjust="spacingAndGlyphs">Fe 2p<tspan font-size="6.2" dy="2.3">3/2</tspan><tspan dy="-2.3">&#8203;</tspan></text>
<text x="366.4" y="147" font-size="8.7" font-weight="bold" textLength="33.7" lengthAdjust="spacingAndGlyphs">Fe 2p<tspan font-size="6.2" dy="2.3">3/2</tspan><tspan dy="-2.3">&#8203;</tspan></text>
<text x="410.1" y="147" font-size="8.7" font-weight="bold" textLength="33.7" lengthAdjust="spacingAndGlyphs">Fe 2p<tspan font-size="6.2" dy="2.3">1/2</tspan><tspan dy="-2.3">&#8203;</tspan></text>
<text x="324.3" y="160.5" font-size="8.9" font-weight="bold" textLength="32.7" lengthAdjust="spacingAndGlyphs">Fe(II)-O</text>
<text x="324.3" y="171" font-size="8.9" font-weight="bold" textLength="35.1" lengthAdjust="spacingAndGlyphs">Fe(III)-O</text>
<text x="362.2" y="160.5" font-size="8.9" font-weight="normal" textLength="37.9" lengthAdjust="spacingAndGlyphs">710.5 eV</text>
<text x="404.7" y="160.5" font-size="8.9" font-weight="normal" textLength="38.2" lengthAdjust="spacingAndGlyphs">723.1 eV</text>
<text x="362.2" y="171" font-size="8.9" font-weight="normal" textLength="37.9" lengthAdjust="spacingAndGlyphs">712.7 eV</text>
<text x="404.7" y="171" font-size="8.9" font-weight="normal" textLength="38.2" lengthAdjust="spacingAndGlyphs">725.5 eV</text>
<text x="94.4" y="407.4" font-size="9.1" font-weight="bold" textLength="104" lengthAdjust="spacingAndGlyphs">Binding energy (eV)</text>
<text x="16.3" y="323" font-size="9.1" font-weight="bold" textLength="68.4" lengthAdjust="spacingAndGlyphs" transform="rotate(-90 16.3 323)">Intensity (a.u.)</text>
<text x="4.5" y="219" font-size="9.0" font-weight="bold" textLength="12.8" lengthAdjust="spacingAndGlyphs">(c)</text>
<text x="14.9" y="395" font-size="8.5" font-weight="bold" textLength="17" lengthAdjust="spacingAndGlyphs">240</text>
<text x="64.1" y="395" font-size="8.5" font-weight="bold" textLength="17" lengthAdjust="spacingAndGlyphs">236</text>
<text x="113.3" y="395" font-size="8.5" font-weight="bold" textLength="17" lengthAdjust="spacingAndGlyphs">232</text>
<text x="162.5" y="395" font-size="8.5" font-weight="bold" textLength="17" lengthAdjust="spacingAndGlyphs">228</text>
<text x="211.7" y="395" font-size="8.5" font-weight="bold" textLength="17" lengthAdjust="spacingAndGlyphs">224</text>
<text x="260.9" y="395" font-size="8.5" font-weight="bold" textLength="17" lengthAdjust="spacingAndGlyphs">220</text>
<text x="28.1" y="220.3" font-size="8.6" font-weight="bold" textLength="26.5" lengthAdjust="spacingAndGlyphs">Mo 3d</text>
<text x="50.5" y="271.3" font-size="8.4" font-weight="bold" textLength="50.5" lengthAdjust="spacingAndGlyphs">Mo3d<tspan font-size="6.2" dy="2.3">3/2</tspan><tspan dy="-2.3">&#8203;</tspan> (IV)</text>
<text x="44.5" y="307.7" font-size="8.4" font-weight="bold" textLength="50.9" lengthAdjust="spacingAndGlyphs">Mo3d<tspan font-size="6.2" dy="2.3">3/2</tspan><tspan dy="-2.3">&#8203;</tspan> (VI)</text>
<text x="127.8" y="296.2" font-size="8.4" font-weight="bold" textLength="51.2" lengthAdjust="spacingAndGlyphs">Mo3d<tspan font-size="6.2" dy="2.3">5/2</tspan><tspan dy="-2.3">&#8203;</tspan> (IV)</text>
<text x="180.2" y="350.4" font-size="8.7" font-weight="bold" textLength="19.1" lengthAdjust="spacingAndGlyphs">S 2s</text>
<text x="169.7" y="219.5" font-size="8.9" font-weight="bold" textLength="35.4" lengthAdjust="spacingAndGlyphs">Mo 3d<tspan font-size="6.2" dy="2.3">3/2</tspan><tspan dy="-2.3">&#8203;</tspan></text>
<text x="213.7" y="219.5" font-size="8.9" font-weight="bold" textLength="36.5" lengthAdjust="spacingAndGlyphs">Mo 3d<tspan font-size="6.2" dy="2.3">5/2</tspan><tspan dy="-2.3">&#8203;</tspan></text>
<text x="125.2" y="231.5" font-size="8.9" font-weight="bold" textLength="37.9" lengthAdjust="spacingAndGlyphs">Mo(IV)-S</text>
<text x="125.2" y="242.4" font-size="8.9" font-weight="bold" textLength="39" lengthAdjust="spacingAndGlyphs">Mo(IV)-O</text>
<text x="125.2" y="253.3" font-size="8.9" font-weight="bold" textLength="39" lengthAdjust="spacingAndGlyphs">Mo(VI)-O</text>
<text x="167.4" y="231.5" font-size="8.9" font-weight="normal" textLength="37" lengthAdjust="spacingAndGlyphs">232.2 eV</text>
<text x="212.5" y="231.5" font-size="8.9" font-weight="normal" textLength="37.2" lengthAdjust="spacingAndGlyphs">229.1 eV</text>
<text x="165.4" y="242.4" font-size="8.9" font-weight="normal" textLength="39" lengthAdjust="spacingAndGlyphs">232.8 eV</text>
<text x="212.5" y="242.4" font-size="8.9" font-weight="normal" textLength="37.2" lengthAdjust="spacingAndGlyphs">229.5 eV</text>
<text x="165.4" y="253.3" font-size="8.9" font-weight="normal" textLength="38.5" lengthAdjust="spacingAndGlyphs">235.8 eV</text>
<text x="363" y="407.4" font-size="9.1" font-weight="bold" textLength="103.9" lengthAdjust="spacingAndGlyphs">Binding energy (eV)</text>
<text x="284.1" y="322.5" font-size="9.1" font-weight="bold" textLength="67.9" lengthAdjust="spacingAndGlyphs" transform="rotate(-90 284.1 322.5)">Intensity (a.u.)</text>
<text x="273.5" y="216.9" font-size="9.0" font-weight="bold" textLength="12.2" lengthAdjust="spacingAndGlyphs">(d)</text>
<text x="283.7" y="394.6" font-size="8.5" font-weight="bold" textLength="16.8" lengthAdjust="spacingAndGlyphs">295</text>
<text x="345.4" y="394.6" font-size="8.5" font-weight="bold" textLength="16.8" lengthAdjust="spacingAndGlyphs">290</text>
<text x="407" y="394.6" font-size="8.5" font-weight="bold" textLength="16.8" lengthAdjust="spacingAndGlyphs">285</text>
<text x="468.7" y="394.6" font-size="8.5" font-weight="bold" textLength="16.8" lengthAdjust="spacingAndGlyphs">280</text>
<text x="530.3" y="394.6" font-size="8.5" font-weight="bold" textLength="16.8" lengthAdjust="spacingAndGlyphs">275</text>
<text x="296.8" y="219.5" font-size="8.4" font-weight="bold" textLength="20.4" lengthAdjust="spacingAndGlyphs">C 1s</text>
<text x="376.4" y="243.9" font-size="8.6" font-weight="bold" textLength="17.3" lengthAdjust="spacingAndGlyphs">C-C</text>
<text x="367" y="304.8" font-size="8.6" font-weight="bold" textLength="16.5" lengthAdjust="spacingAndGlyphs">C-S</text>
<text x="355.4" y="324" font-size="8.6" font-weight="bold" textLength="19.6" lengthAdjust="spacingAndGlyphs">C=O</text>
<text x="471.9" y="220.6" font-size="8.9" font-weight="bold" textLength="16.3" lengthAdjust="spacingAndGlyphs">C-C</text>
<text x="471.9" y="232.1" font-size="8.9" font-weight="bold" textLength="15.9" lengthAdjust="spacingAndGlyphs">C-S</text>
<text x="471.9" y="243.8" font-size="8.9" font-weight="bold" textLength="18.5" lengthAdjust="spacingAndGlyphs">C=O</text>
<text x="493.1" y="220.6" font-size="8.9" font-weight="normal" textLength="38.2" lengthAdjust="spacingAndGlyphs">285.0 eV</text>
<text x="492.3" y="232.1" font-size="8.9" font-weight="normal" textLength="38.6" lengthAdjust="spacingAndGlyphs">285.7 eV</text>
<text x="493.1" y="243.8" font-size="8.9" font-weight="normal" textLength="38.2" lengthAdjust="spacingAndGlyphs">288.9 eV</text>
</svg>
</body></html>
